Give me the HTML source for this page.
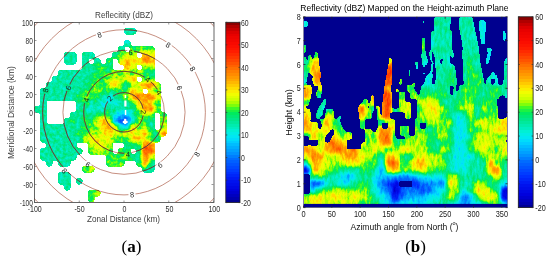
<!DOCTYPE html><html><head><meta charset="utf-8"><style>html,body{margin:0;padding:0;background:#fff;width:550px;height:258px;overflow:hidden}svg{display:block}</style></head><body>
<svg width="550" height="258" viewBox="0 0 550 258">
<defs><linearGradient id="jetL" x1="0" y1="0" x2="0" y2="1"><stop offset="0.0000" stop-color="rgb(139,0,0)"/><stop offset="0.0156" stop-color="rgb(139,0,0)"/><stop offset="0.0156" stop-color="rgb(176,0,0)"/><stop offset="0.0312" stop-color="rgb(176,0,0)"/><stop offset="0.0312" stop-color="rgb(199,0,0)"/><stop offset="0.0469" stop-color="rgb(199,0,0)"/><stop offset="0.0469" stop-color="rgb(220,0,0)"/><stop offset="0.0625" stop-color="rgb(220,0,0)"/><stop offset="0.0625" stop-color="rgb(232,1,0)"/><stop offset="0.0781" stop-color="rgb(232,1,0)"/><stop offset="0.0781" stop-color="rgb(238,4,0)"/><stop offset="0.0938" stop-color="rgb(238,4,0)"/><stop offset="0.0938" stop-color="rgb(242,6,0)"/><stop offset="0.1094" stop-color="rgb(242,6,0)"/><stop offset="0.1094" stop-color="rgb(248,9,0)"/><stop offset="0.1250" stop-color="rgb(248,9,0)"/><stop offset="0.1250" stop-color="rgb(251,14,0)"/><stop offset="0.1406" stop-color="rgb(251,14,0)"/><stop offset="0.1406" stop-color="rgb(253,21,0)"/><stop offset="0.1562" stop-color="rgb(253,21,0)"/><stop offset="0.1562" stop-color="rgb(255,29,0)"/><stop offset="0.1719" stop-color="rgb(255,29,0)"/><stop offset="0.1719" stop-color="rgb(255,42,0)"/><stop offset="0.1875" stop-color="rgb(255,42,0)"/><stop offset="0.1875" stop-color="rgb(255,55,0)"/><stop offset="0.2031" stop-color="rgb(255,55,0)"/><stop offset="0.2031" stop-color="rgb(255,69,0)"/><stop offset="0.2188" stop-color="rgb(255,69,0)"/><stop offset="0.2188" stop-color="rgb(255,83,0)"/><stop offset="0.2344" stop-color="rgb(255,83,0)"/><stop offset="0.2344" stop-color="rgb(255,98,0)"/><stop offset="0.2500" stop-color="rgb(255,98,0)"/><stop offset="0.2500" stop-color="rgb(255,112,0)"/><stop offset="0.2656" stop-color="rgb(255,112,0)"/><stop offset="0.2656" stop-color="rgb(255,126,0)"/><stop offset="0.2812" stop-color="rgb(255,126,0)"/><stop offset="0.2812" stop-color="rgb(255,139,0)"/><stop offset="0.2969" stop-color="rgb(255,139,0)"/><stop offset="0.2969" stop-color="rgb(255,153,0)"/><stop offset="0.3125" stop-color="rgb(255,153,0)"/><stop offset="0.3125" stop-color="rgb(255,166,0)"/><stop offset="0.3281" stop-color="rgb(255,166,0)"/><stop offset="0.3281" stop-color="rgb(255,183,0)"/><stop offset="0.3438" stop-color="rgb(255,183,0)"/><stop offset="0.3438" stop-color="rgb(255,202,0)"/><stop offset="0.3594" stop-color="rgb(255,202,0)"/><stop offset="0.3594" stop-color="rgb(255,221,0)"/><stop offset="0.3750" stop-color="rgb(255,221,0)"/><stop offset="0.3750" stop-color="rgb(250,238,0)"/><stop offset="0.3906" stop-color="rgb(250,238,0)"/><stop offset="0.3906" stop-color="rgb(241,253,0)"/><stop offset="0.4062" stop-color="rgb(241,253,0)"/><stop offset="0.4062" stop-color="rgb(223,255,0)"/><stop offset="0.4219" stop-color="rgb(223,255,0)"/><stop offset="0.4219" stop-color="rgb(205,255,0)"/><stop offset="0.4375" stop-color="rgb(205,255,0)"/><stop offset="0.4375" stop-color="rgb(173,255,0)"/><stop offset="0.4531" stop-color="rgb(173,255,0)"/><stop offset="0.4531" stop-color="rgb(126,254,11)"/><stop offset="0.4688" stop-color="rgb(126,254,11)"/><stop offset="0.4688" stop-color="rgb(64,250,38)"/><stop offset="0.4844" stop-color="rgb(64,250,38)"/><stop offset="0.4844" stop-color="rgb(28,242,67)"/><stop offset="0.5000" stop-color="rgb(28,242,67)"/><stop offset="0.5000" stop-color="rgb(0,235,94)"/><stop offset="0.5156" stop-color="rgb(0,235,94)"/><stop offset="0.5156" stop-color="rgb(0,232,116)"/><stop offset="0.5312" stop-color="rgb(0,232,116)"/><stop offset="0.5312" stop-color="rgb(0,231,137)"/><stop offset="0.5469" stop-color="rgb(0,231,137)"/><stop offset="0.5469" stop-color="rgb(0,233,156)"/><stop offset="0.5625" stop-color="rgb(0,233,156)"/><stop offset="0.5625" stop-color="rgb(0,236,175)"/><stop offset="0.5781" stop-color="rgb(0,236,175)"/><stop offset="0.5781" stop-color="rgb(0,238,193)"/><stop offset="0.5938" stop-color="rgb(0,238,193)"/><stop offset="0.5938" stop-color="rgb(0,240,212)"/><stop offset="0.6094" stop-color="rgb(0,240,212)"/><stop offset="0.6094" stop-color="rgb(0,237,229)"/><stop offset="0.6250" stop-color="rgb(0,237,229)"/><stop offset="0.6250" stop-color="rgb(0,231,243)"/><stop offset="0.6406" stop-color="rgb(0,231,243)"/><stop offset="0.6406" stop-color="rgb(0,220,251)"/><stop offset="0.6562" stop-color="rgb(0,220,251)"/><stop offset="0.6562" stop-color="rgb(0,206,255)"/><stop offset="0.6719" stop-color="rgb(0,206,255)"/><stop offset="0.6719" stop-color="rgb(0,189,255)"/><stop offset="0.6875" stop-color="rgb(0,189,255)"/><stop offset="0.6875" stop-color="rgb(0,174,255)"/><stop offset="0.7031" stop-color="rgb(0,174,255)"/><stop offset="0.7031" stop-color="rgb(0,160,255)"/><stop offset="0.7188" stop-color="rgb(0,160,255)"/><stop offset="0.7188" stop-color="rgb(0,145,255)"/><stop offset="0.7344" stop-color="rgb(0,145,255)"/><stop offset="0.7344" stop-color="rgb(0,126,255)"/><stop offset="0.7500" stop-color="rgb(0,126,255)"/><stop offset="0.7500" stop-color="rgb(0,108,255)"/><stop offset="0.7656" stop-color="rgb(0,108,255)"/><stop offset="0.7656" stop-color="rgb(0,96,255)"/><stop offset="0.7812" stop-color="rgb(0,96,255)"/><stop offset="0.7812" stop-color="rgb(0,84,255)"/><stop offset="0.7969" stop-color="rgb(0,84,255)"/><stop offset="0.7969" stop-color="rgb(0,72,255)"/><stop offset="0.8125" stop-color="rgb(0,72,255)"/><stop offset="0.8125" stop-color="rgb(0,60,255)"/><stop offset="0.8281" stop-color="rgb(0,60,255)"/><stop offset="0.8281" stop-color="rgb(0,48,254)"/><stop offset="0.8438" stop-color="rgb(0,48,254)"/><stop offset="0.8438" stop-color="rgb(0,38,249)"/><stop offset="0.8594" stop-color="rgb(0,38,249)"/><stop offset="0.8594" stop-color="rgb(0,27,244)"/><stop offset="0.8750" stop-color="rgb(0,27,244)"/><stop offset="0.8750" stop-color="rgb(0,18,238)"/><stop offset="0.8906" stop-color="rgb(0,18,238)"/><stop offset="0.8906" stop-color="rgb(0,13,233)"/><stop offset="0.9062" stop-color="rgb(0,13,233)"/><stop offset="0.9062" stop-color="rgb(0,7,227)"/><stop offset="0.9219" stop-color="rgb(0,7,227)"/><stop offset="0.9219" stop-color="rgb(0,1,221)"/><stop offset="0.9375" stop-color="rgb(0,1,221)"/><stop offset="0.9375" stop-color="rgb(0,0,208)"/><stop offset="0.9531" stop-color="rgb(0,0,208)"/><stop offset="0.9531" stop-color="rgb(0,0,192)"/><stop offset="0.9688" stop-color="rgb(0,0,192)"/><stop offset="0.9688" stop-color="rgb(0,0,176)"/><stop offset="0.9844" stop-color="rgb(0,0,176)"/><stop offset="0.9844" stop-color="rgb(0,0,146)"/><stop offset="1.0000" stop-color="rgb(0,0,146)"/></linearGradient>
<clipPath id="Rclip"><rect x="303.5" y="16.8" width="204.0" height="190.79999999999998"/></clipPath>
<filter id="Rf" x="293.5" y="6.800000000000001" width="224.0" height="210.79999999999998" filterUnits="userSpaceOnUse" color-interpolation-filters="sRGB">
 <feGaussianBlur in="SourceGraphic" stdDeviation="2.0" result="b"/>
 <feTurbulence type="fractalNoise" baseFrequency="0.4 0.15" numOctaves="2" seed="5" result="n0"/>
 <feColorMatrix in="n0" type="matrix" values="1 0 0 0 0 1 0 0 0 0 1 0 0 0 0 0 0 0 0 1" result="n"/>
 <feComposite in="b" in2="n" operator="arithmetic" k1="0" k2="1" k3="0.15" k4="-0.075" result="s"/>
 <feComponentTransfer in="s">
  <feFuncR type="discrete" tableValues="0.0000 0.0000 0.0000 0.0000 0.0000 0.0000 0.0000 0.0000 0.0000 0.0000 0.0000 0.0000 0.0000 0.0000 0.0000 0.0000 0.0000 0.0000 0.0000 0.0000 0.0000 0.0000 0.0000 0.0000 0.0000 0.0000 0.0000 0.0000 0.0000 0.0000 0.0000 0.0000 0.1096 0.2500 0.4951 0.6776 0.8032 0.8758 0.9449 0.9816 1.0000 1.0000 1.0000 1.0000 1.0000 1.0000 1.0000 1.0000 1.0000 1.0000 1.0000 1.0000 1.0000 0.9990 0.9915 0.9841 0.9706 0.9510 0.9314 0.9118 0.8611 0.7794 0.6912 0.5441"/>
  <feFuncG type="discrete" tableValues="0.0000 0.0000 0.0000 0.0000 0.0057 0.0275 0.0492 0.0710 0.1062 0.1482 0.1902 0.2369 0.2843 0.3312 0.3771 0.4231 0.4932 0.5686 0.6285 0.6830 0.7427 0.8063 0.8619 0.9064 0.9289 0.9401 0.9330 0.9239 0.9146 0.9052 0.9090 0.9197 0.9490 0.9812 0.9948 1.0000 1.0000 1.0000 0.9939 0.9326 0.8652 0.7917 0.7181 0.6510 0.5989 0.5467 0.4946 0.4398 0.3828 0.3258 0.2692 0.2162 0.1632 0.1135 0.0838 0.0541 0.0343 0.0245 0.0147 0.0049 0.0000 0.0000 0.0000 0.0000"/>
  <feFuncB type="discrete" tableValues="0.5711 0.6901 0.7531 0.8161 0.8684 0.8902 0.9120 0.9338 0.9550 0.9761 0.9971 1.0000 1.0000 1.0000 1.0000 1.0000 1.0000 1.0000 1.0000 1.0000 1.0000 1.0000 0.9860 0.9525 0.8971 0.8302 0.7582 0.6855 0.6109 0.5354 0.4535 0.3683 0.2616 0.1503 0.0414 0.0000 0.0000 0.0000 0.0000 0.0000 0.0000 0.0000 0.0000 0.0000 0.0000 0.0000 0.0000 0.0000 0.0000 0.0000 0.0000 0.0000 0.0000 0.0000 0.0000 0.0000 0.0000 0.0000 0.0000 0.0000 0.0000 0.0000 0.0000 0.0000"/>
  <feFuncA type="linear" slope="0" intercept="1"/>
 </feComponentTransfer>
</filter>
<filter id="Rmf" x="293.5" y="6.800000000000001" width="224.0" height="210.79999999999998" filterUnits="userSpaceOnUse" color-interpolation-filters="sRGB">
 <feGaussianBlur in="SourceGraphic" stdDeviation="1.2" result="b"/>
 <feComponentTransfer in="b">
  <feFuncR type="discrete" tableValues="0 1"/>
  <feFuncG type="discrete" tableValues="0 1"/>
  <feFuncB type="discrete" tableValues="0 1"/>
  <feFuncA type="linear" slope="0" intercept="1"/>
 </feComponentTransfer>
</filter>
<mask id="Rmask" maskUnits="userSpaceOnUse" x="303.5" y="16.8" width="204.0" height="190.79999999999998">
 <g filter="url(#Rmf)"><rect x="293.5" y="6.800000000000001" width="224.0" height="210.79999999999998" fill="#000"/><g fill="#fff"><rect x="303.50" y="153.09" width="7.40" height="7.41"/><rect x="310.30" y="153.09" width="7.40" height="7.41"/><rect x="317.10" y="153.09" width="7.40" height="7.41"/><rect x="323.90" y="153.09" width="7.40" height="7.41"/><rect x="330.70" y="153.09" width="7.40" height="7.41"/><rect x="337.50" y="153.09" width="7.40" height="7.41"/><rect x="344.30" y="153.09" width="7.40" height="7.41"/><rect x="351.10" y="153.09" width="7.40" height="7.41"/><rect x="357.90" y="153.09" width="7.40" height="7.41"/><rect x="364.70" y="153.09" width="7.40" height="7.41"/><rect x="371.50" y="153.09" width="7.40" height="7.41"/><rect x="378.30" y="153.09" width="7.40" height="7.41"/><rect x="385.10" y="153.09" width="7.40" height="7.41"/><rect x="391.90" y="153.09" width="7.40" height="7.41"/><rect x="398.70" y="153.09" width="7.40" height="7.41"/><rect x="405.50" y="153.09" width="7.40" height="7.41"/><rect x="412.30" y="153.09" width="7.40" height="7.41"/><rect x="419.10" y="153.09" width="7.40" height="7.41"/><rect x="425.90" y="153.09" width="7.40" height="7.41"/><rect x="432.70" y="153.09" width="7.40" height="7.41"/><rect x="439.50" y="153.09" width="7.40" height="7.41"/><rect x="446.30" y="153.09" width="7.40" height="7.41"/><rect x="453.10" y="153.09" width="7.40" height="7.41"/><rect x="459.90" y="153.09" width="7.40" height="7.41"/><rect x="466.70" y="153.09" width="7.40" height="7.41"/><rect x="473.50" y="153.09" width="7.40" height="7.41"/><rect x="480.30" y="153.09" width="7.40" height="7.41"/><rect x="487.10" y="153.09" width="7.40" height="7.41"/><rect x="493.90" y="153.09" width="7.40" height="7.41"/><rect x="500.70" y="153.09" width="7.40" height="7.41"/><rect x="303.50" y="159.90" width="7.40" height="7.41"/><rect x="310.30" y="159.90" width="7.40" height="7.41"/><rect x="317.10" y="159.90" width="7.40" height="7.41"/><rect x="323.90" y="159.90" width="7.40" height="7.41"/><rect x="330.70" y="159.90" width="7.40" height="7.41"/><rect x="337.50" y="159.90" width="7.40" height="7.41"/><rect x="344.30" y="159.90" width="7.40" height="7.41"/><rect x="351.10" y="159.90" width="7.40" height="7.41"/><rect x="357.90" y="159.90" width="7.40" height="7.41"/><rect x="364.70" y="159.90" width="7.40" height="7.41"/><rect x="371.50" y="159.90" width="7.40" height="7.41"/><rect x="378.30" y="159.90" width="7.40" height="7.41"/><rect x="385.10" y="159.90" width="7.40" height="7.41"/><rect x="391.90" y="159.90" width="7.40" height="7.41"/><rect x="398.70" y="159.90" width="7.40" height="7.41"/><rect x="405.50" y="159.90" width="7.40" height="7.41"/><rect x="412.30" y="159.90" width="7.40" height="7.41"/><rect x="419.10" y="159.90" width="7.40" height="7.41"/><rect x="425.90" y="159.90" width="7.40" height="7.41"/><rect x="432.70" y="159.90" width="7.40" height="7.41"/><rect x="439.50" y="159.90" width="7.40" height="7.41"/><rect x="446.30" y="159.90" width="7.40" height="7.41"/><rect x="453.10" y="159.90" width="7.40" height="7.41"/><rect x="459.90" y="159.90" width="7.40" height="7.41"/><rect x="466.70" y="159.90" width="7.40" height="7.41"/><rect x="473.50" y="159.90" width="7.40" height="7.41"/><rect x="480.30" y="159.90" width="7.40" height="7.41"/><rect x="487.10" y="159.90" width="7.40" height="7.41"/><rect x="493.90" y="159.90" width="7.40" height="7.41"/><rect x="500.70" y="159.90" width="7.40" height="7.41"/><rect x="303.50" y="166.71" width="7.40" height="7.41"/><rect x="310.30" y="166.71" width="7.40" height="7.41"/><rect x="317.10" y="166.71" width="7.40" height="7.41"/><rect x="323.90" y="166.71" width="7.40" height="7.41"/><rect x="330.70" y="166.71" width="7.40" height="7.41"/><rect x="337.50" y="166.71" width="7.40" height="7.41"/><rect x="344.30" y="166.71" width="7.40" height="7.41"/><rect x="351.10" y="166.71" width="7.40" height="7.41"/><rect x="357.90" y="166.71" width="7.40" height="7.41"/><rect x="364.70" y="166.71" width="7.40" height="7.41"/><rect x="371.50" y="166.71" width="7.40" height="7.41"/><rect x="378.30" y="166.71" width="7.40" height="7.41"/><rect x="385.10" y="166.71" width="7.40" height="7.41"/><rect x="391.90" y="166.71" width="7.40" height="7.41"/><rect x="398.70" y="166.71" width="7.40" height="7.41"/><rect x="405.50" y="166.71" width="7.40" height="7.41"/><rect x="412.30" y="166.71" width="7.40" height="7.41"/><rect x="419.10" y="166.71" width="7.40" height="7.41"/><rect x="425.90" y="166.71" width="7.40" height="7.41"/><rect x="432.70" y="166.71" width="7.40" height="7.41"/><rect x="439.50" y="166.71" width="7.40" height="7.41"/><rect x="446.30" y="166.71" width="7.40" height="7.41"/><rect x="453.10" y="166.71" width="7.40" height="7.41"/><rect x="459.90" y="166.71" width="7.40" height="7.41"/><rect x="466.70" y="166.71" width="7.40" height="7.41"/><rect x="473.50" y="166.71" width="7.40" height="7.41"/><rect x="480.30" y="166.71" width="7.40" height="7.41"/><rect x="487.10" y="166.71" width="7.40" height="7.41"/><rect x="493.90" y="166.71" width="7.40" height="7.41"/><rect x="500.70" y="166.71" width="7.40" height="7.41"/><rect x="310.30" y="173.53" width="7.40" height="7.41"/><rect x="317.10" y="173.53" width="7.40" height="7.41"/><rect x="323.90" y="173.53" width="7.40" height="7.41"/><rect x="330.70" y="173.53" width="7.40" height="7.41"/><rect x="337.50" y="173.53" width="7.40" height="7.41"/><rect x="344.30" y="173.53" width="7.40" height="7.41"/><rect x="351.10" y="173.53" width="7.40" height="7.41"/><rect x="357.90" y="173.53" width="7.40" height="7.41"/><rect x="364.70" y="173.53" width="7.40" height="7.41"/><rect x="371.50" y="173.53" width="7.40" height="7.41"/><rect x="378.30" y="173.53" width="7.40" height="7.41"/><rect x="385.10" y="173.53" width="7.40" height="7.41"/><rect x="391.90" y="173.53" width="7.40" height="7.41"/><rect x="398.70" y="173.53" width="7.40" height="7.41"/><rect x="405.50" y="173.53" width="7.40" height="7.41"/><rect x="412.30" y="173.53" width="7.40" height="7.41"/><rect x="419.10" y="173.53" width="7.40" height="7.41"/><rect x="425.90" y="173.53" width="7.40" height="7.41"/><rect x="432.70" y="173.53" width="7.40" height="7.41"/><rect x="439.50" y="173.53" width="7.40" height="7.41"/><rect x="446.30" y="173.53" width="7.40" height="7.41"/><rect x="453.10" y="173.53" width="7.40" height="7.41"/><rect x="459.90" y="173.53" width="7.40" height="7.41"/><rect x="466.70" y="173.53" width="7.40" height="7.41"/><rect x="473.50" y="173.53" width="7.40" height="7.41"/><rect x="480.30" y="173.53" width="7.40" height="7.41"/><rect x="487.10" y="173.53" width="7.40" height="7.41"/><rect x="493.90" y="173.53" width="7.40" height="7.41"/><rect x="500.70" y="173.53" width="7.40" height="7.41"/><rect x="310.30" y="180.34" width="7.40" height="7.41"/><rect x="317.10" y="180.34" width="7.40" height="7.41"/><rect x="323.90" y="180.34" width="7.40" height="7.41"/><rect x="330.70" y="180.34" width="7.40" height="7.41"/><rect x="337.50" y="180.34" width="7.40" height="7.41"/><rect x="344.30" y="180.34" width="7.40" height="7.41"/><rect x="351.10" y="180.34" width="7.40" height="7.41"/><rect x="357.90" y="180.34" width="7.40" height="7.41"/><rect x="364.70" y="180.34" width="7.40" height="7.41"/><rect x="371.50" y="180.34" width="7.40" height="7.41"/><rect x="378.30" y="180.34" width="7.40" height="7.41"/><rect x="385.10" y="180.34" width="7.40" height="7.41"/><rect x="391.90" y="180.34" width="7.40" height="7.41"/><rect x="412.30" y="180.34" width="7.40" height="7.41"/><rect x="419.10" y="180.34" width="7.40" height="7.41"/><rect x="425.90" y="180.34" width="7.40" height="7.41"/><rect x="432.70" y="180.34" width="7.40" height="7.41"/><rect x="439.50" y="180.34" width="7.40" height="7.41"/><rect x="446.30" y="180.34" width="7.40" height="7.41"/><rect x="453.10" y="180.34" width="7.40" height="7.41"/><rect x="459.90" y="180.34" width="7.40" height="7.41"/><rect x="466.70" y="180.34" width="7.40" height="7.41"/><rect x="473.50" y="180.34" width="7.40" height="7.41"/><rect x="480.30" y="180.34" width="7.40" height="7.41"/><rect x="487.10" y="180.34" width="7.40" height="7.41"/><rect x="493.90" y="180.34" width="7.40" height="7.41"/><rect x="500.70" y="180.34" width="7.40" height="7.41"/><rect x="310.30" y="187.16" width="7.40" height="7.41"/><rect x="317.10" y="187.16" width="7.40" height="7.41"/><rect x="323.90" y="187.16" width="7.40" height="7.41"/><rect x="330.70" y="187.16" width="7.40" height="7.41"/><rect x="337.50" y="187.16" width="7.40" height="7.41"/><rect x="344.30" y="187.16" width="7.40" height="7.41"/><rect x="351.10" y="187.16" width="7.40" height="7.41"/><rect x="357.90" y="187.16" width="7.40" height="7.41"/><rect x="364.70" y="187.16" width="7.40" height="7.41"/><rect x="371.50" y="187.16" width="7.40" height="7.41"/><rect x="378.30" y="187.16" width="7.40" height="7.41"/><rect x="385.10" y="187.16" width="7.40" height="7.41"/><rect x="391.90" y="187.16" width="7.40" height="7.41"/><rect x="398.70" y="187.16" width="7.40" height="7.41"/><rect x="405.50" y="187.16" width="7.40" height="7.41"/><rect x="412.30" y="187.16" width="7.40" height="7.41"/><rect x="419.10" y="187.16" width="7.40" height="7.41"/><rect x="425.90" y="187.16" width="7.40" height="7.41"/><rect x="432.70" y="187.16" width="7.40" height="7.41"/><rect x="439.50" y="187.16" width="7.40" height="7.41"/><rect x="446.30" y="187.16" width="7.40" height="7.41"/><rect x="453.10" y="187.16" width="7.40" height="7.41"/><rect x="459.90" y="187.16" width="7.40" height="7.41"/><rect x="466.70" y="187.16" width="7.40" height="7.41"/><rect x="473.50" y="187.16" width="7.40" height="7.41"/><rect x="480.30" y="187.16" width="7.40" height="7.41"/><rect x="487.10" y="187.16" width="7.40" height="7.41"/><rect x="493.90" y="187.16" width="7.40" height="7.41"/><rect x="500.70" y="187.16" width="7.40" height="7.41"/><rect x="303.50" y="193.97" width="7.40" height="7.41"/><rect x="310.30" y="193.97" width="7.40" height="7.41"/><rect x="317.10" y="193.97" width="7.40" height="7.41"/><rect x="323.90" y="193.97" width="7.40" height="7.41"/><rect x="330.70" y="193.97" width="7.40" height="7.41"/><rect x="337.50" y="193.97" width="7.40" height="7.41"/><rect x="344.30" y="193.97" width="7.40" height="7.41"/><rect x="351.10" y="193.97" width="7.40" height="7.41"/><rect x="357.90" y="193.97" width="7.40" height="7.41"/><rect x="364.70" y="193.97" width="7.40" height="7.41"/><rect x="371.50" y="193.97" width="7.40" height="7.41"/><rect x="378.30" y="193.97" width="7.40" height="7.41"/><rect x="385.10" y="193.97" width="7.40" height="7.41"/><rect x="391.90" y="193.97" width="7.40" height="7.41"/><rect x="398.70" y="193.97" width="7.40" height="7.41"/><rect x="405.50" y="193.97" width="7.40" height="7.41"/><rect x="412.30" y="193.97" width="7.40" height="7.41"/><rect x="419.10" y="193.97" width="7.40" height="7.41"/><rect x="425.90" y="193.97" width="7.40" height="7.41"/><rect x="432.70" y="193.97" width="7.40" height="7.41"/><rect x="439.50" y="193.97" width="7.40" height="7.41"/><rect x="446.30" y="193.97" width="7.40" height="7.41"/><rect x="453.10" y="193.97" width="7.40" height="7.41"/><rect x="459.90" y="193.97" width="7.40" height="7.41"/><rect x="466.70" y="193.97" width="7.40" height="7.41"/><rect x="473.50" y="193.97" width="7.40" height="7.41"/><rect x="480.30" y="193.97" width="7.40" height="7.41"/><rect x="487.10" y="193.97" width="7.40" height="7.41"/><rect x="493.90" y="193.97" width="7.40" height="7.41"/><rect x="500.70" y="193.97" width="7.40" height="7.41"/><rect x="303.50" y="200.79" width="7.40" height="7.41"/><rect x="310.30" y="200.79" width="7.40" height="7.41"/><rect x="317.10" y="200.79" width="7.40" height="7.41"/><rect x="323.90" y="200.79" width="7.40" height="7.41"/><rect x="330.70" y="200.79" width="7.40" height="7.41"/><rect x="337.50" y="200.79" width="7.40" height="7.41"/><rect x="344.30" y="200.79" width="7.40" height="7.41"/><rect x="351.10" y="200.79" width="7.40" height="7.41"/><rect x="357.90" y="200.79" width="7.40" height="7.41"/><rect x="364.70" y="200.79" width="7.40" height="7.41"/><rect x="371.50" y="200.79" width="7.40" height="7.41"/><rect x="378.30" y="200.79" width="7.40" height="7.41"/><rect x="385.10" y="200.79" width="7.40" height="7.41"/><rect x="391.90" y="200.79" width="7.40" height="7.41"/><rect x="398.70" y="200.79" width="7.40" height="7.41"/><rect x="405.50" y="200.79" width="7.40" height="7.41"/><rect x="412.30" y="200.79" width="7.40" height="7.41"/><rect x="419.10" y="200.79" width="7.40" height="7.41"/><rect x="425.90" y="200.79" width="7.40" height="7.41"/><rect x="432.70" y="200.79" width="7.40" height="7.41"/><rect x="439.50" y="200.79" width="7.40" height="7.41"/><rect x="446.30" y="200.79" width="7.40" height="7.41"/><rect x="453.10" y="200.79" width="7.40" height="7.41"/><rect x="459.90" y="200.79" width="7.40" height="7.41"/><rect x="466.70" y="200.79" width="7.40" height="7.41"/><rect x="473.50" y="200.79" width="7.40" height="7.41"/><rect x="480.30" y="200.79" width="7.40" height="7.41"/><rect x="487.10" y="200.79" width="7.40" height="7.41"/><rect x="493.90" y="200.79" width="7.40" height="7.41"/><rect x="500.70" y="200.79" width="7.40" height="7.41"/><rect x="304.05" y="20.39" width="3.56" height="3.79"/><rect x="304.05" y="23.79" width="3.56" height="3.79"/><rect x="303.66" y="44.14" width="2.64" height="3.79"/><rect x="303.66" y="47.54" width="2.64" height="3.79"/><rect x="304.05" y="50.93" width="1.58" height="3.79"/><rect x="314.86" y="50.93" width="2.64" height="3.79"/><rect x="304.05" y="54.32" width="1.58" height="3.79"/><rect x="308.27" y="54.32" width="2.64" height="3.79"/><rect x="314.20" y="54.32" width="3.95" height="3.79"/><rect x="304.05" y="57.71" width="2.24" height="3.79"/><rect x="308.27" y="57.71" width="3.95" height="3.79"/><rect x="313.54" y="57.71" width="5.27" height="3.79"/><rect x="304.05" y="61.11" width="8.17" height="3.79"/><rect x="313.28" y="61.11" width="6.19" height="3.79"/><rect x="304.05" y="64.50" width="15.42" height="3.79"/><rect x="304.05" y="67.89" width="16.07" height="3.79"/><rect x="304.05" y="71.29" width="4.22" height="3.79"/><rect x="310.25" y="71.29" width="10.54" height="3.79"/><rect x="304.05" y="74.68" width="3.56" height="3.79"/><rect x="312.88" y="74.68" width="7.91" height="3.79"/><rect x="304.05" y="78.07" width="2.90" height="3.79"/><rect x="312.22" y="78.07" width="7.91" height="3.79"/><rect x="304.05" y="81.46" width="2.24" height="3.79"/><rect x="313.54" y="81.46" width="7.25" height="3.79"/><rect x="304.05" y="84.86" width="7.51" height="3.79"/><rect x="314.20" y="84.86" width="1.32" height="3.79"/><rect x="318.15" y="84.86" width="3.95" height="3.79"/><rect x="304.05" y="88.25" width="7.51" height="3.79"/><rect x="317.49" y="88.25" width="4.61" height="3.79"/><rect x="304.05" y="91.64" width="7.51" height="3.79"/><rect x="315.52" y="91.64" width="1.98" height="3.79"/><rect x="318.15" y="91.64" width="3.29" height="3.79"/><rect x="304.05" y="95.04" width="6.85" height="3.79"/><rect x="316.18" y="95.04" width="1.32" height="3.79"/><rect x="318.81" y="95.04" width="2.64" height="3.79"/><rect x="304.05" y="98.43" width="6.19" height="3.79"/><rect x="316.18" y="98.43" width="1.32" height="3.79"/><rect x="323.42" y="98.43" width="2.64" height="3.79"/><rect x="363.61" y="98.43" width="3.95" height="3.79"/><rect x="304.05" y="101.82" width="4.87" height="3.79"/><rect x="321.45" y="101.82" width="4.61" height="3.79"/><rect x="360.97" y="101.82" width="7.25" height="3.79"/><rect x="369.53" y="101.82" width="2.50" height="3.79"/><rect x="304.05" y="105.21" width="1.58" height="3.79"/><rect x="318.81" y="105.21" width="5.93" height="3.79"/><rect x="358.34" y="105.21" width="9.22" height="3.79"/><rect x="369.53" y="105.21" width="2.50" height="3.79"/><rect x="304.05" y="108.61" width="6.19" height="3.79"/><rect x="317.49" y="108.61" width="5.93" height="3.79"/><rect x="326.06" y="108.61" width="7.25" height="3.79"/><rect x="358.34" y="108.61" width="9.22" height="3.79"/><rect x="368.88" y="108.61" width="3.16" height="3.79"/><rect x="304.05" y="112.00" width="6.85" height="3.79"/><rect x="316.18" y="112.00" width="6.59" height="3.79"/><rect x="325.40" y="112.00" width="8.56" height="3.79"/><rect x="358.99" y="112.00" width="8.56" height="3.79"/><rect x="368.88" y="112.00" width="3.16" height="3.79"/><rect x="304.05" y="115.39" width="7.51" height="3.79"/><rect x="316.18" y="115.39" width="3.95" height="3.79"/><rect x="324.74" y="115.39" width="9.22" height="3.79"/><rect x="338.57" y="115.39" width="2.64" height="3.79"/><rect x="358.99" y="115.39" width="9.22" height="3.79"/><rect x="368.88" y="115.39" width="3.16" height="3.79"/><rect x="303.66" y="118.79" width="6.32" height="3.79"/><rect x="320.39" y="118.79" width="19.63" height="3.79"/><rect x="360.05" y="118.79" width="5.01" height="3.79"/><rect x="303.66" y="122.18" width="14.36" height="3.79"/><rect x="321.58" y="122.18" width="19.63" height="3.79"/><rect x="360.05" y="122.18" width="5.01" height="3.79"/><rect x="303.66" y="125.57" width="14.36" height="3.79"/><rect x="321.58" y="125.57" width="20.95" height="3.79"/><rect x="360.05" y="125.57" width="5.01" height="3.79"/><rect x="303.66" y="128.96" width="26.35" height="3.79"/><rect x="334.36" y="128.96" width="10.80" height="3.79"/><rect x="365.06" y="128.96" width="6.98" height="3.79"/><rect x="303.66" y="132.36" width="23.32" height="3.79"/><rect x="334.36" y="132.36" width="17.65" height="3.79"/><rect x="365.06" y="132.36" width="6.98" height="3.79"/><rect x="308.80" y="135.75" width="16.21" height="3.79"/><rect x="331.99" y="135.75" width="20.03" height="3.79"/><rect x="365.06" y="135.75" width="6.98" height="3.79"/><rect x="308.80" y="139.14" width="1.19" height="3.79"/><rect x="318.02" y="139.14" width="6.98" height="3.79"/><rect x="330.01" y="139.14" width="17.00" height="3.79"/><rect x="365.06" y="139.14" width="6.98" height="3.79"/><rect x="308.80" y="142.54" width="1.19" height="3.79"/><rect x="318.02" y="142.54" width="28.99" height="3.79"/><rect x="361.37" y="142.54" width="10.67" height="3.79"/><rect x="303.66" y="145.93" width="43.35" height="3.79"/><rect x="361.37" y="145.93" width="10.67" height="3.79"/><rect x="303.66" y="149.32" width="68.38" height="3.79"/><rect x="423.04" y="17.00" width="1.32" height="3.79"/><rect x="434.24" y="17.00" width="5.80" height="3.79"/><rect x="422.38" y="20.39" width="1.98" height="3.79"/><rect x="434.24" y="20.39" width="5.80" height="3.79"/><rect x="434.24" y="23.79" width="5.80" height="3.79"/><rect x="434.24" y="27.18" width="5.80" height="3.79"/><rect x="430.95" y="30.57" width="1.98" height="3.79"/><rect x="434.24" y="30.57" width="5.80" height="3.79"/><rect x="430.95" y="33.96" width="1.98" height="3.79"/><rect x="434.24" y="33.96" width="5.80" height="3.79"/><rect x="421.72" y="37.36" width="3.29" height="3.79"/><rect x="430.95" y="37.36" width="1.98" height="3.79"/><rect x="434.24" y="37.36" width="5.80" height="3.79"/><rect x="421.72" y="40.75" width="3.29" height="3.79"/><rect x="430.95" y="40.75" width="1.98" height="3.79"/><rect x="434.24" y="40.75" width="5.80" height="3.79"/><rect x="421.72" y="44.14" width="3.29" height="3.79"/><rect x="430.95" y="44.14" width="1.98" height="3.79"/><rect x="434.24" y="44.14" width="5.80" height="3.79"/><rect x="421.72" y="47.54" width="3.29" height="3.79"/><rect x="430.95" y="47.54" width="1.98" height="3.79"/><rect x="434.24" y="47.54" width="5.80" height="3.79"/><rect x="421.72" y="50.93" width="4.61" height="3.79"/><rect x="428.97" y="50.93" width="2.64" height="3.79"/><rect x="433.58" y="50.93" width="6.46" height="3.79"/><rect x="421.07" y="54.32" width="5.27" height="3.79"/><rect x="429.63" y="54.32" width="2.64" height="3.79"/><rect x="434.24" y="54.32" width="5.80" height="3.79"/><rect x="388.79" y="57.71" width="3.03" height="3.79"/><rect x="421.72" y="57.71" width="1.32" height="3.79"/><rect x="424.36" y="57.71" width="3.29" height="3.79"/><rect x="430.29" y="57.71" width="1.98" height="3.79"/><rect x="435.56" y="57.71" width="4.48" height="3.79"/><rect x="388.79" y="61.11" width="3.03" height="3.79"/><rect x="415.14" y="61.11" width="2.64" height="3.79"/><rect x="421.72" y="61.11" width="1.98" height="3.79"/><rect x="425.02" y="61.11" width="2.64" height="3.79"/><rect x="431.61" y="61.11" width="1.98" height="3.79"/><rect x="435.56" y="61.11" width="4.48" height="3.79"/><rect x="388.13" y="64.50" width="3.95" height="3.79"/><rect x="415.80" y="64.50" width="2.64" height="3.79"/><rect x="423.04" y="64.50" width="1.98" height="3.79"/><rect x="430.95" y="64.50" width="1.98" height="3.79"/><rect x="434.90" y="64.50" width="5.14" height="3.79"/><rect x="387.47" y="67.89" width="4.61" height="3.79"/><rect x="408.55" y="67.89" width="1.71" height="3.79"/><rect x="416.45" y="67.89" width="1.32" height="3.79"/><rect x="430.95" y="67.89" width="1.98" height="3.79"/><rect x="436.22" y="67.89" width="3.82" height="3.79"/><rect x="386.81" y="71.29" width="5.27" height="3.79"/><rect x="408.55" y="71.29" width="1.71" height="3.79"/><rect x="423.04" y="71.29" width="1.98" height="3.79"/><rect x="429.63" y="71.29" width="2.64" height="3.79"/><rect x="435.56" y="71.29" width="4.48" height="3.79"/><rect x="386.15" y="74.68" width="5.93" height="3.79"/><rect x="408.55" y="74.68" width="1.71" height="3.79"/><rect x="426.34" y="74.68" width="6.59" height="3.79"/><rect x="435.56" y="74.68" width="4.48" height="3.79"/><rect x="385.49" y="78.07" width="6.59" height="3.79"/><rect x="399.99" y="78.07" width="1.98" height="3.79"/><rect x="425.02" y="78.07" width="6.59" height="3.79"/><rect x="435.56" y="78.07" width="4.48" height="3.79"/><rect x="385.49" y="81.46" width="6.59" height="3.79"/><rect x="399.33" y="81.46" width="2.64" height="3.79"/><rect x="413.16" y="81.46" width="1.98" height="3.79"/><rect x="424.36" y="81.46" width="7.91" height="3.79"/><rect x="434.90" y="81.46" width="5.14" height="3.79"/><rect x="384.18" y="84.86" width="6.59" height="3.79"/><rect x="406.57" y="84.86" width="7.91" height="3.79"/><rect x="421.07" y="84.86" width="18.97" height="3.79"/><rect x="384.18" y="88.25" width="6.59" height="3.79"/><rect x="395.37" y="88.25" width="3.29" height="3.79"/><rect x="407.23" y="88.25" width="7.25" height="3.79"/><rect x="420.41" y="88.25" width="19.63" height="3.79"/><rect x="383.52" y="91.64" width="8.43" height="3.79"/><rect x="399.06" y="91.64" width="5.93" height="3.79"/><rect x="410.00" y="91.64" width="6.98" height="3.79"/><rect x="420.01" y="91.64" width="20.03" height="3.79"/><rect x="371.00" y="95.04" width="3.29" height="3.79"/><rect x="382.86" y="95.04" width="9.09" height="3.79"/><rect x="399.06" y="95.04" width="5.93" height="3.79"/><rect x="410.00" y="95.04" width="30.04" height="3.79"/><rect x="371.00" y="98.43" width="3.29" height="3.79"/><rect x="382.86" y="98.43" width="9.09" height="3.79"/><rect x="399.06" y="98.43" width="5.93" height="3.79"/><rect x="416.98" y="98.43" width="23.06" height="3.79"/><rect x="371.00" y="101.82" width="3.29" height="3.79"/><rect x="382.20" y="101.82" width="9.75" height="3.79"/><rect x="399.06" y="101.82" width="11.99" height="3.79"/><rect x="416.98" y="101.82" width="23.06" height="3.79"/><rect x="371.00" y="105.21" width="3.29" height="3.79"/><rect x="376.27" y="105.21" width="3.29" height="3.79"/><rect x="382.20" y="105.21" width="9.75" height="3.79"/><rect x="399.06" y="105.21" width="11.99" height="3.79"/><rect x="416.98" y="105.21" width="23.06" height="3.79"/><rect x="371.00" y="108.61" width="2.64" height="3.79"/><rect x="376.93" y="108.61" width="3.29" height="3.79"/><rect x="382.20" y="108.61" width="28.85" height="3.79"/><rect x="416.98" y="108.61" width="23.06" height="3.79"/><rect x="376.93" y="112.00" width="3.29" height="3.79"/><rect x="382.20" y="112.00" width="7.77" height="3.79"/><rect x="404.99" y="112.00" width="6.06" height="3.79"/><rect x="416.98" y="112.00" width="23.06" height="3.79"/><rect x="376.93" y="115.39" width="3.95" height="3.79"/><rect x="382.20" y="115.39" width="7.77" height="3.79"/><rect x="404.99" y="115.39" width="6.06" height="3.79"/><rect x="416.98" y="115.39" width="23.06" height="3.79"/><rect x="377.85" y="118.79" width="17.13" height="3.79"/><rect x="415.01" y="118.79" width="25.03" height="3.79"/><rect x="377.85" y="122.18" width="4.08" height="3.79"/><rect x="388.00" y="122.18" width="6.98" height="3.79"/><rect x="415.01" y="122.18" width="4.74" height="3.79"/><rect x="426.34" y="122.18" width="13.70" height="3.79"/><rect x="377.85" y="125.57" width="4.08" height="3.79"/><rect x="388.00" y="125.57" width="6.98" height="3.79"/><rect x="399.99" y="125.57" width="8.96" height="3.79"/><rect x="415.01" y="125.57" width="4.74" height="3.79"/><rect x="426.34" y="125.57" width="13.70" height="3.79"/><rect x="376.27" y="128.96" width="18.71" height="3.79"/><rect x="399.99" y="128.96" width="8.96" height="3.79"/><rect x="415.01" y="128.96" width="25.03" height="3.79"/><rect x="371.00" y="132.36" width="23.98" height="3.79"/><rect x="399.99" y="132.36" width="8.96" height="3.79"/><rect x="415.01" y="132.36" width="25.03" height="3.79"/><rect x="371.00" y="135.75" width="25.03" height="3.79"/><rect x="405.26" y="135.75" width="34.78" height="3.79"/><rect x="371.00" y="139.14" width="69.04" height="3.79"/><rect x="371.00" y="142.54" width="69.04" height="3.79"/><rect x="371.00" y="145.93" width="69.04" height="3.79"/><rect x="371.00" y="149.32" width="69.04" height="3.79"/><rect x="439.00" y="17.00" width="12.52" height="3.79"/><rect x="458.76" y="17.00" width="14.23" height="3.79"/><rect x="439.00" y="20.39" width="11.86" height="3.79"/><rect x="459.03" y="20.39" width="14.49" height="3.79"/><rect x="478.53" y="20.39" width="7.25" height="3.79"/><rect x="439.00" y="23.79" width="11.20" height="3.79"/><rect x="459.42" y="23.79" width="14.62" height="3.79"/><rect x="478.53" y="23.79" width="7.25" height="3.79"/><rect x="439.00" y="27.18" width="11.20" height="3.79"/><rect x="459.42" y="27.18" width="15.42" height="3.79"/><rect x="479.18" y="27.18" width="6.59" height="3.79"/><rect x="439.00" y="30.57" width="13.18" height="3.79"/><rect x="460.08" y="30.57" width="15.55" height="3.79"/><rect x="479.84" y="30.57" width="5.53" height="3.79"/><rect x="502.90" y="30.57" width="2.64" height="3.79"/><rect x="439.00" y="33.96" width="13.18" height="3.79"/><rect x="460.74" y="33.96" width="15.68" height="3.79"/><rect x="480.11" y="33.96" width="5.27" height="3.79"/><rect x="502.90" y="33.96" width="2.64" height="3.79"/><rect x="439.00" y="37.36" width="13.18" height="3.79"/><rect x="461.40" y="37.36" width="15.81" height="3.79"/><rect x="480.50" y="37.36" width="4.61" height="3.79"/><rect x="502.90" y="37.36" width="2.64" height="3.79"/><rect x="439.00" y="40.75" width="13.18" height="3.79"/><rect x="462.06" y="40.75" width="15.81" height="3.79"/><rect x="480.90" y="40.75" width="4.22" height="3.79"/><rect x="439.00" y="44.14" width="12.52" height="3.79"/><rect x="462.45" y="44.14" width="16.07" height="3.79"/><rect x="439.00" y="47.54" width="13.18" height="3.79"/><rect x="462.72" y="47.54" width="16.21" height="3.79"/><rect x="486.43" y="47.54" width="5.27" height="3.79"/><rect x="439.00" y="50.93" width="14.49" height="3.79"/><rect x="461.40" y="50.93" width="17.79" height="3.79"/><rect x="487.75" y="50.93" width="3.29" height="3.79"/><rect x="439.00" y="54.32" width="10.54" height="3.79"/><rect x="451.52" y="54.32" width="2.64" height="3.79"/><rect x="462.06" y="54.32" width="17.79" height="3.79"/><rect x="487.09" y="54.32" width="3.29" height="3.79"/><rect x="439.00" y="57.71" width="1.32" height="3.79"/><rect x="442.95" y="57.71" width="7.25" height="3.79"/><rect x="462.72" y="57.71" width="17.13" height="3.79"/><rect x="485.77" y="57.71" width="3.95" height="3.79"/><rect x="504.88" y="57.71" width="2.52" height="3.79"/><rect x="442.29" y="61.11" width="7.91" height="3.79"/><rect x="463.37" y="61.11" width="17.13" height="3.79"/><rect x="485.77" y="61.11" width="2.64" height="3.79"/><rect x="504.22" y="61.11" width="3.18" height="3.79"/><rect x="439.00" y="64.50" width="15.81" height="3.79"/><rect x="463.37" y="64.50" width="17.79" height="3.79"/><rect x="503.56" y="64.50" width="3.84" height="3.79"/><rect x="439.00" y="67.89" width="16.47" height="3.79"/><rect x="463.37" y="67.89" width="18.45" height="3.79"/><rect x="503.56" y="67.89" width="3.84" height="3.79"/><rect x="439.00" y="71.29" width="17.13" height="3.79"/><rect x="463.37" y="71.29" width="19.10" height="3.79"/><rect x="491.70" y="71.29" width="2.64" height="3.79"/><rect x="503.56" y="71.29" width="3.84" height="3.79"/><rect x="439.00" y="74.68" width="17.13" height="3.79"/><rect x="463.37" y="74.68" width="19.76" height="3.79"/><rect x="489.07" y="74.68" width="7.91" height="3.79"/><rect x="503.56" y="74.68" width="3.84" height="3.79"/><rect x="439.00" y="78.07" width="17.79" height="3.79"/><rect x="463.37" y="78.07" width="20.42" height="3.79"/><rect x="486.43" y="78.07" width="3.95" height="3.79"/><rect x="495.65" y="78.07" width="2.64" height="3.79"/><rect x="503.56" y="78.07" width="3.84" height="3.79"/><rect x="439.00" y="81.46" width="18.45" height="3.79"/><rect x="464.03" y="81.46" width="20.42" height="3.79"/><rect x="486.43" y="81.46" width="4.61" height="3.79"/><rect x="494.34" y="81.46" width="3.95" height="3.79"/><rect x="502.90" y="81.46" width="4.50" height="3.79"/><rect x="439.00" y="84.86" width="11.20" height="3.79"/><rect x="453.49" y="84.86" width="1.98" height="3.79"/><rect x="459.42" y="84.86" width="47.98" height="3.79"/><rect x="439.00" y="88.25" width="4.61" height="3.79"/><rect x="444.93" y="88.25" width="5.27" height="3.79"/><rect x="453.49" y="88.25" width="2.64" height="3.79"/><rect x="458.76" y="88.25" width="48.64" height="3.79"/><rect x="439.00" y="91.64" width="11.20" height="3.79"/><rect x="453.49" y="91.64" width="53.91" height="3.79"/><rect x="439.00" y="95.04" width="60.61" height="3.79"/><rect x="504.88" y="95.04" width="2.52" height="3.79"/><rect x="439.00" y="98.43" width="57.31" height="3.79"/><rect x="439.00" y="101.82" width="57.97" height="3.79"/><rect x="439.00" y="105.21" width="58.63" height="3.79"/><rect x="439.00" y="108.61" width="59.29" height="3.79"/><rect x="439.00" y="112.00" width="59.29" height="3.79"/><rect x="439.00" y="115.39" width="58.63" height="3.79"/><rect x="505.53" y="115.39" width="1.87" height="3.79"/><rect x="439.00" y="118.79" width="68.40" height="3.79"/><rect x="439.00" y="122.18" width="68.40" height="3.79"/><rect x="439.00" y="125.57" width="68.40" height="3.79"/><rect x="439.00" y="128.96" width="68.40" height="3.79"/><rect x="439.00" y="132.36" width="68.40" height="3.79"/><rect x="439.00" y="135.75" width="68.40" height="3.79"/><rect x="439.00" y="139.14" width="67.19" height="3.79"/><rect x="439.00" y="142.54" width="68.40" height="3.79"/><rect x="439.00" y="145.93" width="68.40" height="3.79"/><rect x="439.00" y="149.32" width="68.40" height="3.79"/></g></g>
</mask>

<clipPath id="Lclip"><rect x="34" y="22" width="180" height="180"/></clipPath>
<filter id="Lf" x="24" y="12" width="200" height="200" filterUnits="userSpaceOnUse" color-interpolation-filters="sRGB">
 <feGaussianBlur in="SourceGraphic" stdDeviation="2.0" result="b"/>
 <feTurbulence type="fractalNoise" baseFrequency="0.3" numOctaves="2" seed="3" result="n0"/>
 <feColorMatrix in="n0" type="matrix" values="1 0 0 0 0 1 0 0 0 0 1 0 0 0 0 0 0 0 0 1" result="n"/>
 <feComposite in="b" in2="n" operator="arithmetic" k1="0" k2="1" k3="0.16" k4="-0.08" result="s"/>
 <feComponentTransfer in="s">
  <feFuncR type="discrete" tableValues="0.0000 0.0000 0.0000 0.0000 0.0000 0.0000 0.0000 0.0000 0.0000 0.0000 0.0000 0.0000 0.0000 0.0000 0.0000 0.0000 0.0000 0.0000 0.0000 0.0000 0.0000 0.0000 0.0000 0.0000 0.0000 0.0000 0.0000 0.0000 0.0000 0.0000 0.0000 0.0000 0.1096 0.2500 0.4951 0.6776 0.8032 0.8758 0.9449 0.9816 1.0000 1.0000 1.0000 1.0000 1.0000 1.0000 1.0000 1.0000 1.0000 1.0000 1.0000 1.0000 1.0000 0.9990 0.9915 0.9841 0.9706 0.9510 0.9314 0.9118 0.8611 0.7794 0.6912 0.5441"/>
  <feFuncG type="discrete" tableValues="0.0000 0.0000 0.0000 0.0000 0.0057 0.0275 0.0492 0.0710 0.1062 0.1482 0.1902 0.2369 0.2843 0.3312 0.3771 0.4231 0.4932 0.5686 0.6285 0.6830 0.7427 0.8063 0.8619 0.9064 0.9289 0.9401 0.9330 0.9239 0.9146 0.9052 0.9090 0.9197 0.9490 0.9812 0.9948 1.0000 1.0000 1.0000 0.9939 0.9326 0.8652 0.7917 0.7181 0.6510 0.5989 0.5467 0.4946 0.4398 0.3828 0.3258 0.2692 0.2162 0.1632 0.1135 0.0838 0.0541 0.0343 0.0245 0.0147 0.0049 0.0000 0.0000 0.0000 0.0000"/>
  <feFuncB type="discrete" tableValues="0.5711 0.6901 0.7531 0.8161 0.8684 0.8902 0.9120 0.9338 0.9550 0.9761 0.9971 1.0000 1.0000 1.0000 1.0000 1.0000 1.0000 1.0000 1.0000 1.0000 1.0000 1.0000 0.9860 0.9525 0.8971 0.8302 0.7582 0.6855 0.6109 0.5354 0.4535 0.3683 0.2616 0.1503 0.0414 0.0000 0.0000 0.0000 0.0000 0.0000 0.0000 0.0000 0.0000 0.0000 0.0000 0.0000 0.0000 0.0000 0.0000 0.0000 0.0000 0.0000 0.0000 0.0000 0.0000 0.0000 0.0000 0.0000 0.0000 0.0000 0.0000 0.0000 0.0000 0.0000"/>
  <feFuncA type="linear" slope="0" intercept="1"/>
 </feComponentTransfer>
</filter>
<filter id="Lmf" x="24" y="12" width="200" height="200" filterUnits="userSpaceOnUse" color-interpolation-filters="sRGB">
 <feGaussianBlur in="SourceGraphic" stdDeviation="1.6" result="b"/>
 <feComponentTransfer in="b">
  <feFuncR type="discrete" tableValues="0 1"/>
  <feFuncG type="discrete" tableValues="0 1"/>
  <feFuncB type="discrete" tableValues="0 1"/>
  <feFuncA type="linear" slope="0" intercept="1"/>
 </feComponentTransfer>
</filter>
<mask id="Lmask" maskUnits="userSpaceOnUse" x="34" y="22" width="180" height="180">
 <g filter="url(#Lmf)"><rect x="24" y="12" width="200" height="200" fill="#000"/><g fill="#fff"><rect x="124.00" y="28.00" width="6.60" height="6.60"/><rect x="130.00" y="28.00" width="6.60" height="6.60"/><rect x="124.00" y="40.00" width="6.60" height="6.60"/><rect x="118.00" y="46.00" width="6.60" height="6.60"/><rect x="130.00" y="46.00" width="6.60" height="6.60"/><rect x="136.00" y="46.00" width="6.60" height="6.60"/><rect x="142.00" y="46.00" width="6.60" height="6.60"/><rect x="148.00" y="46.00" width="6.60" height="6.60"/><rect x="64.00" y="52.00" width="6.60" height="6.60"/><rect x="70.00" y="52.00" width="6.60" height="6.60"/><rect x="82.00" y="52.00" width="6.60" height="6.60"/><rect x="88.00" y="52.00" width="6.60" height="6.60"/><rect x="112.00" y="52.00" width="6.60" height="6.60"/><rect x="118.00" y="52.00" width="6.60" height="6.60"/><rect x="124.00" y="52.00" width="6.60" height="6.60"/><rect x="130.00" y="52.00" width="6.60" height="6.60"/><rect x="142.00" y="52.00" width="6.60" height="6.60"/><rect x="148.00" y="52.00" width="6.60" height="6.60"/><rect x="64.00" y="58.00" width="6.60" height="6.60"/><rect x="70.00" y="58.00" width="6.60" height="6.60"/><rect x="82.00" y="58.00" width="6.60" height="6.60"/><rect x="94.00" y="58.00" width="6.60" height="6.60"/><rect x="106.00" y="58.00" width="6.60" height="6.60"/><rect x="118.00" y="58.00" width="6.60" height="6.60"/><rect x="124.00" y="58.00" width="6.60" height="6.60"/><rect x="130.00" y="58.00" width="6.60" height="6.60"/><rect x="136.00" y="58.00" width="6.60" height="6.60"/><rect x="142.00" y="58.00" width="6.60" height="6.60"/><rect x="148.00" y="58.00" width="6.60" height="6.60"/><rect x="82.00" y="64.00" width="6.60" height="6.60"/><rect x="88.00" y="64.00" width="6.60" height="6.60"/><rect x="94.00" y="64.00" width="6.60" height="6.60"/><rect x="100.00" y="64.00" width="6.60" height="6.60"/><rect x="106.00" y="64.00" width="6.60" height="6.60"/><rect x="124.00" y="64.00" width="6.60" height="6.60"/><rect x="130.00" y="64.00" width="6.60" height="6.60"/><rect x="142.00" y="64.00" width="6.60" height="6.60"/><rect x="148.00" y="64.00" width="6.60" height="6.60"/><rect x="58.00" y="70.00" width="6.60" height="6.60"/><rect x="64.00" y="70.00" width="6.60" height="6.60"/><rect x="70.00" y="70.00" width="6.60" height="6.60"/><rect x="76.00" y="70.00" width="6.60" height="6.60"/><rect x="82.00" y="70.00" width="6.60" height="6.60"/><rect x="88.00" y="70.00" width="6.60" height="6.60"/><rect x="94.00" y="70.00" width="6.60" height="6.60"/><rect x="100.00" y="70.00" width="6.60" height="6.60"/><rect x="106.00" y="70.00" width="6.60" height="6.60"/><rect x="112.00" y="70.00" width="6.60" height="6.60"/><rect x="118.00" y="70.00" width="6.60" height="6.60"/><rect x="124.00" y="70.00" width="6.60" height="6.60"/><rect x="130.00" y="70.00" width="6.60" height="6.60"/><rect x="136.00" y="70.00" width="6.60" height="6.60"/><rect x="142.00" y="70.00" width="6.60" height="6.60"/><rect x="148.00" y="70.00" width="6.60" height="6.60"/><rect x="52.00" y="76.00" width="6.60" height="6.60"/><rect x="58.00" y="76.00" width="6.60" height="6.60"/><rect x="64.00" y="76.00" width="6.60" height="6.60"/><rect x="70.00" y="76.00" width="6.60" height="6.60"/><rect x="76.00" y="76.00" width="6.60" height="6.60"/><rect x="82.00" y="76.00" width="6.60" height="6.60"/><rect x="88.00" y="76.00" width="6.60" height="6.60"/><rect x="94.00" y="76.00" width="6.60" height="6.60"/><rect x="100.00" y="76.00" width="6.60" height="6.60"/><rect x="106.00" y="76.00" width="6.60" height="6.60"/><rect x="112.00" y="76.00" width="6.60" height="6.60"/><rect x="118.00" y="76.00" width="6.60" height="6.60"/><rect x="124.00" y="76.00" width="6.60" height="6.60"/><rect x="130.00" y="76.00" width="6.60" height="6.60"/><rect x="142.00" y="76.00" width="6.60" height="6.60"/><rect x="148.00" y="76.00" width="6.60" height="6.60"/><rect x="46.00" y="82.00" width="6.60" height="6.60"/><rect x="52.00" y="82.00" width="6.60" height="6.60"/><rect x="58.00" y="82.00" width="6.60" height="6.60"/><rect x="64.00" y="82.00" width="6.60" height="6.60"/><rect x="70.00" y="82.00" width="6.60" height="6.60"/><rect x="76.00" y="82.00" width="6.60" height="6.60"/><rect x="82.00" y="82.00" width="6.60" height="6.60"/><rect x="88.00" y="82.00" width="6.60" height="6.60"/><rect x="94.00" y="82.00" width="6.60" height="6.60"/><rect x="100.00" y="82.00" width="6.60" height="6.60"/><rect x="106.00" y="82.00" width="6.60" height="6.60"/><rect x="112.00" y="82.00" width="6.60" height="6.60"/><rect x="118.00" y="82.00" width="6.60" height="6.60"/><rect x="124.00" y="82.00" width="6.60" height="6.60"/><rect x="130.00" y="82.00" width="6.60" height="6.60"/><rect x="136.00" y="82.00" width="6.60" height="6.60"/><rect x="142.00" y="82.00" width="6.60" height="6.60"/><rect x="148.00" y="82.00" width="6.60" height="6.60"/><rect x="154.00" y="82.00" width="6.60" height="6.60"/><rect x="40.00" y="88.00" width="6.60" height="6.60"/><rect x="46.00" y="88.00" width="6.60" height="6.60"/><rect x="52.00" y="88.00" width="6.60" height="6.60"/><rect x="58.00" y="88.00" width="6.60" height="6.60"/><rect x="64.00" y="88.00" width="6.60" height="6.60"/><rect x="70.00" y="88.00" width="6.60" height="6.60"/><rect x="76.00" y="88.00" width="6.60" height="6.60"/><rect x="82.00" y="88.00" width="6.60" height="6.60"/><rect x="88.00" y="88.00" width="6.60" height="6.60"/><rect x="94.00" y="88.00" width="6.60" height="6.60"/><rect x="100.00" y="88.00" width="6.60" height="6.60"/><rect x="106.00" y="88.00" width="6.60" height="6.60"/><rect x="112.00" y="88.00" width="6.60" height="6.60"/><rect x="118.00" y="88.00" width="6.60" height="6.60"/><rect x="124.00" y="88.00" width="6.60" height="6.60"/><rect x="130.00" y="88.00" width="6.60" height="6.60"/><rect x="136.00" y="88.00" width="6.60" height="6.60"/><rect x="148.00" y="88.00" width="6.60" height="6.60"/><rect x="154.00" y="88.00" width="6.60" height="6.60"/><rect x="40.00" y="94.00" width="6.60" height="6.60"/><rect x="46.00" y="94.00" width="6.60" height="6.60"/><rect x="52.00" y="94.00" width="6.60" height="6.60"/><rect x="58.00" y="94.00" width="6.60" height="6.60"/><rect x="64.00" y="94.00" width="6.60" height="6.60"/><rect x="70.00" y="94.00" width="6.60" height="6.60"/><rect x="76.00" y="94.00" width="6.60" height="6.60"/><rect x="82.00" y="94.00" width="6.60" height="6.60"/><rect x="88.00" y="94.00" width="6.60" height="6.60"/><rect x="94.00" y="94.00" width="6.60" height="6.60"/><rect x="100.00" y="94.00" width="6.60" height="6.60"/><rect x="106.00" y="94.00" width="6.60" height="6.60"/><rect x="112.00" y="94.00" width="6.60" height="6.60"/><rect x="118.00" y="94.00" width="6.60" height="6.60"/><rect x="124.00" y="94.00" width="6.60" height="6.60"/><rect x="130.00" y="94.00" width="6.60" height="6.60"/><rect x="136.00" y="94.00" width="6.60" height="6.60"/><rect x="142.00" y="94.00" width="6.60" height="6.60"/><rect x="148.00" y="94.00" width="6.60" height="6.60"/><rect x="154.00" y="94.00" width="6.60" height="6.60"/><rect x="40.00" y="100.00" width="6.60" height="6.60"/><rect x="76.00" y="100.00" width="6.60" height="6.60"/><rect x="82.00" y="100.00" width="6.60" height="6.60"/><rect x="88.00" y="100.00" width="6.60" height="6.60"/><rect x="94.00" y="100.00" width="6.60" height="6.60"/><rect x="100.00" y="100.00" width="6.60" height="6.60"/><rect x="106.00" y="100.00" width="6.60" height="6.60"/><rect x="112.00" y="100.00" width="6.60" height="6.60"/><rect x="118.00" y="100.00" width="6.60" height="6.60"/><rect x="124.00" y="100.00" width="6.60" height="6.60"/><rect x="130.00" y="100.00" width="6.60" height="6.60"/><rect x="136.00" y="100.00" width="6.60" height="6.60"/><rect x="142.00" y="100.00" width="6.60" height="6.60"/><rect x="148.00" y="100.00" width="6.60" height="6.60"/><rect x="154.00" y="100.00" width="6.60" height="6.60"/><rect x="34.00" y="106.00" width="6.60" height="6.60"/><rect x="40.00" y="106.00" width="6.60" height="6.60"/><rect x="76.00" y="106.00" width="6.60" height="6.60"/><rect x="82.00" y="106.00" width="6.60" height="6.60"/><rect x="88.00" y="106.00" width="6.60" height="6.60"/><rect x="94.00" y="106.00" width="6.60" height="6.60"/><rect x="100.00" y="106.00" width="6.60" height="6.60"/><rect x="106.00" y="106.00" width="6.60" height="6.60"/><rect x="112.00" y="106.00" width="6.60" height="6.60"/><rect x="118.00" y="106.00" width="6.60" height="6.60"/><rect x="124.00" y="106.00" width="6.60" height="6.60"/><rect x="130.00" y="106.00" width="6.60" height="6.60"/><rect x="136.00" y="106.00" width="6.60" height="6.60"/><rect x="142.00" y="106.00" width="6.60" height="6.60"/><rect x="148.00" y="106.00" width="6.60" height="6.60"/><rect x="154.00" y="106.00" width="6.60" height="6.60"/><rect x="40.00" y="112.00" width="6.60" height="6.60"/><rect x="70.00" y="112.00" width="6.60" height="6.60"/><rect x="76.00" y="112.00" width="6.60" height="6.60"/><rect x="82.00" y="112.00" width="6.60" height="6.60"/><rect x="88.00" y="112.00" width="6.60" height="6.60"/><rect x="94.00" y="112.00" width="6.60" height="6.60"/><rect x="100.00" y="112.00" width="6.60" height="6.60"/><rect x="106.00" y="112.00" width="6.60" height="6.60"/><rect x="112.00" y="112.00" width="6.60" height="6.60"/><rect x="118.00" y="112.00" width="6.60" height="6.60"/><rect x="124.00" y="112.00" width="6.60" height="6.60"/><rect x="130.00" y="112.00" width="6.60" height="6.60"/><rect x="136.00" y="112.00" width="6.60" height="6.60"/><rect x="142.00" y="112.00" width="6.60" height="6.60"/><rect x="148.00" y="112.00" width="6.60" height="6.60"/><rect x="160.00" y="112.00" width="6.60" height="6.60"/><rect x="40.00" y="118.00" width="6.60" height="6.60"/><rect x="64.00" y="118.00" width="6.60" height="6.60"/><rect x="70.00" y="118.00" width="6.60" height="6.60"/><rect x="76.00" y="118.00" width="6.60" height="6.60"/><rect x="82.00" y="118.00" width="6.60" height="6.60"/><rect x="88.00" y="118.00" width="6.60" height="6.60"/><rect x="94.00" y="118.00" width="6.60" height="6.60"/><rect x="100.00" y="118.00" width="6.60" height="6.60"/><rect x="106.00" y="118.00" width="6.60" height="6.60"/><rect x="112.00" y="118.00" width="6.60" height="6.60"/><rect x="118.00" y="118.00" width="6.60" height="6.60"/><rect x="124.00" y="118.00" width="6.60" height="6.60"/><rect x="130.00" y="118.00" width="6.60" height="6.60"/><rect x="136.00" y="118.00" width="6.60" height="6.60"/><rect x="142.00" y="118.00" width="6.60" height="6.60"/><rect x="148.00" y="118.00" width="6.60" height="6.60"/><rect x="160.00" y="118.00" width="6.60" height="6.60"/><rect x="40.00" y="124.00" width="6.60" height="6.60"/><rect x="46.00" y="124.00" width="6.60" height="6.60"/><rect x="52.00" y="124.00" width="6.60" height="6.60"/><rect x="58.00" y="124.00" width="6.60" height="6.60"/><rect x="64.00" y="124.00" width="6.60" height="6.60"/><rect x="70.00" y="124.00" width="6.60" height="6.60"/><rect x="76.00" y="124.00" width="6.60" height="6.60"/><rect x="82.00" y="124.00" width="6.60" height="6.60"/><rect x="88.00" y="124.00" width="6.60" height="6.60"/><rect x="94.00" y="124.00" width="6.60" height="6.60"/><rect x="100.00" y="124.00" width="6.60" height="6.60"/><rect x="106.00" y="124.00" width="6.60" height="6.60"/><rect x="112.00" y="124.00" width="6.60" height="6.60"/><rect x="118.00" y="124.00" width="6.60" height="6.60"/><rect x="124.00" y="124.00" width="6.60" height="6.60"/><rect x="130.00" y="124.00" width="6.60" height="6.60"/><rect x="136.00" y="124.00" width="6.60" height="6.60"/><rect x="142.00" y="124.00" width="6.60" height="6.60"/><rect x="148.00" y="124.00" width="6.60" height="6.60"/><rect x="160.00" y="124.00" width="6.60" height="6.60"/><rect x="40.00" y="130.00" width="6.60" height="6.60"/><rect x="46.00" y="130.00" width="6.60" height="6.60"/><rect x="52.00" y="130.00" width="6.60" height="6.60"/><rect x="58.00" y="130.00" width="6.60" height="6.60"/><rect x="64.00" y="130.00" width="6.60" height="6.60"/><rect x="70.00" y="130.00" width="6.60" height="6.60"/><rect x="76.00" y="130.00" width="6.60" height="6.60"/><rect x="82.00" y="130.00" width="6.60" height="6.60"/><rect x="88.00" y="130.00" width="6.60" height="6.60"/><rect x="94.00" y="130.00" width="6.60" height="6.60"/><rect x="100.00" y="130.00" width="6.60" height="6.60"/><rect x="106.00" y="130.00" width="6.60" height="6.60"/><rect x="112.00" y="130.00" width="6.60" height="6.60"/><rect x="118.00" y="130.00" width="6.60" height="6.60"/><rect x="124.00" y="130.00" width="6.60" height="6.60"/><rect x="130.00" y="130.00" width="6.60" height="6.60"/><rect x="136.00" y="130.00" width="6.60" height="6.60"/><rect x="142.00" y="130.00" width="6.60" height="6.60"/><rect x="148.00" y="130.00" width="6.60" height="6.60"/><rect x="154.00" y="130.00" width="6.60" height="6.60"/><rect x="160.00" y="130.00" width="6.60" height="6.60"/><rect x="40.00" y="136.00" width="6.60" height="6.60"/><rect x="46.00" y="136.00" width="6.60" height="6.60"/><rect x="52.00" y="136.00" width="6.60" height="6.60"/><rect x="58.00" y="136.00" width="6.60" height="6.60"/><rect x="64.00" y="136.00" width="6.60" height="6.60"/><rect x="70.00" y="136.00" width="6.60" height="6.60"/><rect x="76.00" y="136.00" width="6.60" height="6.60"/><rect x="82.00" y="136.00" width="6.60" height="6.60"/><rect x="88.00" y="136.00" width="6.60" height="6.60"/><rect x="94.00" y="136.00" width="6.60" height="6.60"/><rect x="100.00" y="136.00" width="6.60" height="6.60"/><rect x="106.00" y="136.00" width="6.60" height="6.60"/><rect x="112.00" y="136.00" width="6.60" height="6.60"/><rect x="118.00" y="136.00" width="6.60" height="6.60"/><rect x="124.00" y="136.00" width="6.60" height="6.60"/><rect x="130.00" y="136.00" width="6.60" height="6.60"/><rect x="136.00" y="136.00" width="6.60" height="6.60"/><rect x="142.00" y="136.00" width="6.60" height="6.60"/><rect x="148.00" y="136.00" width="6.60" height="6.60"/><rect x="154.00" y="136.00" width="6.60" height="6.60"/><rect x="46.00" y="142.00" width="6.60" height="6.60"/><rect x="52.00" y="142.00" width="6.60" height="6.60"/><rect x="58.00" y="142.00" width="6.60" height="6.60"/><rect x="64.00" y="142.00" width="6.60" height="6.60"/><rect x="70.00" y="142.00" width="6.60" height="6.60"/><rect x="88.00" y="142.00" width="6.60" height="6.60"/><rect x="94.00" y="142.00" width="6.60" height="6.60"/><rect x="100.00" y="142.00" width="6.60" height="6.60"/><rect x="106.00" y="142.00" width="6.60" height="6.60"/><rect x="124.00" y="142.00" width="6.60" height="6.60"/><rect x="130.00" y="142.00" width="6.60" height="6.60"/><rect x="136.00" y="142.00" width="6.60" height="6.60"/><rect x="142.00" y="142.00" width="6.60" height="6.60"/><rect x="148.00" y="142.00" width="6.60" height="6.60"/><rect x="40.00" y="148.00" width="6.60" height="6.60"/><rect x="46.00" y="148.00" width="6.60" height="6.60"/><rect x="52.00" y="148.00" width="6.60" height="6.60"/><rect x="58.00" y="148.00" width="6.60" height="6.60"/><rect x="64.00" y="148.00" width="6.60" height="6.60"/><rect x="70.00" y="148.00" width="6.60" height="6.60"/><rect x="76.00" y="148.00" width="6.60" height="6.60"/><rect x="88.00" y="148.00" width="6.60" height="6.60"/><rect x="94.00" y="148.00" width="6.60" height="6.60"/><rect x="100.00" y="148.00" width="6.60" height="6.60"/><rect x="106.00" y="148.00" width="6.60" height="6.60"/><rect x="118.00" y="148.00" width="6.60" height="6.60"/><rect x="124.00" y="148.00" width="6.60" height="6.60"/><rect x="136.00" y="148.00" width="6.60" height="6.60"/><rect x="142.00" y="148.00" width="6.60" height="6.60"/><rect x="148.00" y="148.00" width="6.60" height="6.60"/><rect x="40.00" y="154.00" width="6.60" height="6.60"/><rect x="46.00" y="154.00" width="6.60" height="6.60"/><rect x="52.00" y="154.00" width="6.60" height="6.60"/><rect x="58.00" y="154.00" width="6.60" height="6.60"/><rect x="64.00" y="154.00" width="6.60" height="6.60"/><rect x="70.00" y="154.00" width="6.60" height="6.60"/><rect x="106.00" y="154.00" width="6.60" height="6.60"/><rect x="112.00" y="154.00" width="6.60" height="6.60"/><rect x="118.00" y="154.00" width="6.60" height="6.60"/><rect x="124.00" y="154.00" width="6.60" height="6.60"/><rect x="130.00" y="154.00" width="6.60" height="6.60"/><rect x="136.00" y="154.00" width="6.60" height="6.60"/><rect x="142.00" y="154.00" width="6.60" height="6.60"/><rect x="148.00" y="154.00" width="6.60" height="6.60"/><rect x="46.00" y="160.00" width="6.60" height="6.60"/><rect x="58.00" y="160.00" width="6.60" height="6.60"/><rect x="64.00" y="160.00" width="6.60" height="6.60"/><rect x="106.00" y="160.00" width="6.60" height="6.60"/><rect x="112.00" y="160.00" width="6.60" height="6.60"/><rect x="118.00" y="160.00" width="6.60" height="6.60"/><rect x="136.00" y="160.00" width="6.60" height="6.60"/><rect x="142.00" y="160.00" width="6.60" height="6.60"/><rect x="148.00" y="160.00" width="6.60" height="6.60"/><rect x="82.00" y="166.00" width="6.60" height="6.60"/><rect x="88.00" y="166.00" width="6.60" height="6.60"/><rect x="142.00" y="166.00" width="6.60" height="6.60"/><rect x="148.00" y="166.00" width="6.60" height="6.60"/><rect x="58.00" y="172.00" width="6.60" height="6.60"/><rect x="64.00" y="172.00" width="6.60" height="6.60"/><rect x="58.00" y="178.00" width="6.60" height="6.60"/><rect x="64.00" y="178.00" width="6.60" height="6.60"/><rect x="76.00" y="178.00" width="6.60" height="6.60"/><rect x="64.00" y="184.00" width="6.60" height="6.60"/><rect x="88.00" y="190.00" width="6.60" height="6.60"/><rect x="94.00" y="190.00" width="6.60" height="6.60"/><rect x="88.00" y="196.00" width="6.60" height="6.60"/></g></g>
</mask>
<mask id="ringmask" maskUnits="userSpaceOnUse" x="0" y="0" width="550" height="258"><rect width="550" height="258" fill="#fff"/><circle cx="109.8" cy="98.3" r="3.6" fill="#000"/><circle cx="143.5" cy="112" r="3.6" fill="#000"/><circle cx="86.4" cy="100" r="3.6" fill="#000"/><circle cx="147.7" cy="79.5" r="3.6" fill="#000"/><circle cx="159.2" cy="92.6" r="3.6" fill="#000"/><circle cx="127.8" cy="154.3" r="3.6" fill="#000"/><circle cx="68.4" cy="87.7" r="3.6" fill="#000"/><circle cx="130.5" cy="52.3" r="3.6" fill="#000"/><circle cx="179.6" cy="87.7" r="3.6" fill="#000"/><circle cx="160" cy="165.2" r="3.6" fill="#000"/><circle cx="88" cy="164.4" r="3.6" fill="#000"/><circle cx="45.5" cy="90.2" r="3.6" fill="#000"/><circle cx="99.5" cy="34.8" r="3.6" fill="#000"/><circle cx="168.2" cy="44.9" r="3.6" fill="#000"/><circle cx="192.7" cy="68.9" r="3.6" fill="#000"/><circle cx="197" cy="154" r="3.6" fill="#000"/><circle cx="132" cy="194.7" r="3.6" fill="#000"/><circle cx="64.3" cy="170.9" r="3.6" fill="#000"/></mask><clipPath id="Lax"><rect x="34" y="22" width="180" height="180"/></clipPath></defs>
<rect x="303.5" y="16.8" width="204.0" height="190.79999999999998" fill="rgb(0,0,143)"/><g clip-path="url(#Rclip)"><g mask="url(#Rmask)"><g filter="url(#Rf)"><rect x="296.70" y="9.99" width="7.40" height="7.41" fill="rgb(96,96,96)"/><rect x="303.50" y="9.99" width="7.40" height="7.41" fill="rgb(96,96,96)"/><rect x="310.30" y="9.99" width="7.40" height="7.41" fill="rgb(96,96,96)"/><rect x="317.10" y="9.99" width="7.40" height="7.41" fill="rgb(96,96,96)"/><rect x="323.90" y="9.99" width="7.40" height="7.41" fill="rgb(96,96,96)"/><rect x="330.70" y="9.99" width="7.40" height="7.41" fill="rgb(96,96,96)"/><rect x="337.50" y="9.99" width="7.40" height="7.41" fill="rgb(110,110,110)"/><rect x="344.30" y="9.99" width="7.40" height="7.41" fill="rgb(128,128,128)"/><rect x="351.10" y="9.99" width="7.40" height="7.41" fill="rgb(136,136,136)"/><rect x="357.90" y="9.99" width="7.40" height="7.41" fill="rgb(143,143,143)"/><rect x="364.70" y="9.99" width="7.40" height="7.41" fill="rgb(143,143,143)"/><rect x="371.50" y="9.99" width="7.40" height="7.41" fill="rgb(143,143,143)"/><rect x="378.30" y="9.99" width="7.40" height="7.41" fill="rgb(138,138,138)"/><rect x="385.10" y="9.99" width="7.40" height="7.41" fill="rgb(129,129,129)"/><rect x="391.90" y="9.99" width="7.40" height="7.41" fill="rgb(128,128,128)"/><rect x="398.70" y="9.99" width="7.40" height="7.41" fill="rgb(128,128,128)"/><rect x="405.50" y="9.99" width="7.40" height="7.41" fill="rgb(124,124,124)"/><rect x="412.30" y="9.99" width="7.40" height="7.41" fill="rgb(118,118,118)"/><rect x="419.10" y="9.99" width="7.40" height="7.41" fill="rgb(112,112,112)"/><rect x="425.90" y="9.99" width="7.40" height="7.41" fill="rgb(112,112,112)"/><rect x="432.70" y="9.99" width="7.40" height="7.41" fill="rgb(112,112,112)"/><rect x="439.50" y="9.99" width="7.40" height="7.41" fill="rgb(112,112,112)"/><rect x="446.30" y="9.99" width="7.40" height="7.41" fill="rgb(112,112,112)"/><rect x="453.10" y="9.99" width="7.40" height="7.41" fill="rgb(112,112,112)"/><rect x="459.90" y="9.99" width="7.40" height="7.41" fill="rgb(112,112,112)"/><rect x="466.70" y="9.99" width="7.40" height="7.41" fill="rgb(112,112,112)"/><rect x="473.50" y="9.99" width="7.40" height="7.41" fill="rgb(106,106,106)"/><rect x="480.30" y="9.99" width="7.40" height="7.41" fill="rgb(96,96,96)"/><rect x="487.10" y="9.99" width="7.40" height="7.41" fill="rgb(96,96,96)"/><rect x="493.90" y="9.99" width="7.40" height="7.41" fill="rgb(96,96,96)"/><rect x="500.70" y="9.99" width="7.40" height="7.41" fill="rgb(96,96,96)"/><rect x="507.50" y="9.99" width="7.40" height="7.41" fill="rgb(96,96,96)"/><rect x="296.70" y="16.80" width="7.40" height="7.41" fill="rgb(96,96,96)"/><rect x="303.50" y="16.80" width="7.40" height="7.41" fill="rgb(96,96,96)"/><rect x="310.30" y="16.80" width="7.40" height="7.41" fill="rgb(96,96,96)"/><rect x="317.10" y="16.80" width="7.40" height="7.41" fill="rgb(96,96,96)"/><rect x="323.90" y="16.80" width="7.40" height="7.41" fill="rgb(96,96,96)"/><rect x="330.70" y="16.80" width="7.40" height="7.41" fill="rgb(96,96,96)"/><rect x="337.50" y="16.80" width="7.40" height="7.41" fill="rgb(110,110,110)"/><rect x="344.30" y="16.80" width="7.40" height="7.41" fill="rgb(128,128,128)"/><rect x="351.10" y="16.80" width="7.40" height="7.41" fill="rgb(136,136,136)"/><rect x="357.90" y="16.80" width="7.40" height="7.41" fill="rgb(143,143,143)"/><rect x="364.70" y="16.80" width="7.40" height="7.41" fill="rgb(143,143,143)"/><rect x="371.50" y="16.80" width="7.40" height="7.41" fill="rgb(143,143,143)"/><rect x="378.30" y="16.80" width="7.40" height="7.41" fill="rgb(138,138,138)"/><rect x="385.10" y="16.80" width="7.40" height="7.41" fill="rgb(129,129,129)"/><rect x="391.90" y="16.80" width="7.40" height="7.41" fill="rgb(128,128,128)"/><rect x="398.70" y="16.80" width="7.40" height="7.41" fill="rgb(128,128,128)"/><rect x="405.50" y="16.80" width="7.40" height="7.41" fill="rgb(124,124,124)"/><rect x="412.30" y="16.80" width="7.40" height="7.41" fill="rgb(118,118,118)"/><rect x="419.10" y="16.80" width="7.40" height="7.41" fill="rgb(112,112,112)"/><rect x="425.90" y="16.80" width="7.40" height="7.41" fill="rgb(112,112,112)"/><rect x="432.70" y="16.80" width="7.40" height="7.41" fill="rgb(112,112,112)"/><rect x="439.50" y="16.80" width="7.40" height="7.41" fill="rgb(112,112,112)"/><rect x="446.30" y="16.80" width="7.40" height="7.41" fill="rgb(112,112,112)"/><rect x="453.10" y="16.80" width="7.40" height="7.41" fill="rgb(112,112,112)"/><rect x="459.90" y="16.80" width="7.40" height="7.41" fill="rgb(112,112,112)"/><rect x="466.70" y="16.80" width="7.40" height="7.41" fill="rgb(112,112,112)"/><rect x="473.50" y="16.80" width="7.40" height="7.41" fill="rgb(106,106,106)"/><rect x="480.30" y="16.80" width="7.40" height="7.41" fill="rgb(96,96,96)"/><rect x="487.10" y="16.80" width="7.40" height="7.41" fill="rgb(96,96,96)"/><rect x="493.90" y="16.80" width="7.40" height="7.41" fill="rgb(96,96,96)"/><rect x="500.70" y="16.80" width="7.40" height="7.41" fill="rgb(96,96,96)"/><rect x="507.50" y="16.80" width="7.40" height="7.41" fill="rgb(96,96,96)"/><rect x="296.70" y="23.61" width="7.40" height="7.41" fill="rgb(96,96,96)"/><rect x="303.50" y="23.61" width="7.40" height="7.41" fill="rgb(96,96,96)"/><rect x="310.30" y="23.61" width="7.40" height="7.41" fill="rgb(96,96,96)"/><rect x="317.10" y="23.61" width="7.40" height="7.41" fill="rgb(96,96,96)"/><rect x="323.90" y="23.61" width="7.40" height="7.41" fill="rgb(96,96,96)"/><rect x="330.70" y="23.61" width="7.40" height="7.41" fill="rgb(107,107,107)"/><rect x="337.50" y="23.61" width="7.40" height="7.41" fill="rgb(128,128,128)"/><rect x="344.30" y="23.61" width="7.40" height="7.41" fill="rgb(128,128,128)"/><rect x="351.10" y="23.61" width="7.40" height="7.41" fill="rgb(143,143,143)"/><rect x="357.90" y="23.61" width="7.40" height="7.41" fill="rgb(143,143,143)"/><rect x="364.70" y="23.61" width="7.40" height="7.41" fill="rgb(143,143,143)"/><rect x="371.50" y="23.61" width="7.40" height="7.41" fill="rgb(143,143,143)"/><rect x="378.30" y="23.61" width="7.40" height="7.41" fill="rgb(143,143,143)"/><rect x="385.10" y="23.61" width="7.40" height="7.41" fill="rgb(135,135,135)"/><rect x="391.90" y="23.61" width="7.40" height="7.41" fill="rgb(129,129,129)"/><rect x="398.70" y="23.61" width="7.40" height="7.41" fill="rgb(129,129,129)"/><rect x="405.50" y="23.61" width="7.40" height="7.41" fill="rgb(128,128,128)"/><rect x="412.30" y="23.61" width="7.40" height="7.41" fill="rgb(120,120,120)"/><rect x="419.10" y="23.61" width="7.40" height="7.41" fill="rgb(115,115,115)"/><rect x="425.90" y="23.61" width="7.40" height="7.41" fill="rgb(112,112,112)"/><rect x="432.70" y="23.61" width="7.40" height="7.41" fill="rgb(112,112,112)"/><rect x="439.50" y="23.61" width="7.40" height="7.41" fill="rgb(112,112,112)"/><rect x="446.30" y="23.61" width="7.40" height="7.41" fill="rgb(112,112,112)"/><rect x="453.10" y="23.61" width="7.40" height="7.41" fill="rgb(112,112,112)"/><rect x="459.90" y="23.61" width="7.40" height="7.41" fill="rgb(112,112,112)"/><rect x="466.70" y="23.61" width="7.40" height="7.41" fill="rgb(112,112,112)"/><rect x="473.50" y="23.61" width="7.40" height="7.41" fill="rgb(105,105,105)"/><rect x="480.30" y="23.61" width="7.40" height="7.41" fill="rgb(96,96,96)"/><rect x="487.10" y="23.61" width="7.40" height="7.41" fill="rgb(96,96,96)"/><rect x="493.90" y="23.61" width="7.40" height="7.41" fill="rgb(96,96,96)"/><rect x="500.70" y="23.61" width="7.40" height="7.41" fill="rgb(96,96,96)"/><rect x="507.50" y="23.61" width="7.40" height="7.41" fill="rgb(96,96,96)"/><rect x="296.70" y="30.43" width="7.40" height="7.41" fill="rgb(96,96,96)"/><rect x="303.50" y="30.43" width="7.40" height="7.41" fill="rgb(96,96,96)"/><rect x="310.30" y="30.43" width="7.40" height="7.41" fill="rgb(96,96,96)"/><rect x="317.10" y="30.43" width="7.40" height="7.41" fill="rgb(96,96,96)"/><rect x="323.90" y="30.43" width="7.40" height="7.41" fill="rgb(109,109,109)"/><rect x="330.70" y="30.43" width="7.40" height="7.41" fill="rgb(128,128,128)"/><rect x="337.50" y="30.43" width="7.40" height="7.41" fill="rgb(129,129,129)"/><rect x="344.30" y="30.43" width="7.40" height="7.41" fill="rgb(139,139,139)"/><rect x="351.10" y="30.43" width="7.40" height="7.41" fill="rgb(150,150,150)"/><rect x="357.90" y="30.43" width="7.40" height="7.41" fill="rgb(143,143,143)"/><rect x="364.70" y="30.43" width="7.40" height="7.41" fill="rgb(143,143,143)"/><rect x="371.50" y="30.43" width="7.40" height="7.41" fill="rgb(143,143,143)"/><rect x="378.30" y="30.43" width="7.40" height="7.41" fill="rgb(143,143,143)"/><rect x="385.10" y="30.43" width="7.40" height="7.41" fill="rgb(142,142,142)"/><rect x="391.90" y="30.43" width="7.40" height="7.41" fill="rgb(134,134,134)"/><rect x="398.70" y="30.43" width="7.40" height="7.41" fill="rgb(130,130,130)"/><rect x="405.50" y="30.43" width="7.40" height="7.41" fill="rgb(131,131,131)"/><rect x="412.30" y="30.43" width="7.40" height="7.41" fill="rgb(128,128,128)"/><rect x="419.10" y="30.43" width="7.40" height="7.41" fill="rgb(112,112,112)"/><rect x="425.90" y="30.43" width="7.40" height="7.41" fill="rgb(112,112,112)"/><rect x="432.70" y="30.43" width="7.40" height="7.41" fill="rgb(112,112,112)"/><rect x="439.50" y="30.43" width="7.40" height="7.41" fill="rgb(112,112,112)"/><rect x="446.30" y="30.43" width="7.40" height="7.41" fill="rgb(112,112,112)"/><rect x="453.10" y="30.43" width="7.40" height="7.41" fill="rgb(112,112,112)"/><rect x="459.90" y="30.43" width="7.40" height="7.41" fill="rgb(112,112,112)"/><rect x="466.70" y="30.43" width="7.40" height="7.41" fill="rgb(112,112,112)"/><rect x="473.50" y="30.43" width="7.40" height="7.41" fill="rgb(104,104,104)"/><rect x="480.30" y="30.43" width="7.40" height="7.41" fill="rgb(96,96,96)"/><rect x="487.10" y="30.43" width="7.40" height="7.41" fill="rgb(96,96,96)"/><rect x="493.90" y="30.43" width="7.40" height="7.41" fill="rgb(96,96,96)"/><rect x="500.70" y="30.43" width="7.40" height="7.41" fill="rgb(96,96,96)"/><rect x="507.50" y="30.43" width="7.40" height="7.41" fill="rgb(96,96,96)"/><rect x="296.70" y="37.24" width="7.40" height="7.41" fill="rgb(112,112,112)"/><rect x="303.50" y="37.24" width="7.40" height="7.41" fill="rgb(112,112,112)"/><rect x="310.30" y="37.24" width="7.40" height="7.41" fill="rgb(115,115,115)"/><rect x="317.10" y="37.24" width="7.40" height="7.41" fill="rgb(117,117,117)"/><rect x="323.90" y="37.24" width="7.40" height="7.41" fill="rgb(128,128,128)"/><rect x="330.70" y="37.24" width="7.40" height="7.41" fill="rgb(131,131,131)"/><rect x="337.50" y="37.24" width="7.40" height="7.41" fill="rgb(140,140,140)"/><rect x="344.30" y="37.24" width="7.40" height="7.41" fill="rgb(159,159,159)"/><rect x="351.10" y="37.24" width="7.40" height="7.41" fill="rgb(152,152,152)"/><rect x="357.90" y="37.24" width="7.40" height="7.41" fill="rgb(147,147,147)"/><rect x="364.70" y="37.24" width="7.40" height="7.41" fill="rgb(143,143,143)"/><rect x="371.50" y="37.24" width="7.40" height="7.41" fill="rgb(143,143,143)"/><rect x="378.30" y="37.24" width="7.40" height="7.41" fill="rgb(143,143,143)"/><rect x="385.10" y="37.24" width="7.40" height="7.41" fill="rgb(143,143,143)"/><rect x="391.90" y="37.24" width="7.40" height="7.41" fill="rgb(138,138,138)"/><rect x="398.70" y="37.24" width="7.40" height="7.41" fill="rgb(131,131,131)"/><rect x="405.50" y="37.24" width="7.40" height="7.41" fill="rgb(130,130,130)"/><rect x="412.30" y="37.24" width="7.40" height="7.41" fill="rgb(135,135,135)"/><rect x="419.10" y="37.24" width="7.40" height="7.41" fill="rgb(128,128,128)"/><rect x="425.90" y="37.24" width="7.40" height="7.41" fill="rgb(96,96,96)"/><rect x="432.70" y="37.24" width="7.40" height="7.41" fill="rgb(112,112,112)"/><rect x="439.50" y="37.24" width="7.40" height="7.41" fill="rgb(112,112,112)"/><rect x="446.30" y="37.24" width="7.40" height="7.41" fill="rgb(112,112,112)"/><rect x="453.10" y="37.24" width="7.40" height="7.41" fill="rgb(112,112,112)"/><rect x="459.90" y="37.24" width="7.40" height="7.41" fill="rgb(112,112,112)"/><rect x="466.70" y="37.24" width="7.40" height="7.41" fill="rgb(112,112,112)"/><rect x="473.50" y="37.24" width="7.40" height="7.41" fill="rgb(106,106,106)"/><rect x="480.30" y="37.24" width="7.40" height="7.41" fill="rgb(96,96,96)"/><rect x="487.10" y="37.24" width="7.40" height="7.41" fill="rgb(96,96,96)"/><rect x="493.90" y="37.24" width="7.40" height="7.41" fill="rgb(96,96,96)"/><rect x="500.70" y="37.24" width="7.40" height="7.41" fill="rgb(96,96,96)"/><rect x="507.50" y="37.24" width="7.40" height="7.41" fill="rgb(96,96,96)"/><rect x="296.70" y="44.06" width="7.40" height="7.41" fill="rgb(128,128,128)"/><rect x="303.50" y="44.06" width="7.40" height="7.41" fill="rgb(128,128,128)"/><rect x="310.30" y="44.06" width="7.40" height="7.41" fill="rgb(128,128,128)"/><rect x="317.10" y="44.06" width="7.40" height="7.41" fill="rgb(128,128,128)"/><rect x="323.90" y="44.06" width="7.40" height="7.41" fill="rgb(135,135,135)"/><rect x="330.70" y="44.06" width="7.40" height="7.41" fill="rgb(142,142,142)"/><rect x="337.50" y="44.06" width="7.40" height="7.41" fill="rgb(159,159,159)"/><rect x="344.30" y="44.06" width="7.40" height="7.41" fill="rgb(161,161,161)"/><rect x="351.10" y="44.06" width="7.40" height="7.41" fill="rgb(157,157,157)"/><rect x="357.90" y="44.06" width="7.40" height="7.41" fill="rgb(151,151,151)"/><rect x="364.70" y="44.06" width="7.40" height="7.41" fill="rgb(151,151,151)"/><rect x="371.50" y="44.06" width="7.40" height="7.41" fill="rgb(143,143,143)"/><rect x="378.30" y="44.06" width="7.40" height="7.41" fill="rgb(143,143,143)"/><rect x="385.10" y="44.06" width="7.40" height="7.41" fill="rgb(143,143,143)"/><rect x="391.90" y="44.06" width="7.40" height="7.41" fill="rgb(143,143,143)"/><rect x="398.70" y="44.06" width="7.40" height="7.41" fill="rgb(128,128,128)"/><rect x="405.50" y="44.06" width="7.40" height="7.41" fill="rgb(124,124,124)"/><rect x="412.30" y="44.06" width="7.40" height="7.41" fill="rgb(128,128,128)"/><rect x="419.10" y="44.06" width="7.40" height="7.41" fill="rgb(143,143,143)"/><rect x="425.90" y="44.06" width="7.40" height="7.41" fill="rgb(96,96,96)"/><rect x="432.70" y="44.06" width="7.40" height="7.41" fill="rgb(112,112,112)"/><rect x="439.50" y="44.06" width="7.40" height="7.41" fill="rgb(112,112,112)"/><rect x="446.30" y="44.06" width="7.40" height="7.41" fill="rgb(112,112,112)"/><rect x="453.10" y="44.06" width="7.40" height="7.41" fill="rgb(112,112,112)"/><rect x="459.90" y="44.06" width="7.40" height="7.41" fill="rgb(112,112,112)"/><rect x="466.70" y="44.06" width="7.40" height="7.41" fill="rgb(112,112,112)"/><rect x="473.50" y="44.06" width="7.40" height="7.41" fill="rgb(112,112,112)"/><rect x="480.30" y="44.06" width="7.40" height="7.41" fill="rgb(104,104,104)"/><rect x="487.10" y="44.06" width="7.40" height="7.41" fill="rgb(96,96,96)"/><rect x="493.90" y="44.06" width="7.40" height="7.41" fill="rgb(96,96,96)"/><rect x="500.70" y="44.06" width="7.40" height="7.41" fill="rgb(96,96,96)"/><rect x="507.50" y="44.06" width="7.40" height="7.41" fill="rgb(96,96,96)"/><rect x="296.70" y="50.87" width="7.40" height="7.41" fill="rgb(133,133,133)"/><rect x="303.50" y="50.87" width="7.40" height="7.41" fill="rgb(133,133,133)"/><rect x="310.30" y="50.87" width="7.40" height="7.41" fill="rgb(128,128,128)"/><rect x="317.10" y="50.87" width="7.40" height="7.41" fill="rgb(143,143,143)"/><rect x="323.90" y="50.87" width="7.40" height="7.41" fill="rgb(146,146,146)"/><rect x="330.70" y="50.87" width="7.40" height="7.41" fill="rgb(159,159,159)"/><rect x="337.50" y="50.87" width="7.40" height="7.41" fill="rgb(163,163,163)"/><rect x="344.30" y="50.87" width="7.40" height="7.41" fill="rgb(163,163,163)"/><rect x="351.10" y="50.87" width="7.40" height="7.41" fill="rgb(162,162,162)"/><rect x="357.90" y="50.87" width="7.40" height="7.41" fill="rgb(160,160,160)"/><rect x="364.70" y="50.87" width="7.40" height="7.41" fill="rgb(157,157,157)"/><rect x="371.50" y="50.87" width="7.40" height="7.41" fill="rgb(159,159,159)"/><rect x="378.30" y="50.87" width="7.40" height="7.41" fill="rgb(143,143,143)"/><rect x="385.10" y="50.87" width="7.40" height="7.41" fill="rgb(143,143,143)"/><rect x="391.90" y="50.87" width="7.40" height="7.41" fill="rgb(143,143,143)"/><rect x="398.70" y="50.87" width="7.40" height="7.41" fill="rgb(133,133,133)"/><rect x="405.50" y="50.87" width="7.40" height="7.41" fill="rgb(112,112,112)"/><rect x="412.30" y="50.87" width="7.40" height="7.41" fill="rgb(120,120,120)"/><rect x="419.10" y="50.87" width="7.40" height="7.41" fill="rgb(112,112,112)"/><rect x="425.90" y="50.87" width="7.40" height="7.41" fill="rgb(112,112,112)"/><rect x="432.70" y="50.87" width="7.40" height="7.41" fill="rgb(112,112,112)"/><rect x="439.50" y="50.87" width="7.40" height="7.41" fill="rgb(112,112,112)"/><rect x="446.30" y="50.87" width="7.40" height="7.41" fill="rgb(112,112,112)"/><rect x="453.10" y="50.87" width="7.40" height="7.41" fill="rgb(109,109,109)"/><rect x="459.90" y="50.87" width="7.40" height="7.41" fill="rgb(112,112,112)"/><rect x="466.70" y="50.87" width="7.40" height="7.41" fill="rgb(112,112,112)"/><rect x="473.50" y="50.87" width="7.40" height="7.41" fill="rgb(112,112,112)"/><rect x="480.30" y="50.87" width="7.40" height="7.41" fill="rgb(105,105,105)"/><rect x="487.10" y="50.87" width="7.40" height="7.41" fill="rgb(96,96,96)"/><rect x="493.90" y="50.87" width="7.40" height="7.41" fill="rgb(96,96,96)"/><rect x="500.70" y="50.87" width="7.40" height="7.41" fill="rgb(96,96,96)"/><rect x="507.50" y="50.87" width="7.40" height="7.41" fill="rgb(96,96,96)"/><rect x="296.70" y="57.69" width="7.40" height="7.41" fill="rgb(112,112,112)"/><rect x="303.50" y="57.69" width="7.40" height="7.41" fill="rgb(112,112,112)"/><rect x="310.30" y="57.69" width="7.40" height="7.41" fill="rgb(159,159,159)"/><rect x="317.10" y="57.69" width="7.40" height="7.41" fill="rgb(155,155,155)"/><rect x="323.90" y="57.69" width="7.40" height="7.41" fill="rgb(159,159,159)"/><rect x="330.70" y="57.69" width="7.40" height="7.41" fill="rgb(167,167,167)"/><rect x="337.50" y="57.69" width="7.40" height="7.41" fill="rgb(166,166,166)"/><rect x="344.30" y="57.69" width="7.40" height="7.41" fill="rgb(167,167,167)"/><rect x="351.10" y="57.69" width="7.40" height="7.41" fill="rgb(172,172,172)"/><rect x="357.90" y="57.69" width="7.40" height="7.41" fill="rgb(171,171,171)"/><rect x="364.70" y="57.69" width="7.40" height="7.41" fill="rgb(172,172,172)"/><rect x="371.50" y="57.69" width="7.40" height="7.41" fill="rgb(168,168,168)"/><rect x="378.30" y="57.69" width="7.40" height="7.41" fill="rgb(175,175,175)"/><rect x="385.10" y="57.69" width="7.40" height="7.41" fill="rgb(143,143,143)"/><rect x="391.90" y="57.69" width="7.40" height="7.41" fill="rgb(175,175,175)"/><rect x="398.70" y="57.69" width="7.40" height="7.41" fill="rgb(137,137,137)"/><rect x="405.50" y="57.69" width="7.40" height="7.41" fill="rgb(104,104,104)"/><rect x="412.30" y="57.69" width="7.40" height="7.41" fill="rgb(112,112,112)"/><rect x="419.10" y="57.69" width="7.40" height="7.41" fill="rgb(112,112,112)"/><rect x="425.90" y="57.69" width="7.40" height="7.41" fill="rgb(96,96,96)"/><rect x="432.70" y="57.69" width="7.40" height="7.41" fill="rgb(112,112,112)"/><rect x="439.50" y="57.69" width="7.40" height="7.41" fill="rgb(112,112,112)"/><rect x="446.30" y="57.69" width="7.40" height="7.41" fill="rgb(96,96,96)"/><rect x="453.10" y="57.69" width="7.40" height="7.41" fill="rgb(109,109,109)"/><rect x="459.90" y="57.69" width="7.40" height="7.41" fill="rgb(112,112,112)"/><rect x="466.70" y="57.69" width="7.40" height="7.41" fill="rgb(128,128,128)"/><rect x="473.50" y="57.69" width="7.40" height="7.41" fill="rgb(112,112,112)"/><rect x="480.30" y="57.69" width="7.40" height="7.41" fill="rgb(105,105,105)"/><rect x="487.10" y="57.69" width="7.40" height="7.41" fill="rgb(96,96,96)"/><rect x="493.90" y="57.69" width="7.40" height="7.41" fill="rgb(100,100,100)"/><rect x="500.70" y="57.69" width="7.40" height="7.41" fill="rgb(96,96,96)"/><rect x="507.50" y="57.69" width="7.40" height="7.41" fill="rgb(96,96,96)"/><rect x="296.70" y="64.50" width="7.40" height="7.41" fill="rgb(128,128,128)"/><rect x="303.50" y="64.50" width="7.40" height="7.41" fill="rgb(128,128,128)"/><rect x="310.30" y="64.50" width="7.40" height="7.41" fill="rgb(175,175,175)"/><rect x="317.10" y="64.50" width="7.40" height="7.41" fill="rgb(159,159,159)"/><rect x="323.90" y="64.50" width="7.40" height="7.41" fill="rgb(175,175,175)"/><rect x="330.70" y="64.50" width="7.40" height="7.41" fill="rgb(172,172,172)"/><rect x="337.50" y="64.50" width="7.40" height="7.41" fill="rgb(172,172,172)"/><rect x="344.30" y="64.50" width="7.40" height="7.41" fill="rgb(170,170,170)"/><rect x="351.10" y="64.50" width="7.40" height="7.41" fill="rgb(191,191,191)"/><rect x="357.90" y="64.50" width="7.40" height="7.41" fill="rgb(184,184,184)"/><rect x="364.70" y="64.50" width="7.40" height="7.41" fill="rgb(183,183,183)"/><rect x="371.50" y="64.50" width="7.40" height="7.41" fill="rgb(188,188,188)"/><rect x="378.30" y="64.50" width="7.40" height="7.41" fill="rgb(186,186,186)"/><rect x="385.10" y="64.50" width="7.40" height="7.41" fill="rgb(207,207,207)"/><rect x="391.90" y="64.50" width="7.40" height="7.41" fill="rgb(186,186,186)"/><rect x="398.70" y="64.50" width="7.40" height="7.41" fill="rgb(148,148,148)"/><rect x="405.50" y="64.50" width="7.40" height="7.41" fill="rgb(104,104,104)"/><rect x="412.30" y="64.50" width="7.40" height="7.41" fill="rgb(96,96,96)"/><rect x="419.10" y="64.50" width="7.40" height="7.41" fill="rgb(100,100,100)"/><rect x="425.90" y="64.50" width="7.40" height="7.41" fill="rgb(96,96,96)"/><rect x="432.70" y="64.50" width="7.40" height="7.41" fill="rgb(112,112,112)"/><rect x="439.50" y="64.50" width="7.40" height="7.41" fill="rgb(112,112,112)"/><rect x="446.30" y="64.50" width="7.40" height="7.41" fill="rgb(112,112,112)"/><rect x="453.10" y="64.50" width="7.40" height="7.41" fill="rgb(112,112,112)"/><rect x="459.90" y="64.50" width="7.40" height="7.41" fill="rgb(112,112,112)"/><rect x="466.70" y="64.50" width="7.40" height="7.41" fill="rgb(128,128,128)"/><rect x="473.50" y="64.50" width="7.40" height="7.41" fill="rgb(112,112,112)"/><rect x="480.30" y="64.50" width="7.40" height="7.41" fill="rgb(112,112,112)"/><rect x="487.10" y="64.50" width="7.40" height="7.41" fill="rgb(101,101,101)"/><rect x="493.90" y="64.50" width="7.40" height="7.41" fill="rgb(102,102,102)"/><rect x="500.70" y="64.50" width="7.40" height="7.41" fill="rgb(112,112,112)"/><rect x="507.50" y="64.50" width="7.40" height="7.41" fill="rgb(112,112,112)"/><rect x="296.70" y="71.31" width="7.40" height="7.41" fill="rgb(112,112,112)"/><rect x="303.50" y="71.31" width="7.40" height="7.41" fill="rgb(112,112,112)"/><rect x="310.30" y="71.31" width="7.40" height="7.41" fill="rgb(175,175,175)"/><rect x="317.10" y="71.31" width="7.40" height="7.41" fill="rgb(191,191,191)"/><rect x="323.90" y="71.31" width="7.40" height="7.41" fill="rgb(181,181,181)"/><rect x="330.70" y="71.31" width="7.40" height="7.41" fill="rgb(177,177,177)"/><rect x="337.50" y="71.31" width="7.40" height="7.41" fill="rgb(172,172,172)"/><rect x="344.30" y="71.31" width="7.40" height="7.41" fill="rgb(148,148,148)"/><rect x="351.10" y="71.31" width="7.40" height="7.41" fill="rgb(149,149,149)"/><rect x="357.90" y="71.31" width="7.40" height="7.41" fill="rgb(191,191,191)"/><rect x="364.70" y="71.31" width="7.40" height="7.41" fill="rgb(191,191,191)"/><rect x="371.50" y="71.31" width="7.40" height="7.41" fill="rgb(193,193,193)"/><rect x="378.30" y="71.31" width="7.40" height="7.41" fill="rgb(202,202,202)"/><rect x="385.10" y="71.31" width="7.40" height="7.41" fill="rgb(207,207,207)"/><rect x="391.90" y="71.31" width="7.40" height="7.41" fill="rgb(202,202,202)"/><rect x="398.70" y="71.31" width="7.40" height="7.41" fill="rgb(152,152,152)"/><rect x="405.50" y="71.31" width="7.40" height="7.41" fill="rgb(120,120,120)"/><rect x="412.30" y="71.31" width="7.40" height="7.41" fill="rgb(108,108,108)"/><rect x="419.10" y="71.31" width="7.40" height="7.41" fill="rgb(96,96,96)"/><rect x="425.90" y="71.31" width="7.40" height="7.41" fill="rgb(96,96,96)"/><rect x="432.70" y="71.31" width="7.40" height="7.41" fill="rgb(112,112,112)"/><rect x="439.50" y="71.31" width="7.40" height="7.41" fill="rgb(112,112,112)"/><rect x="446.30" y="71.31" width="7.40" height="7.41" fill="rgb(128,128,128)"/><rect x="453.10" y="71.31" width="7.40" height="7.41" fill="rgb(117,117,117)"/><rect x="459.90" y="71.31" width="7.40" height="7.41" fill="rgb(112,112,112)"/><rect x="466.70" y="71.31" width="7.40" height="7.41" fill="rgb(128,128,128)"/><rect x="473.50" y="71.31" width="7.40" height="7.41" fill="rgb(128,128,128)"/><rect x="480.30" y="71.31" width="7.40" height="7.41" fill="rgb(112,112,112)"/><rect x="487.10" y="71.31" width="7.40" height="7.41" fill="rgb(105,105,105)"/><rect x="493.90" y="71.31" width="7.40" height="7.41" fill="rgb(96,96,96)"/><rect x="500.70" y="71.31" width="7.40" height="7.41" fill="rgb(112,112,112)"/><rect x="507.50" y="71.31" width="7.40" height="7.41" fill="rgb(112,112,112)"/><rect x="296.70" y="78.13" width="7.40" height="7.41" fill="rgb(96,96,96)"/><rect x="303.50" y="78.13" width="7.40" height="7.41" fill="rgb(96,96,96)"/><rect x="310.30" y="78.13" width="7.40" height="7.41" fill="rgb(159,159,159)"/><rect x="317.10" y="78.13" width="7.40" height="7.41" fill="rgb(191,191,191)"/><rect x="323.90" y="78.13" width="7.40" height="7.41" fill="rgb(175,175,175)"/><rect x="330.70" y="78.13" width="7.40" height="7.41" fill="rgb(168,168,168)"/><rect x="337.50" y="78.13" width="7.40" height="7.41" fill="rgb(145,145,145)"/><rect x="344.30" y="78.13" width="7.40" height="7.41" fill="rgb(122,122,122)"/><rect x="351.10" y="78.13" width="7.40" height="7.41" fill="rgb(129,129,129)"/><rect x="357.90" y="78.13" width="7.40" height="7.41" fill="rgb(152,152,152)"/><rect x="364.70" y="78.13" width="7.40" height="7.41" fill="rgb(191,191,191)"/><rect x="371.50" y="78.13" width="7.40" height="7.41" fill="rgb(194,194,194)"/><rect x="378.30" y="78.13" width="7.40" height="7.41" fill="rgb(191,191,191)"/><rect x="385.10" y="78.13" width="7.40" height="7.41" fill="rgb(191,191,191)"/><rect x="391.90" y="78.13" width="7.40" height="7.41" fill="rgb(191,191,191)"/><rect x="398.70" y="78.13" width="7.40" height="7.41" fill="rgb(128,128,128)"/><rect x="405.50" y="78.13" width="7.40" height="7.41" fill="rgb(135,135,135)"/><rect x="412.30" y="78.13" width="7.40" height="7.41" fill="rgb(143,143,143)"/><rect x="419.10" y="78.13" width="7.40" height="7.41" fill="rgb(96,96,96)"/><rect x="425.90" y="78.13" width="7.40" height="7.41" fill="rgb(96,96,96)"/><rect x="432.70" y="78.13" width="7.40" height="7.41" fill="rgb(112,112,112)"/><rect x="439.50" y="78.13" width="7.40" height="7.41" fill="rgb(112,112,112)"/><rect x="446.30" y="78.13" width="7.40" height="7.41" fill="rgb(128,128,128)"/><rect x="453.10" y="78.13" width="7.40" height="7.41" fill="rgb(120,120,120)"/><rect x="459.90" y="78.13" width="7.40" height="7.41" fill="rgb(112,112,112)"/><rect x="466.70" y="78.13" width="7.40" height="7.41" fill="rgb(128,128,128)"/><rect x="473.50" y="78.13" width="7.40" height="7.41" fill="rgb(128,128,128)"/><rect x="480.30" y="78.13" width="7.40" height="7.41" fill="rgb(128,128,128)"/><rect x="487.10" y="78.13" width="7.40" height="7.41" fill="rgb(96,96,96)"/><rect x="493.90" y="78.13" width="7.40" height="7.41" fill="rgb(96,96,96)"/><rect x="500.70" y="78.13" width="7.40" height="7.41" fill="rgb(112,112,112)"/><rect x="507.50" y="78.13" width="7.40" height="7.41" fill="rgb(112,112,112)"/><rect x="296.70" y="84.94" width="7.40" height="7.41" fill="rgb(175,175,175)"/><rect x="303.50" y="84.94" width="7.40" height="7.41" fill="rgb(175,175,175)"/><rect x="310.30" y="84.94" width="7.40" height="7.41" fill="rgb(150,150,150)"/><rect x="317.10" y="84.94" width="7.40" height="7.41" fill="rgb(143,143,143)"/><rect x="323.90" y="84.94" width="7.40" height="7.41" fill="rgb(149,149,149)"/><rect x="330.70" y="84.94" width="7.40" height="7.41" fill="rgb(139,139,139)"/><rect x="337.50" y="84.94" width="7.40" height="7.41" fill="rgb(112,112,112)"/><rect x="344.30" y="84.94" width="7.40" height="7.41" fill="rgb(128,128,128)"/><rect x="351.10" y="84.94" width="7.40" height="7.41" fill="rgb(128,128,128)"/><rect x="357.90" y="84.94" width="7.40" height="7.41" fill="rgb(133,133,133)"/><rect x="364.70" y="84.94" width="7.40" height="7.41" fill="rgb(158,158,158)"/><rect x="371.50" y="84.94" width="7.40" height="7.41" fill="rgb(191,191,191)"/><rect x="378.30" y="84.94" width="7.40" height="7.41" fill="rgb(191,191,191)"/><rect x="385.10" y="84.94" width="7.40" height="7.41" fill="rgb(175,175,175)"/><rect x="391.90" y="84.94" width="7.40" height="7.41" fill="rgb(163,163,163)"/><rect x="398.70" y="84.94" width="7.40" height="7.41" fill="rgb(128,128,128)"/><rect x="405.50" y="84.94" width="7.40" height="7.41" fill="rgb(128,128,128)"/><rect x="412.30" y="84.94" width="7.40" height="7.41" fill="rgb(125,125,125)"/><rect x="419.10" y="84.94" width="7.40" height="7.41" fill="rgb(112,112,112)"/><rect x="425.90" y="84.94" width="7.40" height="7.41" fill="rgb(112,112,112)"/><rect x="432.70" y="84.94" width="7.40" height="7.41" fill="rgb(112,112,112)"/><rect x="439.50" y="84.94" width="7.40" height="7.41" fill="rgb(128,128,128)"/><rect x="446.30" y="84.94" width="7.40" height="7.41" fill="rgb(112,112,112)"/><rect x="453.10" y="84.94" width="7.40" height="7.41" fill="rgb(118,118,118)"/><rect x="459.90" y="84.94" width="7.40" height="7.41" fill="rgb(128,128,128)"/><rect x="466.70" y="84.94" width="7.40" height="7.41" fill="rgb(128,128,128)"/><rect x="473.50" y="84.94" width="7.40" height="7.41" fill="rgb(128,128,128)"/><rect x="480.30" y="84.94" width="7.40" height="7.41" fill="rgb(112,112,112)"/><rect x="487.10" y="84.94" width="7.40" height="7.41" fill="rgb(128,128,128)"/><rect x="493.90" y="84.94" width="7.40" height="7.41" fill="rgb(128,128,128)"/><rect x="500.70" y="84.94" width="7.40" height="7.41" fill="rgb(112,112,112)"/><rect x="507.50" y="84.94" width="7.40" height="7.41" fill="rgb(112,112,112)"/><rect x="296.70" y="91.76" width="7.40" height="7.41" fill="rgb(175,175,175)"/><rect x="303.50" y="91.76" width="7.40" height="7.41" fill="rgb(175,175,175)"/><rect x="310.30" y="91.76" width="7.40" height="7.41" fill="rgb(141,141,141)"/><rect x="317.10" y="91.76" width="7.40" height="7.41" fill="rgb(112,112,112)"/><rect x="323.90" y="91.76" width="7.40" height="7.41" fill="rgb(120,120,120)"/><rect x="330.70" y="91.76" width="7.40" height="7.41" fill="rgb(112,112,112)"/><rect x="337.50" y="91.76" width="7.40" height="7.41" fill="rgb(108,108,108)"/><rect x="344.30" y="91.76" width="7.40" height="7.41" fill="rgb(143,143,143)"/><rect x="351.10" y="91.76" width="7.40" height="7.41" fill="rgb(128,128,128)"/><rect x="357.90" y="91.76" width="7.40" height="7.41" fill="rgb(128,128,128)"/><rect x="364.70" y="91.76" width="7.40" height="7.41" fill="rgb(143,143,143)"/><rect x="371.50" y="91.76" width="7.40" height="7.41" fill="rgb(171,171,171)"/><rect x="378.30" y="91.76" width="7.40" height="7.41" fill="rgb(191,191,191)"/><rect x="385.10" y="91.76" width="7.40" height="7.41" fill="rgb(207,207,207)"/><rect x="391.90" y="91.76" width="7.40" height="7.41" fill="rgb(112,112,112)"/><rect x="398.70" y="91.76" width="7.40" height="7.41" fill="rgb(128,128,128)"/><rect x="405.50" y="91.76" width="7.40" height="7.41" fill="rgb(143,143,143)"/><rect x="412.30" y="91.76" width="7.40" height="7.41" fill="rgb(133,133,133)"/><rect x="419.10" y="91.76" width="7.40" height="7.41" fill="rgb(128,128,128)"/><rect x="425.90" y="91.76" width="7.40" height="7.41" fill="rgb(128,128,128)"/><rect x="432.70" y="91.76" width="7.40" height="7.41" fill="rgb(128,128,128)"/><rect x="439.50" y="91.76" width="7.40" height="7.41" fill="rgb(128,128,128)"/><rect x="446.30" y="91.76" width="7.40" height="7.41" fill="rgb(112,112,112)"/><rect x="453.10" y="91.76" width="7.40" height="7.41" fill="rgb(112,112,112)"/><rect x="459.90" y="91.76" width="7.40" height="7.41" fill="rgb(128,128,128)"/><rect x="466.70" y="91.76" width="7.40" height="7.41" fill="rgb(128,128,128)"/><rect x="473.50" y="91.76" width="7.40" height="7.41" fill="rgb(128,128,128)"/><rect x="480.30" y="91.76" width="7.40" height="7.41" fill="rgb(112,112,112)"/><rect x="487.10" y="91.76" width="7.40" height="7.41" fill="rgb(128,128,128)"/><rect x="493.90" y="91.76" width="7.40" height="7.41" fill="rgb(128,128,128)"/><rect x="500.70" y="91.76" width="7.40" height="7.41" fill="rgb(112,112,112)"/><rect x="507.50" y="91.76" width="7.40" height="7.41" fill="rgb(112,112,112)"/><rect x="296.70" y="98.57" width="7.40" height="7.41" fill="rgb(128,128,128)"/><rect x="303.50" y="98.57" width="7.40" height="7.41" fill="rgb(128,128,128)"/><rect x="310.30" y="98.57" width="7.40" height="7.41" fill="rgb(133,133,133)"/><rect x="317.10" y="98.57" width="7.40" height="7.41" fill="rgb(112,112,112)"/><rect x="323.90" y="98.57" width="7.40" height="7.41" fill="rgb(112,112,112)"/><rect x="330.70" y="98.57" width="7.40" height="7.41" fill="rgb(104,104,104)"/><rect x="337.50" y="98.57" width="7.40" height="7.41" fill="rgb(110,110,110)"/><rect x="344.30" y="98.57" width="7.40" height="7.41" fill="rgb(133,133,133)"/><rect x="351.10" y="98.57" width="7.40" height="7.41" fill="rgb(159,159,159)"/><rect x="357.90" y="98.57" width="7.40" height="7.41" fill="rgb(128,128,128)"/><rect x="364.70" y="98.57" width="7.40" height="7.41" fill="rgb(128,128,128)"/><rect x="371.50" y="98.57" width="7.40" height="7.41" fill="rgb(175,175,175)"/><rect x="378.30" y="98.57" width="7.40" height="7.41" fill="rgb(191,191,191)"/><rect x="385.10" y="98.57" width="7.40" height="7.41" fill="rgb(207,207,207)"/><rect x="391.90" y="98.57" width="7.40" height="7.41" fill="rgb(155,155,155)"/><rect x="398.70" y="98.57" width="7.40" height="7.41" fill="rgb(143,143,143)"/><rect x="405.50" y="98.57" width="7.40" height="7.41" fill="rgb(143,143,143)"/><rect x="412.30" y="98.57" width="7.40" height="7.41" fill="rgb(139,139,139)"/><rect x="419.10" y="98.57" width="7.40" height="7.41" fill="rgb(143,143,143)"/><rect x="425.90" y="98.57" width="7.40" height="7.41" fill="rgb(159,159,159)"/><rect x="432.70" y="98.57" width="7.40" height="7.41" fill="rgb(143,143,143)"/><rect x="439.50" y="98.57" width="7.40" height="7.41" fill="rgb(112,112,112)"/><rect x="446.30" y="98.57" width="7.40" height="7.41" fill="rgb(112,112,112)"/><rect x="453.10" y="98.57" width="7.40" height="7.41" fill="rgb(128,128,128)"/><rect x="459.90" y="98.57" width="7.40" height="7.41" fill="rgb(128,128,128)"/><rect x="466.70" y="98.57" width="7.40" height="7.41" fill="rgb(143,143,143)"/><rect x="473.50" y="98.57" width="7.40" height="7.41" fill="rgb(112,112,112)"/><rect x="480.30" y="98.57" width="7.40" height="7.41" fill="rgb(128,128,128)"/><rect x="487.10" y="98.57" width="7.40" height="7.41" fill="rgb(128,128,128)"/><rect x="493.90" y="98.57" width="7.40" height="7.41" fill="rgb(124,124,124)"/><rect x="500.70" y="98.57" width="7.40" height="7.41" fill="rgb(120,120,120)"/><rect x="507.50" y="98.57" width="7.40" height="7.41" fill="rgb(120,120,120)"/><rect x="296.70" y="105.39" width="7.40" height="7.41" fill="rgb(159,159,159)"/><rect x="303.50" y="105.39" width="7.40" height="7.41" fill="rgb(159,159,159)"/><rect x="310.30" y="105.39" width="7.40" height="7.41" fill="rgb(128,128,128)"/><rect x="317.10" y="105.39" width="7.40" height="7.41" fill="rgb(112,112,112)"/><rect x="323.90" y="105.39" width="7.40" height="7.41" fill="rgb(96,96,96)"/><rect x="330.70" y="105.39" width="7.40" height="7.41" fill="rgb(121,121,121)"/><rect x="337.50" y="105.39" width="7.40" height="7.41" fill="rgb(120,120,120)"/><rect x="344.30" y="105.39" width="7.40" height="7.41" fill="rgb(96,96,96)"/><rect x="351.10" y="105.39" width="7.40" height="7.41" fill="rgb(165,165,165)"/><rect x="357.90" y="105.39" width="7.40" height="7.41" fill="rgb(191,191,191)"/><rect x="364.70" y="105.39" width="7.40" height="7.41" fill="rgb(143,143,143)"/><rect x="371.50" y="105.39" width="7.40" height="7.41" fill="rgb(112,112,112)"/><rect x="378.30" y="105.39" width="7.40" height="7.41" fill="rgb(175,175,175)"/><rect x="385.10" y="105.39" width="7.40" height="7.41" fill="rgb(207,207,207)"/><rect x="391.90" y="105.39" width="7.40" height="7.41" fill="rgb(96,96,96)"/><rect x="398.70" y="105.39" width="7.40" height="7.41" fill="rgb(143,143,143)"/><rect x="405.50" y="105.39" width="7.40" height="7.41" fill="rgb(159,159,159)"/><rect x="412.30" y="105.39" width="7.40" height="7.41" fill="rgb(112,112,112)"/><rect x="419.10" y="105.39" width="7.40" height="7.41" fill="rgb(143,143,143)"/><rect x="425.90" y="105.39" width="7.40" height="7.41" fill="rgb(159,159,159)"/><rect x="432.70" y="105.39" width="7.40" height="7.41" fill="rgb(159,159,159)"/><rect x="439.50" y="105.39" width="7.40" height="7.41" fill="rgb(143,143,143)"/><rect x="446.30" y="105.39" width="7.40" height="7.41" fill="rgb(112,112,112)"/><rect x="453.10" y="105.39" width="7.40" height="7.41" fill="rgb(128,128,128)"/><rect x="459.90" y="105.39" width="7.40" height="7.41" fill="rgb(143,143,143)"/><rect x="466.70" y="105.39" width="7.40" height="7.41" fill="rgb(159,159,159)"/><rect x="473.50" y="105.39" width="7.40" height="7.41" fill="rgb(112,112,112)"/><rect x="480.30" y="105.39" width="7.40" height="7.41" fill="rgb(143,143,143)"/><rect x="487.10" y="105.39" width="7.40" height="7.41" fill="rgb(128,128,128)"/><rect x="493.90" y="105.39" width="7.40" height="7.41" fill="rgb(128,128,128)"/><rect x="500.70" y="105.39" width="7.40" height="7.41" fill="rgb(133,133,133)"/><rect x="507.50" y="105.39" width="7.40" height="7.41" fill="rgb(133,133,133)"/><rect x="296.70" y="112.20" width="7.40" height="7.41" fill="rgb(159,159,159)"/><rect x="303.50" y="112.20" width="7.40" height="7.41" fill="rgb(159,159,159)"/><rect x="310.30" y="112.20" width="7.40" height="7.41" fill="rgb(138,138,138)"/><rect x="317.10" y="112.20" width="7.40" height="7.41" fill="rgb(96,96,96)"/><rect x="323.90" y="112.20" width="7.40" height="7.41" fill="rgb(159,159,159)"/><rect x="330.70" y="112.20" width="7.40" height="7.41" fill="rgb(143,143,143)"/><rect x="337.50" y="112.20" width="7.40" height="7.41" fill="rgb(96,96,96)"/><rect x="344.30" y="112.20" width="7.40" height="7.41" fill="rgb(104,104,104)"/><rect x="351.10" y="112.20" width="7.40" height="7.41" fill="rgb(165,165,165)"/><rect x="357.90" y="112.20" width="7.40" height="7.41" fill="rgb(175,175,175)"/><rect x="364.70" y="112.20" width="7.40" height="7.41" fill="rgb(143,143,143)"/><rect x="371.50" y="112.20" width="7.40" height="7.41" fill="rgb(96,96,96)"/><rect x="378.30" y="112.20" width="7.40" height="7.41" fill="rgb(175,175,175)"/><rect x="385.10" y="112.20" width="7.40" height="7.41" fill="rgb(207,207,207)"/><rect x="391.90" y="112.20" width="7.40" height="7.41" fill="rgb(112,112,112)"/><rect x="398.70" y="112.20" width="7.40" height="7.41" fill="rgb(143,143,143)"/><rect x="405.50" y="112.20" width="7.40" height="7.41" fill="rgb(143,143,143)"/><rect x="412.30" y="112.20" width="7.40" height="7.41" fill="rgb(128,128,128)"/><rect x="419.10" y="112.20" width="7.40" height="7.41" fill="rgb(143,143,143)"/><rect x="425.90" y="112.20" width="7.40" height="7.41" fill="rgb(143,143,143)"/><rect x="432.70" y="112.20" width="7.40" height="7.41" fill="rgb(159,159,159)"/><rect x="439.50" y="112.20" width="7.40" height="7.41" fill="rgb(128,128,128)"/><rect x="446.30" y="112.20" width="7.40" height="7.41" fill="rgb(128,128,128)"/><rect x="453.10" y="112.20" width="7.40" height="7.41" fill="rgb(96,96,96)"/><rect x="459.90" y="112.20" width="7.40" height="7.41" fill="rgb(96,96,96)"/><rect x="466.70" y="112.20" width="7.40" height="7.41" fill="rgb(143,143,143)"/><rect x="473.50" y="112.20" width="7.40" height="7.41" fill="rgb(112,112,112)"/><rect x="480.30" y="112.20" width="7.40" height="7.41" fill="rgb(128,128,128)"/><rect x="487.10" y="112.20" width="7.40" height="7.41" fill="rgb(128,128,128)"/><rect x="493.90" y="112.20" width="7.40" height="7.41" fill="rgb(140,140,140)"/><rect x="500.70" y="112.20" width="7.40" height="7.41" fill="rgb(151,151,151)"/><rect x="507.50" y="112.20" width="7.40" height="7.41" fill="rgb(151,151,151)"/><rect x="296.70" y="119.01" width="7.40" height="7.41" fill="rgb(175,175,175)"/><rect x="303.50" y="119.01" width="7.40" height="7.41" fill="rgb(175,175,175)"/><rect x="310.30" y="119.01" width="7.40" height="7.41" fill="rgb(150,150,150)"/><rect x="317.10" y="119.01" width="7.40" height="7.41" fill="rgb(128,128,128)"/><rect x="323.90" y="119.01" width="7.40" height="7.41" fill="rgb(175,175,175)"/><rect x="330.70" y="119.01" width="7.40" height="7.41" fill="rgb(128,128,128)"/><rect x="337.50" y="119.01" width="7.40" height="7.41" fill="rgb(112,112,112)"/><rect x="344.30" y="119.01" width="7.40" height="7.41" fill="rgb(112,112,112)"/><rect x="351.10" y="119.01" width="7.40" height="7.41" fill="rgb(143,143,143)"/><rect x="357.90" y="119.01" width="7.40" height="7.41" fill="rgb(128,128,128)"/><rect x="364.70" y="119.01" width="7.40" height="7.41" fill="rgb(112,112,112)"/><rect x="371.50" y="119.01" width="7.40" height="7.41" fill="rgb(137,137,137)"/><rect x="378.30" y="119.01" width="7.40" height="7.41" fill="rgb(112,112,112)"/><rect x="385.10" y="119.01" width="7.40" height="7.41" fill="rgb(143,143,143)"/><rect x="391.90" y="119.01" width="7.40" height="7.41" fill="rgb(151,151,151)"/><rect x="398.70" y="119.01" width="7.40" height="7.41" fill="rgb(131,131,131)"/><rect x="405.50" y="119.01" width="7.40" height="7.41" fill="rgb(133,133,133)"/><rect x="412.30" y="119.01" width="7.40" height="7.41" fill="rgb(128,128,128)"/><rect x="419.10" y="119.01" width="7.40" height="7.41" fill="rgb(128,128,128)"/><rect x="425.90" y="119.01" width="7.40" height="7.41" fill="rgb(143,143,143)"/><rect x="432.70" y="119.01" width="7.40" height="7.41" fill="rgb(143,143,143)"/><rect x="439.50" y="119.01" width="7.40" height="7.41" fill="rgb(128,128,128)"/><rect x="446.30" y="119.01" width="7.40" height="7.41" fill="rgb(143,143,143)"/><rect x="453.10" y="119.01" width="7.40" height="7.41" fill="rgb(96,96,96)"/><rect x="459.90" y="119.01" width="7.40" height="7.41" fill="rgb(96,96,96)"/><rect x="466.70" y="119.01" width="7.40" height="7.41" fill="rgb(128,128,128)"/><rect x="473.50" y="119.01" width="7.40" height="7.41" fill="rgb(143,143,143)"/><rect x="480.30" y="119.01" width="7.40" height="7.41" fill="rgb(159,159,159)"/><rect x="487.10" y="119.01" width="7.40" height="7.41" fill="rgb(143,143,143)"/><rect x="493.90" y="119.01" width="7.40" height="7.41" fill="rgb(143,143,143)"/><rect x="500.70" y="119.01" width="7.40" height="7.41" fill="rgb(159,159,159)"/><rect x="507.50" y="119.01" width="7.40" height="7.41" fill="rgb(159,159,159)"/><rect x="296.70" y="125.83" width="7.40" height="7.41" fill="rgb(175,175,175)"/><rect x="303.50" y="125.83" width="7.40" height="7.41" fill="rgb(175,175,175)"/><rect x="310.30" y="125.83" width="7.40" height="7.41" fill="rgb(159,159,159)"/><rect x="317.10" y="125.83" width="7.40" height="7.41" fill="rgb(159,159,159)"/><rect x="323.90" y="125.83" width="7.40" height="7.41" fill="rgb(159,159,159)"/><rect x="330.70" y="125.83" width="7.40" height="7.41" fill="rgb(143,143,143)"/><rect x="337.50" y="125.83" width="7.40" height="7.41" fill="rgb(128,128,128)"/><rect x="344.30" y="125.83" width="7.40" height="7.41" fill="rgb(122,122,122)"/><rect x="351.10" y="125.83" width="7.40" height="7.41" fill="rgb(117,117,117)"/><rect x="357.90" y="125.83" width="7.40" height="7.41" fill="rgb(128,128,128)"/><rect x="364.70" y="125.83" width="7.40" height="7.41" fill="rgb(143,143,143)"/><rect x="371.50" y="125.83" width="7.40" height="7.41" fill="rgb(143,143,143)"/><rect x="378.30" y="125.83" width="7.40" height="7.41" fill="rgb(175,175,175)"/><rect x="385.10" y="125.83" width="7.40" height="7.41" fill="rgb(175,175,175)"/><rect x="391.90" y="125.83" width="7.40" height="7.41" fill="rgb(150,150,150)"/><rect x="398.70" y="125.83" width="7.40" height="7.41" fill="rgb(128,128,128)"/><rect x="405.50" y="125.83" width="7.40" height="7.41" fill="rgb(128,128,128)"/><rect x="412.30" y="125.83" width="7.40" height="7.41" fill="rgb(131,131,131)"/><rect x="419.10" y="125.83" width="7.40" height="7.41" fill="rgb(128,128,128)"/><rect x="425.90" y="125.83" width="7.40" height="7.41" fill="rgb(112,112,112)"/><rect x="432.70" y="125.83" width="7.40" height="7.41" fill="rgb(128,128,128)"/><rect x="439.50" y="125.83" width="7.40" height="7.41" fill="rgb(143,143,143)"/><rect x="446.30" y="125.83" width="7.40" height="7.41" fill="rgb(128,128,128)"/><rect x="453.10" y="125.83" width="7.40" height="7.41" fill="rgb(96,96,96)"/><rect x="459.90" y="125.83" width="7.40" height="7.41" fill="rgb(96,96,96)"/><rect x="466.70" y="125.83" width="7.40" height="7.41" fill="rgb(128,128,128)"/><rect x="473.50" y="125.83" width="7.40" height="7.41" fill="rgb(128,128,128)"/><rect x="480.30" y="125.83" width="7.40" height="7.41" fill="rgb(143,143,143)"/><rect x="487.10" y="125.83" width="7.40" height="7.41" fill="rgb(143,143,143)"/><rect x="493.90" y="125.83" width="7.40" height="7.41" fill="rgb(159,159,159)"/><rect x="500.70" y="125.83" width="7.40" height="7.41" fill="rgb(159,159,159)"/><rect x="507.50" y="125.83" width="7.40" height="7.41" fill="rgb(159,159,159)"/><rect x="296.70" y="132.64" width="7.40" height="7.41" fill="rgb(112,112,112)"/><rect x="303.50" y="132.64" width="7.40" height="7.41" fill="rgb(112,112,112)"/><rect x="310.30" y="132.64" width="7.40" height="7.41" fill="rgb(175,175,175)"/><rect x="317.10" y="132.64" width="7.40" height="7.41" fill="rgb(128,128,128)"/><rect x="323.90" y="132.64" width="7.40" height="7.41" fill="rgb(157,157,157)"/><rect x="330.70" y="132.64" width="7.40" height="7.41" fill="rgb(159,159,159)"/><rect x="337.50" y="132.64" width="7.40" height="7.41" fill="rgb(128,128,128)"/><rect x="344.30" y="132.64" width="7.40" height="7.41" fill="rgb(153,153,153)"/><rect x="351.10" y="132.64" width="7.40" height="7.41" fill="rgb(143,143,143)"/><rect x="357.90" y="132.64" width="7.40" height="7.41" fill="rgb(96,96,96)"/><rect x="364.70" y="132.64" width="7.40" height="7.41" fill="rgb(143,143,143)"/><rect x="371.50" y="132.64" width="7.40" height="7.41" fill="rgb(128,128,128)"/><rect x="378.30" y="132.64" width="7.40" height="7.41" fill="rgb(191,191,191)"/><rect x="385.10" y="132.64" width="7.40" height="7.41" fill="rgb(191,191,191)"/><rect x="391.90" y="132.64" width="7.40" height="7.41" fill="rgb(112,112,112)"/><rect x="398.70" y="132.64" width="7.40" height="7.41" fill="rgb(125,125,125)"/><rect x="405.50" y="132.64" width="7.40" height="7.41" fill="rgb(134,134,134)"/><rect x="412.30" y="132.64" width="7.40" height="7.41" fill="rgb(138,138,138)"/><rect x="419.10" y="132.64" width="7.40" height="7.41" fill="rgb(143,143,143)"/><rect x="425.90" y="132.64" width="7.40" height="7.41" fill="rgb(128,128,128)"/><rect x="432.70" y="132.64" width="7.40" height="7.41" fill="rgb(128,128,128)"/><rect x="439.50" y="132.64" width="7.40" height="7.41" fill="rgb(143,143,143)"/><rect x="446.30" y="132.64" width="7.40" height="7.41" fill="rgb(128,128,128)"/><rect x="453.10" y="132.64" width="7.40" height="7.41" fill="rgb(96,96,96)"/><rect x="459.90" y="132.64" width="7.40" height="7.41" fill="rgb(96,96,96)"/><rect x="466.70" y="132.64" width="7.40" height="7.41" fill="rgb(112,112,112)"/><rect x="473.50" y="132.64" width="7.40" height="7.41" fill="rgb(143,143,143)"/><rect x="480.30" y="132.64" width="7.40" height="7.41" fill="rgb(143,143,143)"/><rect x="487.10" y="132.64" width="7.40" height="7.41" fill="rgb(143,143,143)"/><rect x="493.90" y="132.64" width="7.40" height="7.41" fill="rgb(143,143,143)"/><rect x="500.70" y="132.64" width="7.40" height="7.41" fill="rgb(143,143,143)"/><rect x="507.50" y="132.64" width="7.40" height="7.41" fill="rgb(143,143,143)"/><rect x="296.70" y="139.46" width="7.40" height="7.41" fill="rgb(159,159,159)"/><rect x="303.50" y="139.46" width="7.40" height="7.41" fill="rgb(159,159,159)"/><rect x="310.30" y="139.46" width="7.40" height="7.41" fill="rgb(150,150,150)"/><rect x="317.10" y="139.46" width="7.40" height="7.41" fill="rgb(143,143,143)"/><rect x="323.90" y="139.46" width="7.40" height="7.41" fill="rgb(175,175,175)"/><rect x="330.70" y="139.46" width="7.40" height="7.41" fill="rgb(191,191,191)"/><rect x="337.50" y="139.46" width="7.40" height="7.41" fill="rgb(175,175,175)"/><rect x="344.30" y="139.46" width="7.40" height="7.41" fill="rgb(143,143,143)"/><rect x="351.10" y="139.46" width="7.40" height="7.41" fill="rgb(191,191,191)"/><rect x="357.90" y="139.46" width="7.40" height="7.41" fill="rgb(159,159,159)"/><rect x="364.70" y="139.46" width="7.40" height="7.41" fill="rgb(128,128,128)"/><rect x="371.50" y="139.46" width="7.40" height="7.41" fill="rgb(143,143,143)"/><rect x="378.30" y="139.46" width="7.40" height="7.41" fill="rgb(175,175,175)"/><rect x="385.10" y="139.46" width="7.40" height="7.41" fill="rgb(191,191,191)"/><rect x="391.90" y="139.46" width="7.40" height="7.41" fill="rgb(112,112,112)"/><rect x="398.70" y="139.46" width="7.40" height="7.41" fill="rgb(128,128,128)"/><rect x="405.50" y="139.46" width="7.40" height="7.41" fill="rgb(143,143,143)"/><rect x="412.30" y="139.46" width="7.40" height="7.41" fill="rgb(143,143,143)"/><rect x="419.10" y="139.46" width="7.40" height="7.41" fill="rgb(143,143,143)"/><rect x="425.90" y="139.46" width="7.40" height="7.41" fill="rgb(128,128,128)"/><rect x="432.70" y="139.46" width="7.40" height="7.41" fill="rgb(112,112,112)"/><rect x="439.50" y="139.46" width="7.40" height="7.41" fill="rgb(128,128,128)"/><rect x="446.30" y="139.46" width="7.40" height="7.41" fill="rgb(128,128,128)"/><rect x="453.10" y="139.46" width="7.40" height="7.41" fill="rgb(96,96,96)"/><rect x="459.90" y="139.46" width="7.40" height="7.41" fill="rgb(96,96,96)"/><rect x="466.70" y="139.46" width="7.40" height="7.41" fill="rgb(128,128,128)"/><rect x="473.50" y="139.46" width="7.40" height="7.41" fill="rgb(143,143,143)"/><rect x="480.30" y="139.46" width="7.40" height="7.41" fill="rgb(159,159,159)"/><rect x="487.10" y="139.46" width="7.40" height="7.41" fill="rgb(143,143,143)"/><rect x="493.90" y="139.46" width="7.40" height="7.41" fill="rgb(143,143,143)"/><rect x="500.70" y="139.46" width="7.40" height="7.41" fill="rgb(143,143,143)"/><rect x="507.50" y="139.46" width="7.40" height="7.41" fill="rgb(143,143,143)"/><rect x="296.70" y="146.27" width="7.40" height="7.41" fill="rgb(175,175,175)"/><rect x="303.50" y="146.27" width="7.40" height="7.41" fill="rgb(175,175,175)"/><rect x="310.30" y="146.27" width="7.40" height="7.41" fill="rgb(175,175,175)"/><rect x="317.10" y="146.27" width="7.40" height="7.41" fill="rgb(143,143,143)"/><rect x="323.90" y="146.27" width="7.40" height="7.41" fill="rgb(175,175,175)"/><rect x="330.70" y="146.27" width="7.40" height="7.41" fill="rgb(191,191,191)"/><rect x="337.50" y="146.27" width="7.40" height="7.41" fill="rgb(191,191,191)"/><rect x="344.30" y="146.27" width="7.40" height="7.41" fill="rgb(175,175,175)"/><rect x="351.10" y="146.27" width="7.40" height="7.41" fill="rgb(191,191,191)"/><rect x="357.90" y="146.27" width="7.40" height="7.41" fill="rgb(143,143,143)"/><rect x="364.70" y="146.27" width="7.40" height="7.41" fill="rgb(143,143,143)"/><rect x="371.50" y="146.27" width="7.40" height="7.41" fill="rgb(159,159,159)"/><rect x="378.30" y="146.27" width="7.40" height="7.41" fill="rgb(143,143,143)"/><rect x="385.10" y="146.27" width="7.40" height="7.41" fill="rgb(128,128,128)"/><rect x="391.90" y="146.27" width="7.40" height="7.41" fill="rgb(143,143,143)"/><rect x="398.70" y="146.27" width="7.40" height="7.41" fill="rgb(159,159,159)"/><rect x="405.50" y="146.27" width="7.40" height="7.41" fill="rgb(159,159,159)"/><rect x="412.30" y="146.27" width="7.40" height="7.41" fill="rgb(143,143,143)"/><rect x="419.10" y="146.27" width="7.40" height="7.41" fill="rgb(143,143,143)"/><rect x="425.90" y="146.27" width="7.40" height="7.41" fill="rgb(128,128,128)"/><rect x="432.70" y="146.27" width="7.40" height="7.41" fill="rgb(112,112,112)"/><rect x="439.50" y="146.27" width="7.40" height="7.41" fill="rgb(143,143,143)"/><rect x="446.30" y="146.27" width="7.40" height="7.41" fill="rgb(128,128,128)"/><rect x="453.10" y="146.27" width="7.40" height="7.41" fill="rgb(96,96,96)"/><rect x="459.90" y="146.27" width="7.40" height="7.41" fill="rgb(96,96,96)"/><rect x="466.70" y="146.27" width="7.40" height="7.41" fill="rgb(128,128,128)"/><rect x="473.50" y="146.27" width="7.40" height="7.41" fill="rgb(143,143,143)"/><rect x="480.30" y="146.27" width="7.40" height="7.41" fill="rgb(159,159,159)"/><rect x="487.10" y="146.27" width="7.40" height="7.41" fill="rgb(143,143,143)"/><rect x="493.90" y="146.27" width="7.40" height="7.41" fill="rgb(128,128,128)"/><rect x="500.70" y="146.27" width="7.40" height="7.41" fill="rgb(159,159,159)"/><rect x="507.50" y="146.27" width="7.40" height="7.41" fill="rgb(159,159,159)"/><rect x="296.70" y="153.09" width="7.40" height="7.41" fill="rgb(159,159,159)"/><rect x="303.50" y="153.09" width="7.40" height="7.41" fill="rgb(159,159,159)"/><rect x="310.30" y="153.09" width="7.40" height="7.41" fill="rgb(191,191,191)"/><rect x="317.10" y="153.09" width="7.40" height="7.41" fill="rgb(175,175,175)"/><rect x="323.90" y="153.09" width="7.40" height="7.41" fill="rgb(143,143,143)"/><rect x="330.70" y="153.09" width="7.40" height="7.41" fill="rgb(143,143,143)"/><rect x="337.50" y="153.09" width="7.40" height="7.41" fill="rgb(159,159,159)"/><rect x="344.30" y="153.09" width="7.40" height="7.41" fill="rgb(175,175,175)"/><rect x="351.10" y="153.09" width="7.40" height="7.41" fill="rgb(175,175,175)"/><rect x="357.90" y="153.09" width="7.40" height="7.41" fill="rgb(159,159,159)"/><rect x="364.70" y="153.09" width="7.40" height="7.41" fill="rgb(143,143,143)"/><rect x="371.50" y="153.09" width="7.40" height="7.41" fill="rgb(128,128,128)"/><rect x="378.30" y="153.09" width="7.40" height="7.41" fill="rgb(112,112,112)"/><rect x="385.10" y="153.09" width="7.40" height="7.41" fill="rgb(175,175,175)"/><rect x="391.90" y="153.09" width="7.40" height="7.41" fill="rgb(159,159,159)"/><rect x="398.70" y="153.09" width="7.40" height="7.41" fill="rgb(128,128,128)"/><rect x="405.50" y="153.09" width="7.40" height="7.41" fill="rgb(112,112,112)"/><rect x="412.30" y="153.09" width="7.40" height="7.41" fill="rgb(143,143,143)"/><rect x="419.10" y="153.09" width="7.40" height="7.41" fill="rgb(159,159,159)"/><rect x="425.90" y="153.09" width="7.40" height="7.41" fill="rgb(143,143,143)"/><rect x="432.70" y="153.09" width="7.40" height="7.41" fill="rgb(143,143,143)"/><rect x="439.50" y="153.09" width="7.40" height="7.41" fill="rgb(128,128,128)"/><rect x="446.30" y="153.09" width="7.40" height="7.41" fill="rgb(112,112,112)"/><rect x="453.10" y="153.09" width="7.40" height="7.41" fill="rgb(96,96,96)"/><rect x="459.90" y="153.09" width="7.40" height="7.41" fill="rgb(96,96,96)"/><rect x="466.70" y="153.09" width="7.40" height="7.41" fill="rgb(96,96,96)"/><rect x="473.50" y="153.09" width="7.40" height="7.41" fill="rgb(112,112,112)"/><rect x="480.30" y="153.09" width="7.40" height="7.41" fill="rgb(128,128,128)"/><rect x="487.10" y="153.09" width="7.40" height="7.41" fill="rgb(143,143,143)"/><rect x="493.90" y="153.09" width="7.40" height="7.41" fill="rgb(143,143,143)"/><rect x="500.70" y="153.09" width="7.40" height="7.41" fill="rgb(143,143,143)"/><rect x="507.50" y="153.09" width="7.40" height="7.41" fill="rgb(143,143,143)"/><rect x="296.70" y="159.90" width="7.40" height="7.41" fill="rgb(112,112,112)"/><rect x="303.50" y="159.90" width="7.40" height="7.41" fill="rgb(112,112,112)"/><rect x="310.30" y="159.90" width="7.40" height="7.41" fill="rgb(175,175,175)"/><rect x="317.10" y="159.90" width="7.40" height="7.41" fill="rgb(159,159,159)"/><rect x="323.90" y="159.90" width="7.40" height="7.41" fill="rgb(143,143,143)"/><rect x="330.70" y="159.90" width="7.40" height="7.41" fill="rgb(143,143,143)"/><rect x="337.50" y="159.90" width="7.40" height="7.41" fill="rgb(143,143,143)"/><rect x="344.30" y="159.90" width="7.40" height="7.41" fill="rgb(159,159,159)"/><rect x="351.10" y="159.90" width="7.40" height="7.41" fill="rgb(159,159,159)"/><rect x="357.90" y="159.90" width="7.40" height="7.41" fill="rgb(143,143,143)"/><rect x="364.70" y="159.90" width="7.40" height="7.41" fill="rgb(128,128,128)"/><rect x="371.50" y="159.90" width="7.40" height="7.41" fill="rgb(143,143,143)"/><rect x="378.30" y="159.90" width="7.40" height="7.41" fill="rgb(80,80,80)"/><rect x="385.10" y="159.90" width="7.40" height="7.41" fill="rgb(191,191,191)"/><rect x="391.90" y="159.90" width="7.40" height="7.41" fill="rgb(191,191,191)"/><rect x="398.70" y="159.90" width="7.40" height="7.41" fill="rgb(128,128,128)"/><rect x="405.50" y="159.90" width="7.40" height="7.41" fill="rgb(128,128,128)"/><rect x="412.30" y="159.90" width="7.40" height="7.41" fill="rgb(175,175,175)"/><rect x="419.10" y="159.90" width="7.40" height="7.41" fill="rgb(175,175,175)"/><rect x="425.90" y="159.90" width="7.40" height="7.41" fill="rgb(143,143,143)"/><rect x="432.70" y="159.90" width="7.40" height="7.41" fill="rgb(143,143,143)"/><rect x="439.50" y="159.90" width="7.40" height="7.41" fill="rgb(143,143,143)"/><rect x="446.30" y="159.90" width="7.40" height="7.41" fill="rgb(112,112,112)"/><rect x="453.10" y="159.90" width="7.40" height="7.41" fill="rgb(96,96,96)"/><rect x="459.90" y="159.90" width="7.40" height="7.41" fill="rgb(96,96,96)"/><rect x="466.70" y="159.90" width="7.40" height="7.41" fill="rgb(112,112,112)"/><rect x="473.50" y="159.90" width="7.40" height="7.41" fill="rgb(112,112,112)"/><rect x="480.30" y="159.90" width="7.40" height="7.41" fill="rgb(112,112,112)"/><rect x="487.10" y="159.90" width="7.40" height="7.41" fill="rgb(175,175,175)"/><rect x="493.90" y="159.90" width="7.40" height="7.41" fill="rgb(128,128,128)"/><rect x="500.70" y="159.90" width="7.40" height="7.41" fill="rgb(112,112,112)"/><rect x="507.50" y="159.90" width="7.40" height="7.41" fill="rgb(112,112,112)"/><rect x="296.70" y="166.71" width="7.40" height="7.41" fill="rgb(16,16,16)"/><rect x="303.50" y="166.71" width="7.40" height="7.41" fill="rgb(16,16,16)"/><rect x="310.30" y="166.71" width="7.40" height="7.41" fill="rgb(175,175,175)"/><rect x="317.10" y="166.71" width="7.40" height="7.41" fill="rgb(159,159,159)"/><rect x="323.90" y="166.71" width="7.40" height="7.41" fill="rgb(143,143,143)"/><rect x="330.70" y="166.71" width="7.40" height="7.41" fill="rgb(128,128,128)"/><rect x="337.50" y="166.71" width="7.40" height="7.41" fill="rgb(112,112,112)"/><rect x="344.30" y="166.71" width="7.40" height="7.41" fill="rgb(112,112,112)"/><rect x="351.10" y="166.71" width="7.40" height="7.41" fill="rgb(112,112,112)"/><rect x="357.90" y="166.71" width="7.40" height="7.41" fill="rgb(128,128,128)"/><rect x="364.70" y="166.71" width="7.40" height="7.41" fill="rgb(128,128,128)"/><rect x="371.50" y="166.71" width="7.40" height="7.41" fill="rgb(112,112,112)"/><rect x="378.30" y="166.71" width="7.40" height="7.41" fill="rgb(80,80,80)"/><rect x="385.10" y="166.71" width="7.40" height="7.41" fill="rgb(159,159,159)"/><rect x="391.90" y="166.71" width="7.40" height="7.41" fill="rgb(175,175,175)"/><rect x="398.70" y="166.71" width="7.40" height="7.41" fill="rgb(128,128,128)"/><rect x="405.50" y="166.71" width="7.40" height="7.41" fill="rgb(143,143,143)"/><rect x="412.30" y="166.71" width="7.40" height="7.41" fill="rgb(143,143,143)"/><rect x="419.10" y="166.71" width="7.40" height="7.41" fill="rgb(159,159,159)"/><rect x="425.90" y="166.71" width="7.40" height="7.41" fill="rgb(143,143,143)"/><rect x="432.70" y="166.71" width="7.40" height="7.41" fill="rgb(128,128,128)"/><rect x="439.50" y="166.71" width="7.40" height="7.41" fill="rgb(128,128,128)"/><rect x="446.30" y="166.71" width="7.40" height="7.41" fill="rgb(112,112,112)"/><rect x="453.10" y="166.71" width="7.40" height="7.41" fill="rgb(96,96,96)"/><rect x="459.90" y="166.71" width="7.40" height="7.41" fill="rgb(96,96,96)"/><rect x="466.70" y="166.71" width="7.40" height="7.41" fill="rgb(112,112,112)"/><rect x="473.50" y="166.71" width="7.40" height="7.41" fill="rgb(112,112,112)"/><rect x="480.30" y="166.71" width="7.40" height="7.41" fill="rgb(112,112,112)"/><rect x="487.10" y="166.71" width="7.40" height="7.41" fill="rgb(175,175,175)"/><rect x="493.90" y="166.71" width="7.40" height="7.41" fill="rgb(191,191,191)"/><rect x="500.70" y="166.71" width="7.40" height="7.41" fill="rgb(112,112,112)"/><rect x="507.50" y="166.71" width="7.40" height="7.41" fill="rgb(112,112,112)"/><rect x="296.70" y="173.53" width="7.40" height="7.41" fill="rgb(92,92,92)"/><rect x="303.50" y="173.53" width="7.40" height="7.41" fill="rgb(92,92,92)"/><rect x="310.30" y="173.53" width="7.40" height="7.41" fill="rgb(128,128,128)"/><rect x="317.10" y="173.53" width="7.40" height="7.41" fill="rgb(128,128,128)"/><rect x="323.90" y="173.53" width="7.40" height="7.41" fill="rgb(112,112,112)"/><rect x="330.70" y="173.53" width="7.40" height="7.41" fill="rgb(112,112,112)"/><rect x="337.50" y="173.53" width="7.40" height="7.41" fill="rgb(96,96,96)"/><rect x="344.30" y="173.53" width="7.40" height="7.41" fill="rgb(80,80,80)"/><rect x="351.10" y="173.53" width="7.40" height="7.41" fill="rgb(96,96,96)"/><rect x="357.90" y="173.53" width="7.40" height="7.41" fill="rgb(112,112,112)"/><rect x="364.70" y="173.53" width="7.40" height="7.41" fill="rgb(112,112,112)"/><rect x="371.50" y="173.53" width="7.40" height="7.41" fill="rgb(96,96,96)"/><rect x="378.30" y="173.53" width="7.40" height="7.41" fill="rgb(80,80,80)"/><rect x="385.10" y="173.53" width="7.40" height="7.41" fill="rgb(80,80,80)"/><rect x="391.90" y="173.53" width="7.40" height="7.41" fill="rgb(80,80,80)"/><rect x="398.70" y="173.53" width="7.40" height="7.41" fill="rgb(64,64,64)"/><rect x="405.50" y="173.53" width="7.40" height="7.41" fill="rgb(64,64,64)"/><rect x="412.30" y="173.53" width="7.40" height="7.41" fill="rgb(80,80,80)"/><rect x="419.10" y="173.53" width="7.40" height="7.41" fill="rgb(96,96,96)"/><rect x="425.90" y="173.53" width="7.40" height="7.41" fill="rgb(96,96,96)"/><rect x="432.70" y="173.53" width="7.40" height="7.41" fill="rgb(96,96,96)"/><rect x="439.50" y="173.53" width="7.40" height="7.41" fill="rgb(96,96,96)"/><rect x="446.30" y="173.53" width="7.40" height="7.41" fill="rgb(143,143,143)"/><rect x="453.10" y="173.53" width="7.40" height="7.41" fill="rgb(143,143,143)"/><rect x="459.90" y="173.53" width="7.40" height="7.41" fill="rgb(112,112,112)"/><rect x="466.70" y="173.53" width="7.40" height="7.41" fill="rgb(112,112,112)"/><rect x="473.50" y="173.53" width="7.40" height="7.41" fill="rgb(112,112,112)"/><rect x="480.30" y="173.53" width="7.40" height="7.41" fill="rgb(112,112,112)"/><rect x="487.10" y="173.53" width="7.40" height="7.41" fill="rgb(128,128,128)"/><rect x="493.90" y="173.53" width="7.40" height="7.41" fill="rgb(159,159,159)"/><rect x="500.70" y="173.53" width="7.40" height="7.41" fill="rgb(112,112,112)"/><rect x="507.50" y="173.53" width="7.40" height="7.41" fill="rgb(112,112,112)"/><rect x="296.70" y="180.34" width="7.40" height="7.41" fill="rgb(90,90,90)"/><rect x="303.50" y="180.34" width="7.40" height="7.41" fill="rgb(90,90,90)"/><rect x="310.30" y="180.34" width="7.40" height="7.41" fill="rgb(48,48,48)"/><rect x="317.10" y="180.34" width="7.40" height="7.41" fill="rgb(64,64,64)"/><rect x="323.90" y="180.34" width="7.40" height="7.41" fill="rgb(96,96,96)"/><rect x="330.70" y="180.34" width="7.40" height="7.41" fill="rgb(112,112,112)"/><rect x="337.50" y="180.34" width="7.40" height="7.41" fill="rgb(96,96,96)"/><rect x="344.30" y="180.34" width="7.40" height="7.41" fill="rgb(96,96,96)"/><rect x="351.10" y="180.34" width="7.40" height="7.41" fill="rgb(112,112,112)"/><rect x="357.90" y="180.34" width="7.40" height="7.41" fill="rgb(128,128,128)"/><rect x="364.70" y="180.34" width="7.40" height="7.41" fill="rgb(128,128,128)"/><rect x="371.50" y="180.34" width="7.40" height="7.41" fill="rgb(96,96,96)"/><rect x="378.30" y="180.34" width="7.40" height="7.41" fill="rgb(64,64,64)"/><rect x="385.10" y="180.34" width="7.40" height="7.41" fill="rgb(48,48,48)"/><rect x="391.90" y="180.34" width="7.40" height="7.41" fill="rgb(16,16,16)"/><rect x="398.70" y="180.34" width="7.40" height="7.41" fill="rgb(50,50,50)"/><rect x="405.50" y="180.34" width="7.40" height="7.41" fill="rgb(59,59,59)"/><rect x="412.30" y="180.34" width="7.40" height="7.41" fill="rgb(32,32,32)"/><rect x="419.10" y="180.34" width="7.40" height="7.41" fill="rgb(64,64,64)"/><rect x="425.90" y="180.34" width="7.40" height="7.41" fill="rgb(64,64,64)"/><rect x="432.70" y="180.34" width="7.40" height="7.41" fill="rgb(80,80,80)"/><rect x="439.50" y="180.34" width="7.40" height="7.41" fill="rgb(64,64,64)"/><rect x="446.30" y="180.34" width="7.40" height="7.41" fill="rgb(159,159,159)"/><rect x="453.10" y="180.34" width="7.40" height="7.41" fill="rgb(143,143,143)"/><rect x="459.90" y="180.34" width="7.40" height="7.41" fill="rgb(112,112,112)"/><rect x="466.70" y="180.34" width="7.40" height="7.41" fill="rgb(112,112,112)"/><rect x="473.50" y="180.34" width="7.40" height="7.41" fill="rgb(143,143,143)"/><rect x="480.30" y="180.34" width="7.40" height="7.41" fill="rgb(143,143,143)"/><rect x="487.10" y="180.34" width="7.40" height="7.41" fill="rgb(112,112,112)"/><rect x="493.90" y="180.34" width="7.40" height="7.41" fill="rgb(112,112,112)"/><rect x="500.70" y="180.34" width="7.40" height="7.41" fill="rgb(96,96,96)"/><rect x="507.50" y="180.34" width="7.40" height="7.41" fill="rgb(96,96,96)"/><rect x="296.70" y="187.16" width="7.40" height="7.41" fill="rgb(112,112,112)"/><rect x="303.50" y="187.16" width="7.40" height="7.41" fill="rgb(112,112,112)"/><rect x="310.30" y="187.16" width="7.40" height="7.41" fill="rgb(96,96,96)"/><rect x="317.10" y="187.16" width="7.40" height="7.41" fill="rgb(128,128,128)"/><rect x="323.90" y="187.16" width="7.40" height="7.41" fill="rgb(143,143,143)"/><rect x="330.70" y="187.16" width="7.40" height="7.41" fill="rgb(143,143,143)"/><rect x="337.50" y="187.16" width="7.40" height="7.41" fill="rgb(143,143,143)"/><rect x="344.30" y="187.16" width="7.40" height="7.41" fill="rgb(143,143,143)"/><rect x="351.10" y="187.16" width="7.40" height="7.41" fill="rgb(143,143,143)"/><rect x="357.90" y="187.16" width="7.40" height="7.41" fill="rgb(143,143,143)"/><rect x="364.70" y="187.16" width="7.40" height="7.41" fill="rgb(128,128,128)"/><rect x="371.50" y="187.16" width="7.40" height="7.41" fill="rgb(96,96,96)"/><rect x="378.30" y="187.16" width="7.40" height="7.41" fill="rgb(80,80,80)"/><rect x="385.10" y="187.16" width="7.40" height="7.41" fill="rgb(64,64,64)"/><rect x="391.90" y="187.16" width="7.40" height="7.41" fill="rgb(16,16,16)"/><rect x="398.70" y="187.16" width="7.40" height="7.41" fill="rgb(48,48,48)"/><rect x="405.50" y="187.16" width="7.40" height="7.41" fill="rgb(64,64,64)"/><rect x="412.30" y="187.16" width="7.40" height="7.41" fill="rgb(64,64,64)"/><rect x="419.10" y="187.16" width="7.40" height="7.41" fill="rgb(48,48,48)"/><rect x="425.90" y="187.16" width="7.40" height="7.41" fill="rgb(64,64,64)"/><rect x="432.70" y="187.16" width="7.40" height="7.41" fill="rgb(80,80,80)"/><rect x="439.50" y="187.16" width="7.40" height="7.41" fill="rgb(96,96,96)"/><rect x="446.30" y="187.16" width="7.40" height="7.41" fill="rgb(143,143,143)"/><rect x="453.10" y="187.16" width="7.40" height="7.41" fill="rgb(143,143,143)"/><rect x="459.90" y="187.16" width="7.40" height="7.41" fill="rgb(96,96,96)"/><rect x="466.70" y="187.16" width="7.40" height="7.41" fill="rgb(112,112,112)"/><rect x="473.50" y="187.16" width="7.40" height="7.41" fill="rgb(159,159,159)"/><rect x="480.30" y="187.16" width="7.40" height="7.41" fill="rgb(159,159,159)"/><rect x="487.10" y="187.16" width="7.40" height="7.41" fill="rgb(143,143,143)"/><rect x="493.90" y="187.16" width="7.40" height="7.41" fill="rgb(128,128,128)"/><rect x="500.70" y="187.16" width="7.40" height="7.41" fill="rgb(16,16,16)"/><rect x="507.50" y="187.16" width="7.40" height="7.41" fill="rgb(16,16,16)"/><rect x="296.70" y="193.97" width="7.40" height="7.41" fill="rgb(143,143,143)"/><rect x="303.50" y="193.97" width="7.40" height="7.41" fill="rgb(143,143,143)"/><rect x="310.30" y="193.97" width="7.40" height="7.41" fill="rgb(159,159,159)"/><rect x="317.10" y="193.97" width="7.40" height="7.41" fill="rgb(159,159,159)"/><rect x="323.90" y="193.97" width="7.40" height="7.41" fill="rgb(143,143,143)"/><rect x="330.70" y="193.97" width="7.40" height="7.41" fill="rgb(159,159,159)"/><rect x="337.50" y="193.97" width="7.40" height="7.41" fill="rgb(159,159,159)"/><rect x="344.30" y="193.97" width="7.40" height="7.41" fill="rgb(143,143,143)"/><rect x="351.10" y="193.97" width="7.40" height="7.41" fill="rgb(159,159,159)"/><rect x="357.90" y="193.97" width="7.40" height="7.41" fill="rgb(143,143,143)"/><rect x="364.70" y="193.97" width="7.40" height="7.41" fill="rgb(143,143,143)"/><rect x="371.50" y="193.97" width="7.40" height="7.41" fill="rgb(112,112,112)"/><rect x="378.30" y="193.97" width="7.40" height="7.41" fill="rgb(96,96,96)"/><rect x="385.10" y="193.97" width="7.40" height="7.41" fill="rgb(80,80,80)"/><rect x="391.90" y="193.97" width="7.40" height="7.41" fill="rgb(16,16,16)"/><rect x="398.70" y="193.97" width="7.40" height="7.41" fill="rgb(64,64,64)"/><rect x="405.50" y="193.97" width="7.40" height="7.41" fill="rgb(80,80,80)"/><rect x="412.30" y="193.97" width="7.40" height="7.41" fill="rgb(80,80,80)"/><rect x="419.10" y="193.97" width="7.40" height="7.41" fill="rgb(80,80,80)"/><rect x="425.90" y="193.97" width="7.40" height="7.41" fill="rgb(96,96,96)"/><rect x="432.70" y="193.97" width="7.40" height="7.41" fill="rgb(96,96,96)"/><rect x="439.50" y="193.97" width="7.40" height="7.41" fill="rgb(112,112,112)"/><rect x="446.30" y="193.97" width="7.40" height="7.41" fill="rgb(143,143,143)"/><rect x="453.10" y="193.97" width="7.40" height="7.41" fill="rgb(128,128,128)"/><rect x="459.90" y="193.97" width="7.40" height="7.41" fill="rgb(64,64,64)"/><rect x="466.70" y="193.97" width="7.40" height="7.41" fill="rgb(80,80,80)"/><rect x="473.50" y="193.97" width="7.40" height="7.41" fill="rgb(128,128,128)"/><rect x="480.30" y="193.97" width="7.40" height="7.41" fill="rgb(159,159,159)"/><rect x="487.10" y="193.97" width="7.40" height="7.41" fill="rgb(159,159,159)"/><rect x="493.90" y="193.97" width="7.40" height="7.41" fill="rgb(143,143,143)"/><rect x="500.70" y="193.97" width="7.40" height="7.41" fill="rgb(16,16,16)"/><rect x="507.50" y="193.97" width="7.40" height="7.41" fill="rgb(16,16,16)"/><rect x="296.70" y="200.79" width="7.40" height="7.41" fill="rgb(143,143,143)"/><rect x="303.50" y="200.79" width="7.40" height="7.41" fill="rgb(143,143,143)"/><rect x="310.30" y="200.79" width="7.40" height="7.41" fill="rgb(159,159,159)"/><rect x="317.10" y="200.79" width="7.40" height="7.41" fill="rgb(159,159,159)"/><rect x="323.90" y="200.79" width="7.40" height="7.41" fill="rgb(143,143,143)"/><rect x="330.70" y="200.79" width="7.40" height="7.41" fill="rgb(143,143,143)"/><rect x="337.50" y="200.79" width="7.40" height="7.41" fill="rgb(143,143,143)"/><rect x="344.30" y="200.79" width="7.40" height="7.41" fill="rgb(143,143,143)"/><rect x="351.10" y="200.79" width="7.40" height="7.41" fill="rgb(143,143,143)"/><rect x="357.90" y="200.79" width="7.40" height="7.41" fill="rgb(128,128,128)"/><rect x="364.70" y="200.79" width="7.40" height="7.41" fill="rgb(128,128,128)"/><rect x="371.50" y="200.79" width="7.40" height="7.41" fill="rgb(128,128,128)"/><rect x="378.30" y="200.79" width="7.40" height="7.41" fill="rgb(112,112,112)"/><rect x="385.10" y="200.79" width="7.40" height="7.41" fill="rgb(96,96,96)"/><rect x="391.90" y="200.79" width="7.40" height="7.41" fill="rgb(80,80,80)"/><rect x="398.70" y="200.79" width="7.40" height="7.41" fill="rgb(96,96,96)"/><rect x="405.50" y="200.79" width="7.40" height="7.41" fill="rgb(96,96,96)"/><rect x="412.30" y="200.79" width="7.40" height="7.41" fill="rgb(96,96,96)"/><rect x="419.10" y="200.79" width="7.40" height="7.41" fill="rgb(96,96,96)"/><rect x="425.90" y="200.79" width="7.40" height="7.41" fill="rgb(96,96,96)"/><rect x="432.70" y="200.79" width="7.40" height="7.41" fill="rgb(112,112,112)"/><rect x="439.50" y="200.79" width="7.40" height="7.41" fill="rgb(112,112,112)"/><rect x="446.30" y="200.79" width="7.40" height="7.41" fill="rgb(112,112,112)"/><rect x="453.10" y="200.79" width="7.40" height="7.41" fill="rgb(96,96,96)"/><rect x="459.90" y="200.79" width="7.40" height="7.41" fill="rgb(64,64,64)"/><rect x="466.70" y="200.79" width="7.40" height="7.41" fill="rgb(80,80,80)"/><rect x="473.50" y="200.79" width="7.40" height="7.41" fill="rgb(96,96,96)"/><rect x="480.30" y="200.79" width="7.40" height="7.41" fill="rgb(112,112,112)"/><rect x="487.10" y="200.79" width="7.40" height="7.41" fill="rgb(128,128,128)"/><rect x="493.90" y="200.79" width="7.40" height="7.41" fill="rgb(128,128,128)"/><rect x="500.70" y="200.79" width="7.40" height="7.41" fill="rgb(96,96,96)"/><rect x="507.50" y="200.79" width="7.40" height="7.41" fill="rgb(96,96,96)"/><rect x="296.70" y="207.60" width="7.40" height="7.41" fill="rgb(143,143,143)"/><rect x="303.50" y="207.60" width="7.40" height="7.41" fill="rgb(143,143,143)"/><rect x="310.30" y="207.60" width="7.40" height="7.41" fill="rgb(159,159,159)"/><rect x="317.10" y="207.60" width="7.40" height="7.41" fill="rgb(159,159,159)"/><rect x="323.90" y="207.60" width="7.40" height="7.41" fill="rgb(143,143,143)"/><rect x="330.70" y="207.60" width="7.40" height="7.41" fill="rgb(143,143,143)"/><rect x="337.50" y="207.60" width="7.40" height="7.41" fill="rgb(143,143,143)"/><rect x="344.30" y="207.60" width="7.40" height="7.41" fill="rgb(143,143,143)"/><rect x="351.10" y="207.60" width="7.40" height="7.41" fill="rgb(143,143,143)"/><rect x="357.90" y="207.60" width="7.40" height="7.41" fill="rgb(128,128,128)"/><rect x="364.70" y="207.60" width="7.40" height="7.41" fill="rgb(128,128,128)"/><rect x="371.50" y="207.60" width="7.40" height="7.41" fill="rgb(128,128,128)"/><rect x="378.30" y="207.60" width="7.40" height="7.41" fill="rgb(112,112,112)"/><rect x="385.10" y="207.60" width="7.40" height="7.41" fill="rgb(96,96,96)"/><rect x="391.90" y="207.60" width="7.40" height="7.41" fill="rgb(80,80,80)"/><rect x="398.70" y="207.60" width="7.40" height="7.41" fill="rgb(96,96,96)"/><rect x="405.50" y="207.60" width="7.40" height="7.41" fill="rgb(96,96,96)"/><rect x="412.30" y="207.60" width="7.40" height="7.41" fill="rgb(96,96,96)"/><rect x="419.10" y="207.60" width="7.40" height="7.41" fill="rgb(96,96,96)"/><rect x="425.90" y="207.60" width="7.40" height="7.41" fill="rgb(96,96,96)"/><rect x="432.70" y="207.60" width="7.40" height="7.41" fill="rgb(112,112,112)"/><rect x="439.50" y="207.60" width="7.40" height="7.41" fill="rgb(112,112,112)"/><rect x="446.30" y="207.60" width="7.40" height="7.41" fill="rgb(112,112,112)"/><rect x="453.10" y="207.60" width="7.40" height="7.41" fill="rgb(96,96,96)"/><rect x="459.90" y="207.60" width="7.40" height="7.41" fill="rgb(64,64,64)"/><rect x="466.70" y="207.60" width="7.40" height="7.41" fill="rgb(80,80,80)"/><rect x="473.50" y="207.60" width="7.40" height="7.41" fill="rgb(96,96,96)"/><rect x="480.30" y="207.60" width="7.40" height="7.41" fill="rgb(112,112,112)"/><rect x="487.10" y="207.60" width="7.40" height="7.41" fill="rgb(128,128,128)"/><rect x="493.90" y="207.60" width="7.40" height="7.41" fill="rgb(128,128,128)"/><rect x="500.70" y="207.60" width="7.40" height="7.41" fill="rgb(96,96,96)"/><rect x="507.50" y="207.60" width="7.40" height="7.41" fill="rgb(96,96,96)"/></g></g></g><rect x="303.5" y="203.9" width="204" height="3.7" fill="rgb(0,0,143)"/>
<g clip-path="url(#Lclip)"><g mask="url(#Lmask)"><g filter="url(#Lf)"><rect x="28.00" y="16.00" width="6.60" height="6.60" fill="rgb(112,112,112)"/><rect x="34.00" y="16.00" width="6.60" height="6.60" fill="rgb(112,112,112)"/><rect x="40.00" y="16.00" width="6.60" height="6.60" fill="rgb(112,112,112)"/><rect x="46.00" y="16.00" width="6.60" height="6.60" fill="rgb(112,112,112)"/><rect x="52.00" y="16.00" width="6.60" height="6.60" fill="rgb(112,112,112)"/><rect x="58.00" y="16.00" width="6.60" height="6.60" fill="rgb(112,112,112)"/><rect x="64.00" y="16.00" width="6.60" height="6.60" fill="rgb(112,112,112)"/><rect x="70.00" y="16.00" width="6.60" height="6.60" fill="rgb(112,112,112)"/><rect x="76.00" y="16.00" width="6.60" height="6.60" fill="rgb(112,112,112)"/><rect x="82.00" y="16.00" width="6.60" height="6.60" fill="rgb(112,112,112)"/><rect x="88.00" y="16.00" width="6.60" height="6.60" fill="rgb(112,112,112)"/><rect x="94.00" y="16.00" width="6.60" height="6.60" fill="rgb(112,112,112)"/><rect x="100.00" y="16.00" width="6.60" height="6.60" fill="rgb(111,111,111)"/><rect x="106.00" y="16.00" width="6.60" height="6.60" fill="rgb(110,110,110)"/><rect x="112.00" y="16.00" width="6.60" height="6.60" fill="rgb(112,112,112)"/><rect x="118.00" y="16.00" width="6.60" height="6.60" fill="rgb(112,112,112)"/><rect x="124.00" y="16.00" width="6.60" height="6.60" fill="rgb(112,112,112)"/><rect x="130.00" y="16.00" width="6.60" height="6.60" fill="rgb(112,112,112)"/><rect x="136.00" y="16.00" width="6.60" height="6.60" fill="rgb(112,112,112)"/><rect x="142.00" y="16.00" width="6.60" height="6.60" fill="rgb(112,112,112)"/><rect x="148.00" y="16.00" width="6.60" height="6.60" fill="rgb(112,112,112)"/><rect x="154.00" y="16.00" width="6.60" height="6.60" fill="rgb(122,122,122)"/><rect x="160.00" y="16.00" width="6.60" height="6.60" fill="rgb(128,128,128)"/><rect x="166.00" y="16.00" width="6.60" height="6.60" fill="rgb(128,128,128)"/><rect x="172.00" y="16.00" width="6.60" height="6.60" fill="rgb(128,128,128)"/><rect x="178.00" y="16.00" width="6.60" height="6.60" fill="rgb(128,128,128)"/><rect x="184.00" y="16.00" width="6.60" height="6.60" fill="rgb(129,129,129)"/><rect x="190.00" y="16.00" width="6.60" height="6.60" fill="rgb(130,130,130)"/><rect x="196.00" y="16.00" width="6.60" height="6.60" fill="rgb(130,130,130)"/><rect x="202.00" y="16.00" width="6.60" height="6.60" fill="rgb(131,131,131)"/><rect x="208.00" y="16.00" width="6.60" height="6.60" fill="rgb(136,136,136)"/><rect x="214.00" y="16.00" width="6.60" height="6.60" fill="rgb(136,136,136)"/><rect x="28.00" y="22.00" width="6.60" height="6.60" fill="rgb(112,112,112)"/><rect x="34.00" y="22.00" width="6.60" height="6.60" fill="rgb(112,112,112)"/><rect x="40.00" y="22.00" width="6.60" height="6.60" fill="rgb(112,112,112)"/><rect x="46.00" y="22.00" width="6.60" height="6.60" fill="rgb(112,112,112)"/><rect x="52.00" y="22.00" width="6.60" height="6.60" fill="rgb(112,112,112)"/><rect x="58.00" y="22.00" width="6.60" height="6.60" fill="rgb(112,112,112)"/><rect x="64.00" y="22.00" width="6.60" height="6.60" fill="rgb(112,112,112)"/><rect x="70.00" y="22.00" width="6.60" height="6.60" fill="rgb(112,112,112)"/><rect x="76.00" y="22.00" width="6.60" height="6.60" fill="rgb(112,112,112)"/><rect x="82.00" y="22.00" width="6.60" height="6.60" fill="rgb(112,112,112)"/><rect x="88.00" y="22.00" width="6.60" height="6.60" fill="rgb(112,112,112)"/><rect x="94.00" y="22.00" width="6.60" height="6.60" fill="rgb(112,112,112)"/><rect x="100.00" y="22.00" width="6.60" height="6.60" fill="rgb(111,111,111)"/><rect x="106.00" y="22.00" width="6.60" height="6.60" fill="rgb(110,110,110)"/><rect x="112.00" y="22.00" width="6.60" height="6.60" fill="rgb(112,112,112)"/><rect x="118.00" y="22.00" width="6.60" height="6.60" fill="rgb(112,112,112)"/><rect x="124.00" y="22.00" width="6.60" height="6.60" fill="rgb(112,112,112)"/><rect x="130.00" y="22.00" width="6.60" height="6.60" fill="rgb(112,112,112)"/><rect x="136.00" y="22.00" width="6.60" height="6.60" fill="rgb(112,112,112)"/><rect x="142.00" y="22.00" width="6.60" height="6.60" fill="rgb(112,112,112)"/><rect x="148.00" y="22.00" width="6.60" height="6.60" fill="rgb(112,112,112)"/><rect x="154.00" y="22.00" width="6.60" height="6.60" fill="rgb(122,122,122)"/><rect x="160.00" y="22.00" width="6.60" height="6.60" fill="rgb(128,128,128)"/><rect x="166.00" y="22.00" width="6.60" height="6.60" fill="rgb(128,128,128)"/><rect x="172.00" y="22.00" width="6.60" height="6.60" fill="rgb(128,128,128)"/><rect x="178.00" y="22.00" width="6.60" height="6.60" fill="rgb(128,128,128)"/><rect x="184.00" y="22.00" width="6.60" height="6.60" fill="rgb(129,129,129)"/><rect x="190.00" y="22.00" width="6.60" height="6.60" fill="rgb(130,130,130)"/><rect x="196.00" y="22.00" width="6.60" height="6.60" fill="rgb(130,130,130)"/><rect x="202.00" y="22.00" width="6.60" height="6.60" fill="rgb(131,131,131)"/><rect x="208.00" y="22.00" width="6.60" height="6.60" fill="rgb(136,136,136)"/><rect x="214.00" y="22.00" width="6.60" height="6.60" fill="rgb(136,136,136)"/><rect x="28.00" y="28.00" width="6.60" height="6.60" fill="rgb(112,112,112)"/><rect x="34.00" y="28.00" width="6.60" height="6.60" fill="rgb(112,112,112)"/><rect x="40.00" y="28.00" width="6.60" height="6.60" fill="rgb(112,112,112)"/><rect x="46.00" y="28.00" width="6.60" height="6.60" fill="rgb(112,112,112)"/><rect x="52.00" y="28.00" width="6.60" height="6.60" fill="rgb(112,112,112)"/><rect x="58.00" y="28.00" width="6.60" height="6.60" fill="rgb(112,112,112)"/><rect x="64.00" y="28.00" width="6.60" height="6.60" fill="rgb(112,112,112)"/><rect x="70.00" y="28.00" width="6.60" height="6.60" fill="rgb(112,112,112)"/><rect x="76.00" y="28.00" width="6.60" height="6.60" fill="rgb(112,112,112)"/><rect x="82.00" y="28.00" width="6.60" height="6.60" fill="rgb(112,112,112)"/><rect x="88.00" y="28.00" width="6.60" height="6.60" fill="rgb(112,112,112)"/><rect x="94.00" y="28.00" width="6.60" height="6.60" fill="rgb(112,112,112)"/><rect x="100.00" y="28.00" width="6.60" height="6.60" fill="rgb(112,112,112)"/><rect x="106.00" y="28.00" width="6.60" height="6.60" fill="rgb(110,110,110)"/><rect x="112.00" y="28.00" width="6.60" height="6.60" fill="rgb(109,109,109)"/><rect x="118.00" y="28.00" width="6.60" height="6.60" fill="rgb(112,112,112)"/><rect x="124.00" y="28.00" width="6.60" height="6.60" fill="rgb(112,112,112)"/><rect x="130.00" y="28.00" width="6.60" height="6.60" fill="rgb(112,112,112)"/><rect x="136.00" y="28.00" width="6.60" height="6.60" fill="rgb(112,112,112)"/><rect x="142.00" y="28.00" width="6.60" height="6.60" fill="rgb(112,112,112)"/><rect x="148.00" y="28.00" width="6.60" height="6.60" fill="rgb(120,120,120)"/><rect x="154.00" y="28.00" width="6.60" height="6.60" fill="rgb(128,128,128)"/><rect x="160.00" y="28.00" width="6.60" height="6.60" fill="rgb(128,128,128)"/><rect x="166.00" y="28.00" width="6.60" height="6.60" fill="rgb(128,128,128)"/><rect x="172.00" y="28.00" width="6.60" height="6.60" fill="rgb(129,129,129)"/><rect x="178.00" y="28.00" width="6.60" height="6.60" fill="rgb(129,129,129)"/><rect x="184.00" y="28.00" width="6.60" height="6.60" fill="rgb(130,130,130)"/><rect x="190.00" y="28.00" width="6.60" height="6.60" fill="rgb(131,131,131)"/><rect x="196.00" y="28.00" width="6.60" height="6.60" fill="rgb(131,131,131)"/><rect x="202.00" y="28.00" width="6.60" height="6.60" fill="rgb(135,135,135)"/><rect x="208.00" y="28.00" width="6.60" height="6.60" fill="rgb(143,143,143)"/><rect x="214.00" y="28.00" width="6.60" height="6.60" fill="rgb(143,143,143)"/><rect x="28.00" y="34.00" width="6.60" height="6.60" fill="rgb(112,112,112)"/><rect x="34.00" y="34.00" width="6.60" height="6.60" fill="rgb(112,112,112)"/><rect x="40.00" y="34.00" width="6.60" height="6.60" fill="rgb(112,112,112)"/><rect x="46.00" y="34.00" width="6.60" height="6.60" fill="rgb(112,112,112)"/><rect x="52.00" y="34.00" width="6.60" height="6.60" fill="rgb(112,112,112)"/><rect x="58.00" y="34.00" width="6.60" height="6.60" fill="rgb(112,112,112)"/><rect x="64.00" y="34.00" width="6.60" height="6.60" fill="rgb(112,112,112)"/><rect x="70.00" y="34.00" width="6.60" height="6.60" fill="rgb(112,112,112)"/><rect x="76.00" y="34.00" width="6.60" height="6.60" fill="rgb(112,112,112)"/><rect x="82.00" y="34.00" width="6.60" height="6.60" fill="rgb(112,112,112)"/><rect x="88.00" y="34.00" width="6.60" height="6.60" fill="rgb(112,112,112)"/><rect x="94.00" y="34.00" width="6.60" height="6.60" fill="rgb(112,112,112)"/><rect x="100.00" y="34.00" width="6.60" height="6.60" fill="rgb(112,112,112)"/><rect x="106.00" y="34.00" width="6.60" height="6.60" fill="rgb(112,112,112)"/><rect x="112.00" y="34.00" width="6.60" height="6.60" fill="rgb(108,108,108)"/><rect x="118.00" y="34.00" width="6.60" height="6.60" fill="rgb(104,104,104)"/><rect x="124.00" y="34.00" width="6.60" height="6.60" fill="rgb(106,106,106)"/><rect x="130.00" y="34.00" width="6.60" height="6.60" fill="rgb(106,106,106)"/><rect x="136.00" y="34.00" width="6.60" height="6.60" fill="rgb(112,112,112)"/><rect x="142.00" y="34.00" width="6.60" height="6.60" fill="rgb(121,121,121)"/><rect x="148.00" y="34.00" width="6.60" height="6.60" fill="rgb(128,128,128)"/><rect x="154.00" y="34.00" width="6.60" height="6.60" fill="rgb(128,128,128)"/><rect x="160.00" y="34.00" width="6.60" height="6.60" fill="rgb(128,128,128)"/><rect x="166.00" y="34.00" width="6.60" height="6.60" fill="rgb(131,131,131)"/><rect x="172.00" y="34.00" width="6.60" height="6.60" fill="rgb(131,131,131)"/><rect x="178.00" y="34.00" width="6.60" height="6.60" fill="rgb(132,132,132)"/><rect x="184.00" y="34.00" width="6.60" height="6.60" fill="rgb(133,133,133)"/><rect x="190.00" y="34.00" width="6.60" height="6.60" fill="rgb(133,133,133)"/><rect x="196.00" y="34.00" width="6.60" height="6.60" fill="rgb(137,137,137)"/><rect x="202.00" y="34.00" width="6.60" height="6.60" fill="rgb(143,143,143)"/><rect x="208.00" y="34.00" width="6.60" height="6.60" fill="rgb(143,143,143)"/><rect x="214.00" y="34.00" width="6.60" height="6.60" fill="rgb(143,143,143)"/><rect x="28.00" y="40.00" width="6.60" height="6.60" fill="rgb(112,112,112)"/><rect x="34.00" y="40.00" width="6.60" height="6.60" fill="rgb(112,112,112)"/><rect x="40.00" y="40.00" width="6.60" height="6.60" fill="rgb(112,112,112)"/><rect x="46.00" y="40.00" width="6.60" height="6.60" fill="rgb(112,112,112)"/><rect x="52.00" y="40.00" width="6.60" height="6.60" fill="rgb(112,112,112)"/><rect x="58.00" y="40.00" width="6.60" height="6.60" fill="rgb(112,112,112)"/><rect x="64.00" y="40.00" width="6.60" height="6.60" fill="rgb(112,112,112)"/><rect x="70.00" y="40.00" width="6.60" height="6.60" fill="rgb(112,112,112)"/><rect x="76.00" y="40.00" width="6.60" height="6.60" fill="rgb(112,112,112)"/><rect x="82.00" y="40.00" width="6.60" height="6.60" fill="rgb(112,112,112)"/><rect x="88.00" y="40.00" width="6.60" height="6.60" fill="rgb(112,112,112)"/><rect x="94.00" y="40.00" width="6.60" height="6.60" fill="rgb(112,112,112)"/><rect x="100.00" y="40.00" width="6.60" height="6.60" fill="rgb(112,112,112)"/><rect x="106.00" y="40.00" width="6.60" height="6.60" fill="rgb(115,115,115)"/><rect x="112.00" y="40.00" width="6.60" height="6.60" fill="rgb(112,112,112)"/><rect x="118.00" y="40.00" width="6.60" height="6.60" fill="rgb(104,104,104)"/><rect x="124.00" y="40.00" width="6.60" height="6.60" fill="rgb(96,96,96)"/><rect x="130.00" y="40.00" width="6.60" height="6.60" fill="rgb(117,117,117)"/><rect x="136.00" y="40.00" width="6.60" height="6.60" fill="rgb(128,128,128)"/><rect x="142.00" y="40.00" width="6.60" height="6.60" fill="rgb(128,128,128)"/><rect x="148.00" y="40.00" width="6.60" height="6.60" fill="rgb(128,128,128)"/><rect x="154.00" y="40.00" width="6.60" height="6.60" fill="rgb(128,128,128)"/><rect x="160.00" y="40.00" width="6.60" height="6.60" fill="rgb(135,135,135)"/><rect x="166.00" y="40.00" width="6.60" height="6.60" fill="rgb(135,135,135)"/><rect x="172.00" y="40.00" width="6.60" height="6.60" fill="rgb(137,137,137)"/><rect x="178.00" y="40.00" width="6.60" height="6.60" fill="rgb(137,137,137)"/><rect x="184.00" y="40.00" width="6.60" height="6.60" fill="rgb(137,137,137)"/><rect x="190.00" y="40.00" width="6.60" height="6.60" fill="rgb(139,139,139)"/><rect x="196.00" y="40.00" width="6.60" height="6.60" fill="rgb(143,143,143)"/><rect x="202.00" y="40.00" width="6.60" height="6.60" fill="rgb(143,143,143)"/><rect x="208.00" y="40.00" width="6.60" height="6.60" fill="rgb(143,143,143)"/><rect x="214.00" y="40.00" width="6.60" height="6.60" fill="rgb(143,143,143)"/><rect x="28.00" y="46.00" width="6.60" height="6.60" fill="rgb(112,112,112)"/><rect x="34.00" y="46.00" width="6.60" height="6.60" fill="rgb(112,112,112)"/><rect x="40.00" y="46.00" width="6.60" height="6.60" fill="rgb(112,112,112)"/><rect x="46.00" y="46.00" width="6.60" height="6.60" fill="rgb(112,112,112)"/><rect x="52.00" y="46.00" width="6.60" height="6.60" fill="rgb(112,112,112)"/><rect x="58.00" y="46.00" width="6.60" height="6.60" fill="rgb(112,112,112)"/><rect x="64.00" y="46.00" width="6.60" height="6.60" fill="rgb(112,112,112)"/><rect x="70.00" y="46.00" width="6.60" height="6.60" fill="rgb(112,112,112)"/><rect x="76.00" y="46.00" width="6.60" height="6.60" fill="rgb(112,112,112)"/><rect x="82.00" y="46.00" width="6.60" height="6.60" fill="rgb(112,112,112)"/><rect x="88.00" y="46.00" width="6.60" height="6.60" fill="rgb(112,112,112)"/><rect x="94.00" y="46.00" width="6.60" height="6.60" fill="rgb(112,112,112)"/><rect x="100.00" y="46.00" width="6.60" height="6.60" fill="rgb(115,115,115)"/><rect x="106.00" y="46.00" width="6.60" height="6.60" fill="rgb(112,112,112)"/><rect x="112.00" y="46.00" width="6.60" height="6.60" fill="rgb(122,122,122)"/><rect x="118.00" y="46.00" width="6.60" height="6.60" fill="rgb(112,112,112)"/><rect x="124.00" y="46.00" width="6.60" height="6.60" fill="rgb(128,128,128)"/><rect x="130.00" y="46.00" width="6.60" height="6.60" fill="rgb(128,128,128)"/><rect x="136.00" y="46.00" width="6.60" height="6.60" fill="rgb(128,128,128)"/><rect x="142.00" y="46.00" width="6.60" height="6.60" fill="rgb(128,128,128)"/><rect x="148.00" y="46.00" width="6.60" height="6.60" fill="rgb(128,128,128)"/><rect x="154.00" y="46.00" width="6.60" height="6.60" fill="rgb(143,143,143)"/><rect x="160.00" y="46.00" width="6.60" height="6.60" fill="rgb(142,142,142)"/><rect x="166.00" y="46.00" width="6.60" height="6.60" fill="rgb(143,143,143)"/><rect x="172.00" y="46.00" width="6.60" height="6.60" fill="rgb(142,142,142)"/><rect x="178.00" y="46.00" width="6.60" height="6.60" fill="rgb(142,142,142)"/><rect x="184.00" y="46.00" width="6.60" height="6.60" fill="rgb(142,142,142)"/><rect x="190.00" y="46.00" width="6.60" height="6.60" fill="rgb(143,143,143)"/><rect x="196.00" y="46.00" width="6.60" height="6.60" fill="rgb(143,143,143)"/><rect x="202.00" y="46.00" width="6.60" height="6.60" fill="rgb(143,143,143)"/><rect x="208.00" y="46.00" width="6.60" height="6.60" fill="rgb(143,143,143)"/><rect x="214.00" y="46.00" width="6.60" height="6.60" fill="rgb(143,143,143)"/><rect x="28.00" y="52.00" width="6.60" height="6.60" fill="rgb(112,112,112)"/><rect x="34.00" y="52.00" width="6.60" height="6.60" fill="rgb(112,112,112)"/><rect x="40.00" y="52.00" width="6.60" height="6.60" fill="rgb(112,112,112)"/><rect x="46.00" y="52.00" width="6.60" height="6.60" fill="rgb(112,112,112)"/><rect x="52.00" y="52.00" width="6.60" height="6.60" fill="rgb(112,112,112)"/><rect x="58.00" y="52.00" width="6.60" height="6.60" fill="rgb(112,112,112)"/><rect x="64.00" y="52.00" width="6.60" height="6.60" fill="rgb(112,112,112)"/><rect x="70.00" y="52.00" width="6.60" height="6.60" fill="rgb(112,112,112)"/><rect x="76.00" y="52.00" width="6.60" height="6.60" fill="rgb(112,112,112)"/><rect x="82.00" y="52.00" width="6.60" height="6.60" fill="rgb(112,112,112)"/><rect x="88.00" y="52.00" width="6.60" height="6.60" fill="rgb(112,112,112)"/><rect x="94.00" y="52.00" width="6.60" height="6.60" fill="rgb(112,112,112)"/><rect x="100.00" y="52.00" width="6.60" height="6.60" fill="rgb(120,120,120)"/><rect x="106.00" y="52.00" width="6.60" height="6.60" fill="rgb(120,120,120)"/><rect x="112.00" y="52.00" width="6.60" height="6.60" fill="rgb(112,112,112)"/><rect x="118.00" y="52.00" width="6.60" height="6.60" fill="rgb(143,143,143)"/><rect x="124.00" y="52.00" width="6.60" height="6.60" fill="rgb(143,143,143)"/><rect x="130.00" y="52.00" width="6.60" height="6.60" fill="rgb(143,143,143)"/><rect x="136.00" y="52.00" width="6.60" height="6.60" fill="rgb(151,151,151)"/><rect x="142.00" y="52.00" width="6.60" height="6.60" fill="rgb(175,175,175)"/><rect x="148.00" y="52.00" width="6.60" height="6.60" fill="rgb(159,159,159)"/><rect x="154.00" y="52.00" width="6.60" height="6.60" fill="rgb(154,154,154)"/><rect x="160.00" y="52.00" width="6.60" height="6.60" fill="rgb(152,152,152)"/><rect x="166.00" y="52.00" width="6.60" height="6.60" fill="rgb(149,149,149)"/><rect x="172.00" y="52.00" width="6.60" height="6.60" fill="rgb(147,147,147)"/><rect x="178.00" y="52.00" width="6.60" height="6.60" fill="rgb(145,145,145)"/><rect x="184.00" y="52.00" width="6.60" height="6.60" fill="rgb(143,143,143)"/><rect x="190.00" y="52.00" width="6.60" height="6.60" fill="rgb(143,143,143)"/><rect x="196.00" y="52.00" width="6.60" height="6.60" fill="rgb(143,143,143)"/><rect x="202.00" y="52.00" width="6.60" height="6.60" fill="rgb(143,143,143)"/><rect x="208.00" y="52.00" width="6.60" height="6.60" fill="rgb(143,143,143)"/><rect x="214.00" y="52.00" width="6.60" height="6.60" fill="rgb(143,143,143)"/><rect x="28.00" y="58.00" width="6.60" height="6.60" fill="rgb(112,112,112)"/><rect x="34.00" y="58.00" width="6.60" height="6.60" fill="rgb(112,112,112)"/><rect x="40.00" y="58.00" width="6.60" height="6.60" fill="rgb(112,112,112)"/><rect x="46.00" y="58.00" width="6.60" height="6.60" fill="rgb(112,112,112)"/><rect x="52.00" y="58.00" width="6.60" height="6.60" fill="rgb(112,112,112)"/><rect x="58.00" y="58.00" width="6.60" height="6.60" fill="rgb(112,112,112)"/><rect x="64.00" y="58.00" width="6.60" height="6.60" fill="rgb(112,112,112)"/><rect x="70.00" y="58.00" width="6.60" height="6.60" fill="rgb(112,112,112)"/><rect x="76.00" y="58.00" width="6.60" height="6.60" fill="rgb(112,112,112)"/><rect x="82.00" y="58.00" width="6.60" height="6.60" fill="rgb(112,112,112)"/><rect x="88.00" y="58.00" width="6.60" height="6.60" fill="rgb(114,114,114)"/><rect x="94.00" y="58.00" width="6.60" height="6.60" fill="rgb(112,112,112)"/><rect x="100.00" y="58.00" width="6.60" height="6.60" fill="rgb(121,121,121)"/><rect x="106.00" y="58.00" width="6.60" height="6.60" fill="rgb(128,128,128)"/><rect x="112.00" y="58.00" width="6.60" height="6.60" fill="rgb(128,128,128)"/><rect x="118.00" y="58.00" width="6.60" height="6.60" fill="rgb(143,143,143)"/><rect x="124.00" y="58.00" width="6.60" height="6.60" fill="rgb(175,175,175)"/><rect x="130.00" y="58.00" width="6.60" height="6.60" fill="rgb(159,159,159)"/><rect x="136.00" y="58.00" width="6.60" height="6.60" fill="rgb(159,159,159)"/><rect x="142.00" y="58.00" width="6.60" height="6.60" fill="rgb(191,191,191)"/><rect x="148.00" y="58.00" width="6.60" height="6.60" fill="rgb(175,175,175)"/><rect x="154.00" y="58.00" width="6.60" height="6.60" fill="rgb(159,159,159)"/><rect x="160.00" y="58.00" width="6.60" height="6.60" fill="rgb(152,152,152)"/><rect x="166.00" y="58.00" width="6.60" height="6.60" fill="rgb(149,149,149)"/><rect x="172.00" y="58.00" width="6.60" height="6.60" fill="rgb(147,147,147)"/><rect x="178.00" y="58.00" width="6.60" height="6.60" fill="rgb(143,143,143)"/><rect x="184.00" y="58.00" width="6.60" height="6.60" fill="rgb(143,143,143)"/><rect x="190.00" y="58.00" width="6.60" height="6.60" fill="rgb(143,143,143)"/><rect x="196.00" y="58.00" width="6.60" height="6.60" fill="rgb(143,143,143)"/><rect x="202.00" y="58.00" width="6.60" height="6.60" fill="rgb(143,143,143)"/><rect x="208.00" y="58.00" width="6.60" height="6.60" fill="rgb(138,138,138)"/><rect x="214.00" y="58.00" width="6.60" height="6.60" fill="rgb(138,138,138)"/><rect x="28.00" y="64.00" width="6.60" height="6.60" fill="rgb(112,112,112)"/><rect x="34.00" y="64.00" width="6.60" height="6.60" fill="rgb(112,112,112)"/><rect x="40.00" y="64.00" width="6.60" height="6.60" fill="rgb(112,112,112)"/><rect x="46.00" y="64.00" width="6.60" height="6.60" fill="rgb(112,112,112)"/><rect x="52.00" y="64.00" width="6.60" height="6.60" fill="rgb(112,112,112)"/><rect x="58.00" y="64.00" width="6.60" height="6.60" fill="rgb(112,112,112)"/><rect x="64.00" y="64.00" width="6.60" height="6.60" fill="rgb(112,112,112)"/><rect x="70.00" y="64.00" width="6.60" height="6.60" fill="rgb(112,112,112)"/><rect x="76.00" y="64.00" width="6.60" height="6.60" fill="rgb(112,112,112)"/><rect x="82.00" y="64.00" width="6.60" height="6.60" fill="rgb(112,112,112)"/><rect x="88.00" y="64.00" width="6.60" height="6.60" fill="rgb(112,112,112)"/><rect x="94.00" y="64.00" width="6.60" height="6.60" fill="rgb(128,128,128)"/><rect x="100.00" y="64.00" width="6.60" height="6.60" fill="rgb(128,128,128)"/><rect x="106.00" y="64.00" width="6.60" height="6.60" fill="rgb(112,112,112)"/><rect x="112.00" y="64.00" width="6.60" height="6.60" fill="rgb(130,130,130)"/><rect x="118.00" y="64.00" width="6.60" height="6.60" fill="rgb(151,151,151)"/><rect x="124.00" y="64.00" width="6.60" height="6.60" fill="rgb(175,175,175)"/><rect x="130.00" y="64.00" width="6.60" height="6.60" fill="rgb(143,143,143)"/><rect x="136.00" y="64.00" width="6.60" height="6.60" fill="rgb(147,147,147)"/><rect x="142.00" y="64.00" width="6.60" height="6.60" fill="rgb(128,128,128)"/><rect x="148.00" y="64.00" width="6.60" height="6.60" fill="rgb(143,143,143)"/><rect x="154.00" y="64.00" width="6.60" height="6.60" fill="rgb(143,143,143)"/><rect x="160.00" y="64.00" width="6.60" height="6.60" fill="rgb(143,143,143)"/><rect x="166.00" y="64.00" width="6.60" height="6.60" fill="rgb(145,145,145)"/><rect x="172.00" y="64.00" width="6.60" height="6.60" fill="rgb(143,143,143)"/><rect x="178.00" y="64.00" width="6.60" height="6.60" fill="rgb(142,142,142)"/><rect x="184.00" y="64.00" width="6.60" height="6.60" fill="rgb(143,143,143)"/><rect x="190.00" y="64.00" width="6.60" height="6.60" fill="rgb(142,142,142)"/><rect x="196.00" y="64.00" width="6.60" height="6.60" fill="rgb(142,142,142)"/><rect x="202.00" y="64.00" width="6.60" height="6.60" fill="rgb(137,137,137)"/><rect x="208.00" y="64.00" width="6.60" height="6.60" fill="rgb(128,128,128)"/><rect x="214.00" y="64.00" width="6.60" height="6.60" fill="rgb(128,128,128)"/><rect x="28.00" y="70.00" width="6.60" height="6.60" fill="rgb(112,112,112)"/><rect x="34.00" y="70.00" width="6.60" height="6.60" fill="rgb(112,112,112)"/><rect x="40.00" y="70.00" width="6.60" height="6.60" fill="rgb(112,112,112)"/><rect x="46.00" y="70.00" width="6.60" height="6.60" fill="rgb(112,112,112)"/><rect x="52.00" y="70.00" width="6.60" height="6.60" fill="rgb(112,112,112)"/><rect x="58.00" y="70.00" width="6.60" height="6.60" fill="rgb(112,112,112)"/><rect x="64.00" y="70.00" width="6.60" height="6.60" fill="rgb(112,112,112)"/><rect x="70.00" y="70.00" width="6.60" height="6.60" fill="rgb(112,112,112)"/><rect x="76.00" y="70.00" width="6.60" height="6.60" fill="rgb(112,112,112)"/><rect x="82.00" y="70.00" width="6.60" height="6.60" fill="rgb(112,112,112)"/><rect x="88.00" y="70.00" width="6.60" height="6.60" fill="rgb(112,112,112)"/><rect x="94.00" y="70.00" width="6.60" height="6.60" fill="rgb(128,128,128)"/><rect x="100.00" y="70.00" width="6.60" height="6.60" fill="rgb(128,128,128)"/><rect x="106.00" y="70.00" width="6.60" height="6.60" fill="rgb(128,128,128)"/><rect x="112.00" y="70.00" width="6.60" height="6.60" fill="rgb(143,143,143)"/><rect x="118.00" y="70.00" width="6.60" height="6.60" fill="rgb(128,128,128)"/><rect x="124.00" y="70.00" width="6.60" height="6.60" fill="rgb(143,143,143)"/><rect x="130.00" y="70.00" width="6.60" height="6.60" fill="rgb(128,128,128)"/><rect x="136.00" y="70.00" width="6.60" height="6.60" fill="rgb(143,143,143)"/><rect x="142.00" y="70.00" width="6.60" height="6.60" fill="rgb(128,128,128)"/><rect x="148.00" y="70.00" width="6.60" height="6.60" fill="rgb(112,112,112)"/><rect x="154.00" y="70.00" width="6.60" height="6.60" fill="rgb(128,128,128)"/><rect x="160.00" y="70.00" width="6.60" height="6.60" fill="rgb(139,139,139)"/><rect x="166.00" y="70.00" width="6.60" height="6.60" fill="rgb(143,143,143)"/><rect x="172.00" y="70.00" width="6.60" height="6.60" fill="rgb(141,141,141)"/><rect x="178.00" y="70.00" width="6.60" height="6.60" fill="rgb(142,142,142)"/><rect x="184.00" y="70.00" width="6.60" height="6.60" fill="rgb(142,142,142)"/><rect x="190.00" y="70.00" width="6.60" height="6.60" fill="rgb(142,142,142)"/><rect x="196.00" y="70.00" width="6.60" height="6.60" fill="rgb(137,137,137)"/><rect x="202.00" y="70.00" width="6.60" height="6.60" fill="rgb(128,128,128)"/><rect x="208.00" y="70.00" width="6.60" height="6.60" fill="rgb(128,128,128)"/><rect x="214.00" y="70.00" width="6.60" height="6.60" fill="rgb(128,128,128)"/><rect x="28.00" y="76.00" width="6.60" height="6.60" fill="rgb(112,112,112)"/><rect x="34.00" y="76.00" width="6.60" height="6.60" fill="rgb(112,112,112)"/><rect x="40.00" y="76.00" width="6.60" height="6.60" fill="rgb(112,112,112)"/><rect x="46.00" y="76.00" width="6.60" height="6.60" fill="rgb(112,112,112)"/><rect x="52.00" y="76.00" width="6.60" height="6.60" fill="rgb(112,112,112)"/><rect x="58.00" y="76.00" width="6.60" height="6.60" fill="rgb(112,112,112)"/><rect x="64.00" y="76.00" width="6.60" height="6.60" fill="rgb(112,112,112)"/><rect x="70.00" y="76.00" width="6.60" height="6.60" fill="rgb(112,112,112)"/><rect x="76.00" y="76.00" width="6.60" height="6.60" fill="rgb(112,112,112)"/><rect x="82.00" y="76.00" width="6.60" height="6.60" fill="rgb(112,112,112)"/><rect x="88.00" y="76.00" width="6.60" height="6.60" fill="rgb(128,128,128)"/><rect x="94.00" y="76.00" width="6.60" height="6.60" fill="rgb(128,128,128)"/><rect x="100.00" y="76.00" width="6.60" height="6.60" fill="rgb(128,128,128)"/><rect x="106.00" y="76.00" width="6.60" height="6.60" fill="rgb(143,143,143)"/><rect x="112.00" y="76.00" width="6.60" height="6.60" fill="rgb(143,143,143)"/><rect x="118.00" y="76.00" width="6.60" height="6.60" fill="rgb(143,143,143)"/><rect x="124.00" y="76.00" width="6.60" height="6.60" fill="rgb(159,159,159)"/><rect x="130.00" y="76.00" width="6.60" height="6.60" fill="rgb(175,175,175)"/><rect x="136.00" y="76.00" width="6.60" height="6.60" fill="rgb(145,145,145)"/><rect x="142.00" y="76.00" width="6.60" height="6.60" fill="rgb(128,128,128)"/><rect x="148.00" y="76.00" width="6.60" height="6.60" fill="rgb(128,128,128)"/><rect x="154.00" y="76.00" width="6.60" height="6.60" fill="rgb(143,143,143)"/><rect x="160.00" y="76.00" width="6.60" height="6.60" fill="rgb(143,143,143)"/><rect x="166.00" y="76.00" width="6.60" height="6.60" fill="rgb(139,139,139)"/><rect x="172.00" y="76.00" width="6.60" height="6.60" fill="rgb(141,141,141)"/><rect x="178.00" y="76.00" width="6.60" height="6.60" fill="rgb(141,141,141)"/><rect x="184.00" y="76.00" width="6.60" height="6.60" fill="rgb(141,141,141)"/><rect x="190.00" y="76.00" width="6.60" height="6.60" fill="rgb(137,137,137)"/><rect x="196.00" y="76.00" width="6.60" height="6.60" fill="rgb(128,128,128)"/><rect x="202.00" y="76.00" width="6.60" height="6.60" fill="rgb(128,128,128)"/><rect x="208.00" y="76.00" width="6.60" height="6.60" fill="rgb(128,128,128)"/><rect x="214.00" y="76.00" width="6.60" height="6.60" fill="rgb(128,128,128)"/><rect x="28.00" y="82.00" width="6.60" height="6.60" fill="rgb(112,112,112)"/><rect x="34.00" y="82.00" width="6.60" height="6.60" fill="rgb(112,112,112)"/><rect x="40.00" y="82.00" width="6.60" height="6.60" fill="rgb(112,112,112)"/><rect x="46.00" y="82.00" width="6.60" height="6.60" fill="rgb(112,112,112)"/><rect x="52.00" y="82.00" width="6.60" height="6.60" fill="rgb(112,112,112)"/><rect x="58.00" y="82.00" width="6.60" height="6.60" fill="rgb(112,112,112)"/><rect x="64.00" y="82.00" width="6.60" height="6.60" fill="rgb(112,112,112)"/><rect x="70.00" y="82.00" width="6.60" height="6.60" fill="rgb(112,112,112)"/><rect x="76.00" y="82.00" width="6.60" height="6.60" fill="rgb(112,112,112)"/><rect x="82.00" y="82.00" width="6.60" height="6.60" fill="rgb(112,112,112)"/><rect x="88.00" y="82.00" width="6.60" height="6.60" fill="rgb(128,128,128)"/><rect x="94.00" y="82.00" width="6.60" height="6.60" fill="rgb(128,128,128)"/><rect x="100.00" y="82.00" width="6.60" height="6.60" fill="rgb(128,128,128)"/><rect x="106.00" y="82.00" width="6.60" height="6.60" fill="rgb(143,143,143)"/><rect x="112.00" y="82.00" width="6.60" height="6.60" fill="rgb(175,175,175)"/><rect x="118.00" y="82.00" width="6.60" height="6.60" fill="rgb(143,143,143)"/><rect x="124.00" y="82.00" width="6.60" height="6.60" fill="rgb(96,96,96)"/><rect x="130.00" y="82.00" width="6.60" height="6.60" fill="rgb(143,143,143)"/><rect x="136.00" y="82.00" width="6.60" height="6.60" fill="rgb(143,143,143)"/><rect x="142.00" y="82.00" width="6.60" height="6.60" fill="rgb(175,175,175)"/><rect x="148.00" y="82.00" width="6.60" height="6.60" fill="rgb(191,191,191)"/><rect x="154.00" y="82.00" width="6.60" height="6.60" fill="rgb(143,143,143)"/><rect x="160.00" y="82.00" width="6.60" height="6.60" fill="rgb(135,135,135)"/><rect x="166.00" y="82.00" width="6.60" height="6.60" fill="rgb(141,141,141)"/><rect x="172.00" y="82.00" width="6.60" height="6.60" fill="rgb(140,140,140)"/><rect x="178.00" y="82.00" width="6.60" height="6.60" fill="rgb(140,140,140)"/><rect x="184.00" y="82.00" width="6.60" height="6.60" fill="rgb(136,136,136)"/><rect x="190.00" y="82.00" width="6.60" height="6.60" fill="rgb(128,128,128)"/><rect x="196.00" y="82.00" width="6.60" height="6.60" fill="rgb(128,128,128)"/><rect x="202.00" y="82.00" width="6.60" height="6.60" fill="rgb(128,128,128)"/><rect x="208.00" y="82.00" width="6.60" height="6.60" fill="rgb(128,128,128)"/><rect x="214.00" y="82.00" width="6.60" height="6.60" fill="rgb(128,128,128)"/><rect x="28.00" y="88.00" width="6.60" height="6.60" fill="rgb(112,112,112)"/><rect x="34.00" y="88.00" width="6.60" height="6.60" fill="rgb(112,112,112)"/><rect x="40.00" y="88.00" width="6.60" height="6.60" fill="rgb(112,112,112)"/><rect x="46.00" y="88.00" width="6.60" height="6.60" fill="rgb(112,112,112)"/><rect x="52.00" y="88.00" width="6.60" height="6.60" fill="rgb(112,112,112)"/><rect x="58.00" y="88.00" width="6.60" height="6.60" fill="rgb(112,112,112)"/><rect x="64.00" y="88.00" width="6.60" height="6.60" fill="rgb(112,112,112)"/><rect x="70.00" y="88.00" width="6.60" height="6.60" fill="rgb(112,112,112)"/><rect x="76.00" y="88.00" width="6.60" height="6.60" fill="rgb(112,112,112)"/><rect x="82.00" y="88.00" width="6.60" height="6.60" fill="rgb(128,128,128)"/><rect x="88.00" y="88.00" width="6.60" height="6.60" fill="rgb(128,128,128)"/><rect x="94.00" y="88.00" width="6.60" height="6.60" fill="rgb(143,143,143)"/><rect x="100.00" y="88.00" width="6.60" height="6.60" fill="rgb(128,128,128)"/><rect x="106.00" y="88.00" width="6.60" height="6.60" fill="rgb(128,128,128)"/><rect x="112.00" y="88.00" width="6.60" height="6.60" fill="rgb(112,112,112)"/><rect x="118.00" y="88.00" width="6.60" height="6.60" fill="rgb(128,128,128)"/><rect x="124.00" y="88.00" width="6.60" height="6.60" fill="rgb(128,128,128)"/><rect x="130.00" y="88.00" width="6.60" height="6.60" fill="rgb(175,175,175)"/><rect x="136.00" y="88.00" width="6.60" height="6.60" fill="rgb(143,143,143)"/><rect x="142.00" y="88.00" width="6.60" height="6.60" fill="rgb(169,169,169)"/><rect x="148.00" y="88.00" width="6.60" height="6.60" fill="rgb(143,143,143)"/><rect x="154.00" y="88.00" width="6.60" height="6.60" fill="rgb(128,128,128)"/><rect x="160.00" y="88.00" width="6.60" height="6.60" fill="rgb(143,143,143)"/><rect x="166.00" y="88.00" width="6.60" height="6.60" fill="rgb(139,139,139)"/><rect x="172.00" y="88.00" width="6.60" height="6.60" fill="rgb(140,140,140)"/><rect x="178.00" y="88.00" width="6.60" height="6.60" fill="rgb(135,135,135)"/><rect x="184.00" y="88.00" width="6.60" height="6.60" fill="rgb(128,128,128)"/><rect x="190.00" y="88.00" width="6.60" height="6.60" fill="rgb(128,128,128)"/><rect x="196.00" y="88.00" width="6.60" height="6.60" fill="rgb(128,128,128)"/><rect x="202.00" y="88.00" width="6.60" height="6.60" fill="rgb(128,128,128)"/><rect x="208.00" y="88.00" width="6.60" height="6.60" fill="rgb(128,128,128)"/><rect x="214.00" y="88.00" width="6.60" height="6.60" fill="rgb(128,128,128)"/><rect x="28.00" y="94.00" width="6.60" height="6.60" fill="rgb(112,112,112)"/><rect x="34.00" y="94.00" width="6.60" height="6.60" fill="rgb(112,112,112)"/><rect x="40.00" y="94.00" width="6.60" height="6.60" fill="rgb(112,112,112)"/><rect x="46.00" y="94.00" width="6.60" height="6.60" fill="rgb(112,112,112)"/><rect x="52.00" y="94.00" width="6.60" height="6.60" fill="rgb(112,112,112)"/><rect x="58.00" y="94.00" width="6.60" height="6.60" fill="rgb(112,112,112)"/><rect x="64.00" y="94.00" width="6.60" height="6.60" fill="rgb(112,112,112)"/><rect x="70.00" y="94.00" width="6.60" height="6.60" fill="rgb(112,112,112)"/><rect x="76.00" y="94.00" width="6.60" height="6.60" fill="rgb(128,128,128)"/><rect x="82.00" y="94.00" width="6.60" height="6.60" fill="rgb(143,143,143)"/><rect x="88.00" y="94.00" width="6.60" height="6.60" fill="rgb(128,128,128)"/><rect x="94.00" y="94.00" width="6.60" height="6.60" fill="rgb(128,128,128)"/><rect x="100.00" y="94.00" width="6.60" height="6.60" fill="rgb(112,112,112)"/><rect x="106.00" y="94.00" width="6.60" height="6.60" fill="rgb(96,96,96)"/><rect x="112.00" y="94.00" width="6.60" height="6.60" fill="rgb(112,112,112)"/><rect x="118.00" y="94.00" width="6.60" height="6.60" fill="rgb(128,128,128)"/><rect x="124.00" y="94.00" width="6.60" height="6.60" fill="rgb(143,143,143)"/><rect x="130.00" y="94.00" width="6.60" height="6.60" fill="rgb(175,175,175)"/><rect x="136.00" y="94.00" width="6.60" height="6.60" fill="rgb(191,191,191)"/><rect x="142.00" y="94.00" width="6.60" height="6.60" fill="rgb(175,175,175)"/><rect x="148.00" y="94.00" width="6.60" height="6.60" fill="rgb(191,191,191)"/><rect x="154.00" y="94.00" width="6.60" height="6.60" fill="rgb(159,159,159)"/><rect x="160.00" y="94.00" width="6.60" height="6.60" fill="rgb(138,138,138)"/><rect x="166.00" y="94.00" width="6.60" height="6.60" fill="rgb(140,140,140)"/><rect x="172.00" y="94.00" width="6.60" height="6.60" fill="rgb(135,135,135)"/><rect x="178.00" y="94.00" width="6.60" height="6.60" fill="rgb(128,128,128)"/><rect x="184.00" y="94.00" width="6.60" height="6.60" fill="rgb(128,128,128)"/><rect x="190.00" y="94.00" width="6.60" height="6.60" fill="rgb(128,128,128)"/><rect x="196.00" y="94.00" width="6.60" height="6.60" fill="rgb(129,129,129)"/><rect x="202.00" y="94.00" width="6.60" height="6.60" fill="rgb(129,129,129)"/><rect x="208.00" y="94.00" width="6.60" height="6.60" fill="rgb(129,129,129)"/><rect x="214.00" y="94.00" width="6.60" height="6.60" fill="rgb(129,129,129)"/><rect x="28.00" y="100.00" width="6.60" height="6.60" fill="rgb(112,112,112)"/><rect x="34.00" y="100.00" width="6.60" height="6.60" fill="rgb(112,112,112)"/><rect x="40.00" y="100.00" width="6.60" height="6.60" fill="rgb(112,112,112)"/><rect x="46.00" y="100.00" width="6.60" height="6.60" fill="rgb(112,112,112)"/><rect x="52.00" y="100.00" width="6.60" height="6.60" fill="rgb(112,112,112)"/><rect x="58.00" y="100.00" width="6.60" height="6.60" fill="rgb(112,112,112)"/><rect x="64.00" y="100.00" width="6.60" height="6.60" fill="rgb(112,112,112)"/><rect x="70.00" y="100.00" width="6.60" height="6.60" fill="rgb(115,115,115)"/><rect x="76.00" y="100.00" width="6.60" height="6.60" fill="rgb(112,112,112)"/><rect x="82.00" y="100.00" width="6.60" height="6.60" fill="rgb(128,128,128)"/><rect x="88.00" y="100.00" width="6.60" height="6.60" fill="rgb(112,112,112)"/><rect x="94.00" y="100.00" width="6.60" height="6.60" fill="rgb(112,112,112)"/><rect x="100.00" y="100.00" width="6.60" height="6.60" fill="rgb(96,96,96)"/><rect x="106.00" y="100.00" width="6.60" height="6.60" fill="rgb(96,96,96)"/><rect x="112.00" y="100.00" width="6.60" height="6.60" fill="rgb(96,96,96)"/><rect x="118.00" y="100.00" width="6.60" height="6.60" fill="rgb(112,112,112)"/><rect x="124.00" y="100.00" width="6.60" height="6.60" fill="rgb(112,112,112)"/><rect x="130.00" y="100.00" width="6.60" height="6.60" fill="rgb(128,128,128)"/><rect x="136.00" y="100.00" width="6.60" height="6.60" fill="rgb(159,159,159)"/><rect x="142.00" y="100.00" width="6.60" height="6.60" fill="rgb(175,175,175)"/><rect x="148.00" y="100.00" width="6.60" height="6.60" fill="rgb(159,159,159)"/><rect x="154.00" y="100.00" width="6.60" height="6.60" fill="rgb(128,128,128)"/><rect x="160.00" y="100.00" width="6.60" height="6.60" fill="rgb(138,138,138)"/><rect x="166.00" y="100.00" width="6.60" height="6.60" fill="rgb(133,133,133)"/><rect x="172.00" y="100.00" width="6.60" height="6.60" fill="rgb(128,128,128)"/><rect x="178.00" y="100.00" width="6.60" height="6.60" fill="rgb(129,129,129)"/><rect x="184.00" y="100.00" width="6.60" height="6.60" fill="rgb(129,129,129)"/><rect x="190.00" y="100.00" width="6.60" height="6.60" fill="rgb(130,130,130)"/><rect x="196.00" y="100.00" width="6.60" height="6.60" fill="rgb(130,130,130)"/><rect x="202.00" y="100.00" width="6.60" height="6.60" fill="rgb(130,130,130)"/><rect x="208.00" y="100.00" width="6.60" height="6.60" fill="rgb(131,131,131)"/><rect x="214.00" y="100.00" width="6.60" height="6.60" fill="rgb(131,131,131)"/><rect x="28.00" y="106.00" width="6.60" height="6.60" fill="rgb(112,112,112)"/><rect x="34.00" y="106.00" width="6.60" height="6.60" fill="rgb(112,112,112)"/><rect x="40.00" y="106.00" width="6.60" height="6.60" fill="rgb(112,112,112)"/><rect x="46.00" y="106.00" width="6.60" height="6.60" fill="rgb(112,112,112)"/><rect x="52.00" y="106.00" width="6.60" height="6.60" fill="rgb(112,112,112)"/><rect x="58.00" y="106.00" width="6.60" height="6.60" fill="rgb(112,112,112)"/><rect x="64.00" y="106.00" width="6.60" height="6.60" fill="rgb(112,112,112)"/><rect x="70.00" y="106.00" width="6.60" height="6.60" fill="rgb(112,112,112)"/><rect x="76.00" y="106.00" width="6.60" height="6.60" fill="rgb(112,112,112)"/><rect x="82.00" y="106.00" width="6.60" height="6.60" fill="rgb(112,112,112)"/><rect x="88.00" y="106.00" width="6.60" height="6.60" fill="rgb(96,96,96)"/><rect x="94.00" y="106.00" width="6.60" height="6.60" fill="rgb(112,112,112)"/><rect x="100.00" y="106.00" width="6.60" height="6.60" fill="rgb(96,96,96)"/><rect x="106.00" y="106.00" width="6.60" height="6.60" fill="rgb(128,128,128)"/><rect x="112.00" y="106.00" width="6.60" height="6.60" fill="rgb(112,112,112)"/><rect x="118.00" y="106.00" width="6.60" height="6.60" fill="rgb(112,112,112)"/><rect x="124.00" y="106.00" width="6.60" height="6.60" fill="rgb(112,112,112)"/><rect x="130.00" y="106.00" width="6.60" height="6.60" fill="rgb(112,112,112)"/><rect x="136.00" y="106.00" width="6.60" height="6.60" fill="rgb(143,143,143)"/><rect x="142.00" y="106.00" width="6.60" height="6.60" fill="rgb(175,175,175)"/><rect x="148.00" y="106.00" width="6.60" height="6.60" fill="rgb(191,191,191)"/><rect x="154.00" y="106.00" width="6.60" height="6.60" fill="rgb(128,128,128)"/><rect x="160.00" y="106.00" width="6.60" height="6.60" fill="rgb(128,128,128)"/><rect x="166.00" y="106.00" width="6.60" height="6.60" fill="rgb(128,128,128)"/><rect x="172.00" y="106.00" width="6.60" height="6.60" fill="rgb(131,131,131)"/><rect x="178.00" y="106.00" width="6.60" height="6.60" fill="rgb(130,130,130)"/><rect x="184.00" y="106.00" width="6.60" height="6.60" fill="rgb(132,132,132)"/><rect x="190.00" y="106.00" width="6.60" height="6.60" fill="rgb(132,132,132)"/><rect x="196.00" y="106.00" width="6.60" height="6.60" fill="rgb(133,133,133)"/><rect x="202.00" y="106.00" width="6.60" height="6.60" fill="rgb(133,133,133)"/><rect x="208.00" y="106.00" width="6.60" height="6.60" fill="rgb(134,134,134)"/><rect x="214.00" y="106.00" width="6.60" height="6.60" fill="rgb(134,134,134)"/><rect x="28.00" y="112.00" width="6.60" height="6.60" fill="rgb(112,112,112)"/><rect x="34.00" y="112.00" width="6.60" height="6.60" fill="rgb(112,112,112)"/><rect x="40.00" y="112.00" width="6.60" height="6.60" fill="rgb(112,112,112)"/><rect x="46.00" y="112.00" width="6.60" height="6.60" fill="rgb(112,112,112)"/><rect x="52.00" y="112.00" width="6.60" height="6.60" fill="rgb(112,112,112)"/><rect x="58.00" y="112.00" width="6.60" height="6.60" fill="rgb(112,112,112)"/><rect x="64.00" y="112.00" width="6.60" height="6.60" fill="rgb(117,117,117)"/><rect x="70.00" y="112.00" width="6.60" height="6.60" fill="rgb(112,112,112)"/><rect x="76.00" y="112.00" width="6.60" height="6.60" fill="rgb(112,112,112)"/><rect x="82.00" y="112.00" width="6.60" height="6.60" fill="rgb(128,128,128)"/><rect x="88.00" y="112.00" width="6.60" height="6.60" fill="rgb(112,112,112)"/><rect x="94.00" y="112.00" width="6.60" height="6.60" fill="rgb(128,128,128)"/><rect x="100.00" y="112.00" width="6.60" height="6.60" fill="rgb(128,128,128)"/><rect x="106.00" y="112.00" width="6.60" height="6.60" fill="rgb(128,128,128)"/><rect x="112.00" y="112.00" width="6.60" height="6.60" fill="rgb(96,96,96)"/><rect x="118.00" y="112.00" width="6.60" height="6.60" fill="rgb(80,80,80)"/><rect x="124.00" y="112.00" width="6.60" height="6.60" fill="rgb(80,80,80)"/><rect x="130.00" y="112.00" width="6.60" height="6.60" fill="rgb(112,112,112)"/><rect x="136.00" y="112.00" width="6.60" height="6.60" fill="rgb(128,128,128)"/><rect x="142.00" y="112.00" width="6.60" height="6.60" fill="rgb(143,143,143)"/><rect x="148.00" y="112.00" width="6.60" height="6.60" fill="rgb(128,128,128)"/><rect x="154.00" y="112.00" width="6.60" height="6.60" fill="rgb(138,138,138)"/><rect x="160.00" y="112.00" width="6.60" height="6.60" fill="rgb(128,128,128)"/><rect x="166.00" y="112.00" width="6.60" height="6.60" fill="rgb(135,135,135)"/><rect x="172.00" y="112.00" width="6.60" height="6.60" fill="rgb(132,132,132)"/><rect x="178.00" y="112.00" width="6.60" height="6.60" fill="rgb(135,135,135)"/><rect x="184.00" y="112.00" width="6.60" height="6.60" fill="rgb(135,135,135)"/><rect x="190.00" y="112.00" width="6.60" height="6.60" fill="rgb(136,136,136)"/><rect x="196.00" y="112.00" width="6.60" height="6.60" fill="rgb(137,137,137)"/><rect x="202.00" y="112.00" width="6.60" height="6.60" fill="rgb(138,138,138)"/><rect x="208.00" y="112.00" width="6.60" height="6.60" fill="rgb(139,139,139)"/><rect x="214.00" y="112.00" width="6.60" height="6.60" fill="rgb(139,139,139)"/><rect x="28.00" y="118.00" width="6.60" height="6.60" fill="rgb(112,112,112)"/><rect x="34.00" y="118.00" width="6.60" height="6.60" fill="rgb(112,112,112)"/><rect x="40.00" y="118.00" width="6.60" height="6.60" fill="rgb(112,112,112)"/><rect x="46.00" y="118.00" width="6.60" height="6.60" fill="rgb(112,112,112)"/><rect x="52.00" y="118.00" width="6.60" height="6.60" fill="rgb(112,112,112)"/><rect x="58.00" y="118.00" width="6.60" height="6.60" fill="rgb(112,112,112)"/><rect x="64.00" y="118.00" width="6.60" height="6.60" fill="rgb(112,112,112)"/><rect x="70.00" y="118.00" width="6.60" height="6.60" fill="rgb(128,128,128)"/><rect x="76.00" y="118.00" width="6.60" height="6.60" fill="rgb(112,112,112)"/><rect x="82.00" y="118.00" width="6.60" height="6.60" fill="rgb(128,128,128)"/><rect x="88.00" y="118.00" width="6.60" height="6.60" fill="rgb(128,128,128)"/><rect x="94.00" y="118.00" width="6.60" height="6.60" fill="rgb(143,143,143)"/><rect x="100.00" y="118.00" width="6.60" height="6.60" fill="rgb(175,175,175)"/><rect x="106.00" y="118.00" width="6.60" height="6.60" fill="rgb(159,159,159)"/><rect x="112.00" y="118.00" width="6.60" height="6.60" fill="rgb(80,80,80)"/><rect x="118.00" y="118.00" width="6.60" height="6.60" fill="rgb(48,48,48)"/><rect x="124.00" y="118.00" width="6.60" height="6.60" fill="rgb(48,48,48)"/><rect x="130.00" y="118.00" width="6.60" height="6.60" fill="rgb(96,96,96)"/><rect x="136.00" y="118.00" width="6.60" height="6.60" fill="rgb(143,143,143)"/><rect x="142.00" y="118.00" width="6.60" height="6.60" fill="rgb(128,128,128)"/><rect x="148.00" y="118.00" width="6.60" height="6.60" fill="rgb(112,112,112)"/><rect x="154.00" y="118.00" width="6.60" height="6.60" fill="rgb(125,125,125)"/><rect x="160.00" y="118.00" width="6.60" height="6.60" fill="rgb(143,143,143)"/><rect x="166.00" y="118.00" width="6.60" height="6.60" fill="rgb(133,133,133)"/><rect x="172.00" y="118.00" width="6.60" height="6.60" fill="rgb(141,141,141)"/><rect x="178.00" y="118.00" width="6.60" height="6.60" fill="rgb(140,140,140)"/><rect x="184.00" y="118.00" width="6.60" height="6.60" fill="rgb(143,143,143)"/><rect x="190.00" y="118.00" width="6.60" height="6.60" fill="rgb(143,143,143)"/><rect x="196.00" y="118.00" width="6.60" height="6.60" fill="rgb(144,144,144)"/><rect x="202.00" y="118.00" width="6.60" height="6.60" fill="rgb(145,145,145)"/><rect x="208.00" y="118.00" width="6.60" height="6.60" fill="rgb(146,146,146)"/><rect x="214.00" y="118.00" width="6.60" height="6.60" fill="rgb(146,146,146)"/><rect x="28.00" y="124.00" width="6.60" height="6.60" fill="rgb(112,112,112)"/><rect x="34.00" y="124.00" width="6.60" height="6.60" fill="rgb(112,112,112)"/><rect x="40.00" y="124.00" width="6.60" height="6.60" fill="rgb(112,112,112)"/><rect x="46.00" y="124.00" width="6.60" height="6.60" fill="rgb(112,112,112)"/><rect x="52.00" y="124.00" width="6.60" height="6.60" fill="rgb(112,112,112)"/><rect x="58.00" y="124.00" width="6.60" height="6.60" fill="rgb(112,112,112)"/><rect x="64.00" y="124.00" width="6.60" height="6.60" fill="rgb(112,112,112)"/><rect x="70.00" y="124.00" width="6.60" height="6.60" fill="rgb(112,112,112)"/><rect x="76.00" y="124.00" width="6.60" height="6.60" fill="rgb(112,112,112)"/><rect x="82.00" y="124.00" width="6.60" height="6.60" fill="rgb(128,128,128)"/><rect x="88.00" y="124.00" width="6.60" height="6.60" fill="rgb(128,128,128)"/><rect x="94.00" y="124.00" width="6.60" height="6.60" fill="rgb(143,143,143)"/><rect x="100.00" y="124.00" width="6.60" height="6.60" fill="rgb(159,159,159)"/><rect x="106.00" y="124.00" width="6.60" height="6.60" fill="rgb(175,175,175)"/><rect x="112.00" y="124.00" width="6.60" height="6.60" fill="rgb(159,159,159)"/><rect x="118.00" y="124.00" width="6.60" height="6.60" fill="rgb(96,96,96)"/><rect x="124.00" y="124.00" width="6.60" height="6.60" fill="rgb(96,96,96)"/><rect x="130.00" y="124.00" width="6.60" height="6.60" fill="rgb(175,175,175)"/><rect x="136.00" y="124.00" width="6.60" height="6.60" fill="rgb(128,128,128)"/><rect x="142.00" y="124.00" width="6.60" height="6.60" fill="rgb(143,143,143)"/><rect x="148.00" y="124.00" width="6.60" height="6.60" fill="rgb(112,112,112)"/><rect x="154.00" y="124.00" width="6.60" height="6.60" fill="rgb(132,132,132)"/><rect x="160.00" y="124.00" width="6.60" height="6.60" fill="rgb(128,128,128)"/><rect x="166.00" y="124.00" width="6.60" height="6.60" fill="rgb(154,154,154)"/><rect x="172.00" y="124.00" width="6.60" height="6.60" fill="rgb(149,149,149)"/><rect x="178.00" y="124.00" width="6.60" height="6.60" fill="rgb(153,153,153)"/><rect x="184.00" y="124.00" width="6.60" height="6.60" fill="rgb(152,152,152)"/><rect x="190.00" y="124.00" width="6.60" height="6.60" fill="rgb(153,153,153)"/><rect x="196.00" y="124.00" width="6.60" height="6.60" fill="rgb(154,154,154)"/><rect x="202.00" y="124.00" width="6.60" height="6.60" fill="rgb(154,154,154)"/><rect x="208.00" y="124.00" width="6.60" height="6.60" fill="rgb(154,154,154)"/><rect x="214.00" y="124.00" width="6.60" height="6.60" fill="rgb(154,154,154)"/><rect x="28.00" y="130.00" width="6.60" height="6.60" fill="rgb(112,112,112)"/><rect x="34.00" y="130.00" width="6.60" height="6.60" fill="rgb(112,112,112)"/><rect x="40.00" y="130.00" width="6.60" height="6.60" fill="rgb(112,112,112)"/><rect x="46.00" y="130.00" width="6.60" height="6.60" fill="rgb(112,112,112)"/><rect x="52.00" y="130.00" width="6.60" height="6.60" fill="rgb(112,112,112)"/><rect x="58.00" y="130.00" width="6.60" height="6.60" fill="rgb(112,112,112)"/><rect x="64.00" y="130.00" width="6.60" height="6.60" fill="rgb(112,112,112)"/><rect x="70.00" y="130.00" width="6.60" height="6.60" fill="rgb(112,112,112)"/><rect x="76.00" y="130.00" width="6.60" height="6.60" fill="rgb(128,128,128)"/><rect x="82.00" y="130.00" width="6.60" height="6.60" fill="rgb(128,128,128)"/><rect x="88.00" y="130.00" width="6.60" height="6.60" fill="rgb(143,143,143)"/><rect x="94.00" y="130.00" width="6.60" height="6.60" fill="rgb(128,128,128)"/><rect x="100.00" y="130.00" width="6.60" height="6.60" fill="rgb(159,159,159)"/><rect x="106.00" y="130.00" width="6.60" height="6.60" fill="rgb(159,159,159)"/><rect x="112.00" y="130.00" width="6.60" height="6.60" fill="rgb(159,159,159)"/><rect x="118.00" y="130.00" width="6.60" height="6.60" fill="rgb(143,143,143)"/><rect x="124.00" y="130.00" width="6.60" height="6.60" fill="rgb(159,159,159)"/><rect x="130.00" y="130.00" width="6.60" height="6.60" fill="rgb(159,159,159)"/><rect x="136.00" y="130.00" width="6.60" height="6.60" fill="rgb(143,143,143)"/><rect x="142.00" y="130.00" width="6.60" height="6.60" fill="rgb(175,175,175)"/><rect x="148.00" y="130.00" width="6.60" height="6.60" fill="rgb(128,128,128)"/><rect x="154.00" y="130.00" width="6.60" height="6.60" fill="rgb(112,112,112)"/><rect x="160.00" y="130.00" width="6.60" height="6.60" fill="rgb(191,191,191)"/><rect x="166.00" y="130.00" width="6.60" height="6.60" fill="rgb(159,159,159)"/><rect x="172.00" y="130.00" width="6.60" height="6.60" fill="rgb(168,168,168)"/><rect x="178.00" y="130.00" width="6.60" height="6.60" fill="rgb(164,164,164)"/><rect x="184.00" y="130.00" width="6.60" height="6.60" fill="rgb(165,165,165)"/><rect x="190.00" y="130.00" width="6.60" height="6.60" fill="rgb(164,164,164)"/><rect x="196.00" y="130.00" width="6.60" height="6.60" fill="rgb(164,164,164)"/><rect x="202.00" y="130.00" width="6.60" height="6.60" fill="rgb(164,164,164)"/><rect x="208.00" y="130.00" width="6.60" height="6.60" fill="rgb(164,164,164)"/><rect x="214.00" y="130.00" width="6.60" height="6.60" fill="rgb(164,164,164)"/><rect x="28.00" y="136.00" width="6.60" height="6.60" fill="rgb(112,112,112)"/><rect x="34.00" y="136.00" width="6.60" height="6.60" fill="rgb(112,112,112)"/><rect x="40.00" y="136.00" width="6.60" height="6.60" fill="rgb(112,112,112)"/><rect x="46.00" y="136.00" width="6.60" height="6.60" fill="rgb(112,112,112)"/><rect x="52.00" y="136.00" width="6.60" height="6.60" fill="rgb(112,112,112)"/><rect x="58.00" y="136.00" width="6.60" height="6.60" fill="rgb(112,112,112)"/><rect x="64.00" y="136.00" width="6.60" height="6.60" fill="rgb(112,112,112)"/><rect x="70.00" y="136.00" width="6.60" height="6.60" fill="rgb(112,112,112)"/><rect x="76.00" y="136.00" width="6.60" height="6.60" fill="rgb(112,112,112)"/><rect x="82.00" y="136.00" width="6.60" height="6.60" fill="rgb(143,143,143)"/><rect x="88.00" y="136.00" width="6.60" height="6.60" fill="rgb(159,159,159)"/><rect x="94.00" y="136.00" width="6.60" height="6.60" fill="rgb(159,159,159)"/><rect x="100.00" y="136.00" width="6.60" height="6.60" fill="rgb(143,143,143)"/><rect x="106.00" y="136.00" width="6.60" height="6.60" fill="rgb(159,159,159)"/><rect x="112.00" y="136.00" width="6.60" height="6.60" fill="rgb(128,128,128)"/><rect x="118.00" y="136.00" width="6.60" height="6.60" fill="rgb(128,128,128)"/><rect x="124.00" y="136.00" width="6.60" height="6.60" fill="rgb(128,128,128)"/><rect x="130.00" y="136.00" width="6.60" height="6.60" fill="rgb(159,159,159)"/><rect x="136.00" y="136.00" width="6.60" height="6.60" fill="rgb(175,175,175)"/><rect x="142.00" y="136.00" width="6.60" height="6.60" fill="rgb(143,143,143)"/><rect x="148.00" y="136.00" width="6.60" height="6.60" fill="rgb(128,128,128)"/><rect x="154.00" y="136.00" width="6.60" height="6.60" fill="rgb(112,112,112)"/><rect x="160.00" y="136.00" width="6.60" height="6.60" fill="rgb(138,138,138)"/><rect x="166.00" y="136.00" width="6.60" height="6.60" fill="rgb(191,191,191)"/><rect x="172.00" y="136.00" width="6.60" height="6.60" fill="rgb(175,175,175)"/><rect x="178.00" y="136.00" width="6.60" height="6.60" fill="rgb(178,178,178)"/><rect x="184.00" y="136.00" width="6.60" height="6.60" fill="rgb(175,175,175)"/><rect x="190.00" y="136.00" width="6.60" height="6.60" fill="rgb(175,175,175)"/><rect x="196.00" y="136.00" width="6.60" height="6.60" fill="rgb(174,174,174)"/><rect x="202.00" y="136.00" width="6.60" height="6.60" fill="rgb(173,173,173)"/><rect x="208.00" y="136.00" width="6.60" height="6.60" fill="rgb(173,173,173)"/><rect x="214.00" y="136.00" width="6.60" height="6.60" fill="rgb(173,173,173)"/><rect x="28.00" y="142.00" width="6.60" height="6.60" fill="rgb(112,112,112)"/><rect x="34.00" y="142.00" width="6.60" height="6.60" fill="rgb(112,112,112)"/><rect x="40.00" y="142.00" width="6.60" height="6.60" fill="rgb(112,112,112)"/><rect x="46.00" y="142.00" width="6.60" height="6.60" fill="rgb(112,112,112)"/><rect x="52.00" y="142.00" width="6.60" height="6.60" fill="rgb(112,112,112)"/><rect x="58.00" y="142.00" width="6.60" height="6.60" fill="rgb(112,112,112)"/><rect x="64.00" y="142.00" width="6.60" height="6.60" fill="rgb(112,112,112)"/><rect x="70.00" y="142.00" width="6.60" height="6.60" fill="rgb(112,112,112)"/><rect x="76.00" y="142.00" width="6.60" height="6.60" fill="rgb(117,117,117)"/><rect x="82.00" y="142.00" width="6.60" height="6.60" fill="rgb(133,133,133)"/><rect x="88.00" y="142.00" width="6.60" height="6.60" fill="rgb(143,143,143)"/><rect x="94.00" y="142.00" width="6.60" height="6.60" fill="rgb(159,159,159)"/><rect x="100.00" y="142.00" width="6.60" height="6.60" fill="rgb(159,159,159)"/><rect x="106.00" y="142.00" width="6.60" height="6.60" fill="rgb(143,143,143)"/><rect x="112.00" y="142.00" width="6.60" height="6.60" fill="rgb(135,135,135)"/><rect x="118.00" y="142.00" width="6.60" height="6.60" fill="rgb(125,125,125)"/><rect x="124.00" y="142.00" width="6.60" height="6.60" fill="rgb(112,112,112)"/><rect x="130.00" y="142.00" width="6.60" height="6.60" fill="rgb(128,128,128)"/><rect x="136.00" y="142.00" width="6.60" height="6.60" fill="rgb(112,112,112)"/><rect x="142.00" y="142.00" width="6.60" height="6.60" fill="rgb(191,191,191)"/><rect x="148.00" y="142.00" width="6.60" height="6.60" fill="rgb(191,191,191)"/><rect x="154.00" y="142.00" width="6.60" height="6.60" fill="rgb(155,155,155)"/><rect x="160.00" y="142.00" width="6.60" height="6.60" fill="rgb(112,112,112)"/><rect x="166.00" y="142.00" width="6.60" height="6.60" fill="rgb(147,147,147)"/><rect x="172.00" y="142.00" width="6.60" height="6.60" fill="rgb(191,191,191)"/><rect x="178.00" y="142.00" width="6.60" height="6.60" fill="rgb(183,183,183)"/><rect x="184.00" y="142.00" width="6.60" height="6.60" fill="rgb(184,184,184)"/><rect x="190.00" y="142.00" width="6.60" height="6.60" fill="rgb(182,182,182)"/><rect x="196.00" y="142.00" width="6.60" height="6.60" fill="rgb(182,182,182)"/><rect x="202.00" y="142.00" width="6.60" height="6.60" fill="rgb(181,181,181)"/><rect x="208.00" y="142.00" width="6.60" height="6.60" fill="rgb(180,180,180)"/><rect x="214.00" y="142.00" width="6.60" height="6.60" fill="rgb(180,180,180)"/><rect x="28.00" y="148.00" width="6.60" height="6.60" fill="rgb(112,112,112)"/><rect x="34.00" y="148.00" width="6.60" height="6.60" fill="rgb(112,112,112)"/><rect x="40.00" y="148.00" width="6.60" height="6.60" fill="rgb(112,112,112)"/><rect x="46.00" y="148.00" width="6.60" height="6.60" fill="rgb(112,112,112)"/><rect x="52.00" y="148.00" width="6.60" height="6.60" fill="rgb(112,112,112)"/><rect x="58.00" y="148.00" width="6.60" height="6.60" fill="rgb(112,112,112)"/><rect x="64.00" y="148.00" width="6.60" height="6.60" fill="rgb(112,112,112)"/><rect x="70.00" y="148.00" width="6.60" height="6.60" fill="rgb(112,112,112)"/><rect x="76.00" y="148.00" width="6.60" height="6.60" fill="rgb(112,112,112)"/><rect x="82.00" y="148.00" width="6.60" height="6.60" fill="rgb(128,128,128)"/><rect x="88.00" y="148.00" width="6.60" height="6.60" fill="rgb(128,128,128)"/><rect x="94.00" y="148.00" width="6.60" height="6.60" fill="rgb(143,143,143)"/><rect x="100.00" y="148.00" width="6.60" height="6.60" fill="rgb(143,143,143)"/><rect x="106.00" y="148.00" width="6.60" height="6.60" fill="rgb(128,128,128)"/><rect x="112.00" y="148.00" width="6.60" height="6.60" fill="rgb(130,130,130)"/><rect x="118.00" y="148.00" width="6.60" height="6.60" fill="rgb(128,128,128)"/><rect x="124.00" y="148.00" width="6.60" height="6.60" fill="rgb(128,128,128)"/><rect x="130.00" y="148.00" width="6.60" height="6.60" fill="rgb(120,120,120)"/><rect x="136.00" y="148.00" width="6.60" height="6.60" fill="rgb(112,112,112)"/><rect x="142.00" y="148.00" width="6.60" height="6.60" fill="rgb(207,207,207)"/><rect x="148.00" y="148.00" width="6.60" height="6.60" fill="rgb(191,191,191)"/><rect x="154.00" y="148.00" width="6.60" height="6.60" fill="rgb(175,175,175)"/><rect x="160.00" y="148.00" width="6.60" height="6.60" fill="rgb(148,148,148)"/><rect x="166.00" y="148.00" width="6.60" height="6.60" fill="rgb(112,112,112)"/><rect x="172.00" y="148.00" width="6.60" height="6.60" fill="rgb(150,150,150)"/><rect x="178.00" y="148.00" width="6.60" height="6.60" fill="rgb(191,191,191)"/><rect x="184.00" y="148.00" width="6.60" height="6.60" fill="rgb(187,187,187)"/><rect x="190.00" y="148.00" width="6.60" height="6.60" fill="rgb(188,188,188)"/><rect x="196.00" y="148.00" width="6.60" height="6.60" fill="rgb(186,186,186)"/><rect x="202.00" y="148.00" width="6.60" height="6.60" fill="rgb(186,186,186)"/><rect x="208.00" y="148.00" width="6.60" height="6.60" fill="rgb(185,185,185)"/><rect x="214.00" y="148.00" width="6.60" height="6.60" fill="rgb(185,185,185)"/><rect x="28.00" y="154.00" width="6.60" height="6.60" fill="rgb(112,112,112)"/><rect x="34.00" y="154.00" width="6.60" height="6.60" fill="rgb(112,112,112)"/><rect x="40.00" y="154.00" width="6.60" height="6.60" fill="rgb(112,112,112)"/><rect x="46.00" y="154.00" width="6.60" height="6.60" fill="rgb(112,112,112)"/><rect x="52.00" y="154.00" width="6.60" height="6.60" fill="rgb(112,112,112)"/><rect x="58.00" y="154.00" width="6.60" height="6.60" fill="rgb(112,112,112)"/><rect x="64.00" y="154.00" width="6.60" height="6.60" fill="rgb(112,112,112)"/><rect x="70.00" y="154.00" width="6.60" height="6.60" fill="rgb(112,112,112)"/><rect x="76.00" y="154.00" width="6.60" height="6.60" fill="rgb(112,112,112)"/><rect x="82.00" y="154.00" width="6.60" height="6.60" fill="rgb(120,120,120)"/><rect x="88.00" y="154.00" width="6.60" height="6.60" fill="rgb(135,135,135)"/><rect x="94.00" y="154.00" width="6.60" height="6.60" fill="rgb(138,138,138)"/><rect x="100.00" y="154.00" width="6.60" height="6.60" fill="rgb(134,134,134)"/><rect x="106.00" y="154.00" width="6.60" height="6.60" fill="rgb(128,128,128)"/><rect x="112.00" y="154.00" width="6.60" height="6.60" fill="rgb(128,128,128)"/><rect x="118.00" y="154.00" width="6.60" height="6.60" fill="rgb(128,128,128)"/><rect x="124.00" y="154.00" width="6.60" height="6.60" fill="rgb(143,143,143)"/><rect x="130.00" y="154.00" width="6.60" height="6.60" fill="rgb(112,112,112)"/><rect x="136.00" y="154.00" width="6.60" height="6.60" fill="rgb(112,112,112)"/><rect x="142.00" y="154.00" width="6.60" height="6.60" fill="rgb(191,191,191)"/><rect x="148.00" y="154.00" width="6.60" height="6.60" fill="rgb(143,143,143)"/><rect x="154.00" y="154.00" width="6.60" height="6.60" fill="rgb(149,149,149)"/><rect x="160.00" y="154.00" width="6.60" height="6.60" fill="rgb(149,149,149)"/><rect x="166.00" y="154.00" width="6.60" height="6.60" fill="rgb(134,134,134)"/><rect x="172.00" y="154.00" width="6.60" height="6.60" fill="rgb(112,112,112)"/><rect x="178.00" y="154.00" width="6.60" height="6.60" fill="rgb(151,151,151)"/><rect x="184.00" y="154.00" width="6.60" height="6.60" fill="rgb(191,191,191)"/><rect x="190.00" y="154.00" width="6.60" height="6.60" fill="rgb(189,189,189)"/><rect x="196.00" y="154.00" width="6.60" height="6.60" fill="rgb(189,189,189)"/><rect x="202.00" y="154.00" width="6.60" height="6.60" fill="rgb(189,189,189)"/><rect x="208.00" y="154.00" width="6.60" height="6.60" fill="rgb(188,188,188)"/><rect x="214.00" y="154.00" width="6.60" height="6.60" fill="rgb(188,188,188)"/><rect x="28.00" y="160.00" width="6.60" height="6.60" fill="rgb(112,112,112)"/><rect x="34.00" y="160.00" width="6.60" height="6.60" fill="rgb(112,112,112)"/><rect x="40.00" y="160.00" width="6.60" height="6.60" fill="rgb(112,112,112)"/><rect x="46.00" y="160.00" width="6.60" height="6.60" fill="rgb(112,112,112)"/><rect x="52.00" y="160.00" width="6.60" height="6.60" fill="rgb(112,112,112)"/><rect x="58.00" y="160.00" width="6.60" height="6.60" fill="rgb(112,112,112)"/><rect x="64.00" y="160.00" width="6.60" height="6.60" fill="rgb(112,112,112)"/><rect x="70.00" y="160.00" width="6.60" height="6.60" fill="rgb(112,112,112)"/><rect x="76.00" y="160.00" width="6.60" height="6.60" fill="rgb(120,120,120)"/><rect x="82.00" y="160.00" width="6.60" height="6.60" fill="rgb(135,135,135)"/><rect x="88.00" y="160.00" width="6.60" height="6.60" fill="rgb(135,135,135)"/><rect x="94.00" y="160.00" width="6.60" height="6.60" fill="rgb(143,143,143)"/><rect x="100.00" y="160.00" width="6.60" height="6.60" fill="rgb(128,128,128)"/><rect x="106.00" y="160.00" width="6.60" height="6.60" fill="rgb(128,128,128)"/><rect x="112.00" y="160.00" width="6.60" height="6.60" fill="rgb(143,143,143)"/><rect x="118.00" y="160.00" width="6.60" height="6.60" fill="rgb(128,128,128)"/><rect x="124.00" y="160.00" width="6.60" height="6.60" fill="rgb(128,128,128)"/><rect x="130.00" y="160.00" width="6.60" height="6.60" fill="rgb(120,120,120)"/><rect x="136.00" y="160.00" width="6.60" height="6.60" fill="rgb(112,112,112)"/><rect x="142.00" y="160.00" width="6.60" height="6.60" fill="rgb(191,191,191)"/><rect x="148.00" y="160.00" width="6.60" height="6.60" fill="rgb(112,112,112)"/><rect x="154.00" y="160.00" width="6.60" height="6.60" fill="rgb(122,122,122)"/><rect x="160.00" y="160.00" width="6.60" height="6.60" fill="rgb(128,128,128)"/><rect x="166.00" y="160.00" width="6.60" height="6.60" fill="rgb(130,130,130)"/><rect x="172.00" y="160.00" width="6.60" height="6.60" fill="rgb(123,123,123)"/><rect x="178.00" y="160.00" width="6.60" height="6.60" fill="rgb(112,112,112)"/><rect x="184.00" y="160.00" width="6.60" height="6.60" fill="rgb(151,151,151)"/><rect x="190.00" y="160.00" width="6.60" height="6.60" fill="rgb(191,191,191)"/><rect x="196.00" y="160.00" width="6.60" height="6.60" fill="rgb(190,190,190)"/><rect x="202.00" y="160.00" width="6.60" height="6.60" fill="rgb(190,190,190)"/><rect x="208.00" y="160.00" width="6.60" height="6.60" fill="rgb(190,190,190)"/><rect x="214.00" y="160.00" width="6.60" height="6.60" fill="rgb(190,190,190)"/><rect x="28.00" y="166.00" width="6.60" height="6.60" fill="rgb(112,112,112)"/><rect x="34.00" y="166.00" width="6.60" height="6.60" fill="rgb(112,112,112)"/><rect x="40.00" y="166.00" width="6.60" height="6.60" fill="rgb(112,112,112)"/><rect x="46.00" y="166.00" width="6.60" height="6.60" fill="rgb(112,112,112)"/><rect x="52.00" y="166.00" width="6.60" height="6.60" fill="rgb(112,112,112)"/><rect x="58.00" y="166.00" width="6.60" height="6.60" fill="rgb(112,112,112)"/><rect x="64.00" y="166.00" width="6.60" height="6.60" fill="rgb(112,112,112)"/><rect x="70.00" y="166.00" width="6.60" height="6.60" fill="rgb(112,112,112)"/><rect x="76.00" y="166.00" width="6.60" height="6.60" fill="rgb(128,128,128)"/><rect x="82.00" y="166.00" width="6.60" height="6.60" fill="rgb(128,128,128)"/><rect x="88.00" y="166.00" width="6.60" height="6.60" fill="rgb(143,143,143)"/><rect x="94.00" y="166.00" width="6.60" height="6.60" fill="rgb(143,143,143)"/><rect x="100.00" y="166.00" width="6.60" height="6.60" fill="rgb(128,128,128)"/><rect x="106.00" y="166.00" width="6.60" height="6.60" fill="rgb(135,135,135)"/><rect x="112.00" y="166.00" width="6.60" height="6.60" fill="rgb(133,133,133)"/><rect x="118.00" y="166.00" width="6.60" height="6.60" fill="rgb(135,135,135)"/><rect x="124.00" y="166.00" width="6.60" height="6.60" fill="rgb(128,128,128)"/><rect x="130.00" y="166.00" width="6.60" height="6.60" fill="rgb(112,112,112)"/><rect x="136.00" y="166.00" width="6.60" height="6.60" fill="rgb(138,138,138)"/><rect x="142.00" y="166.00" width="6.60" height="6.60" fill="rgb(112,112,112)"/><rect x="148.00" y="166.00" width="6.60" height="6.60" fill="rgb(112,112,112)"/><rect x="154.00" y="166.00" width="6.60" height="6.60" fill="rgb(112,112,112)"/><rect x="160.00" y="166.00" width="6.60" height="6.60" fill="rgb(115,115,115)"/><rect x="166.00" y="166.00" width="6.60" height="6.60" fill="rgb(118,118,118)"/><rect x="172.00" y="166.00" width="6.60" height="6.60" fill="rgb(120,120,120)"/><rect x="178.00" y="166.00" width="6.60" height="6.60" fill="rgb(117,117,117)"/><rect x="184.00" y="166.00" width="6.60" height="6.60" fill="rgb(112,112,112)"/><rect x="190.00" y="166.00" width="6.60" height="6.60" fill="rgb(151,151,151)"/><rect x="196.00" y="166.00" width="6.60" height="6.60" fill="rgb(191,191,191)"/><rect x="202.00" y="166.00" width="6.60" height="6.60" fill="rgb(191,191,191)"/><rect x="208.00" y="166.00" width="6.60" height="6.60" fill="rgb(191,191,191)"/><rect x="214.00" y="166.00" width="6.60" height="6.60" fill="rgb(191,191,191)"/><rect x="28.00" y="172.00" width="6.60" height="6.60" fill="rgb(112,112,112)"/><rect x="34.00" y="172.00" width="6.60" height="6.60" fill="rgb(112,112,112)"/><rect x="40.00" y="172.00" width="6.60" height="6.60" fill="rgb(112,112,112)"/><rect x="46.00" y="172.00" width="6.60" height="6.60" fill="rgb(112,112,112)"/><rect x="52.00" y="172.00" width="6.60" height="6.60" fill="rgb(112,112,112)"/><rect x="58.00" y="172.00" width="6.60" height="6.60" fill="rgb(112,112,112)"/><rect x="64.00" y="172.00" width="6.60" height="6.60" fill="rgb(112,112,112)"/><rect x="70.00" y="172.00" width="6.60" height="6.60" fill="rgb(112,112,112)"/><rect x="76.00" y="172.00" width="6.60" height="6.60" fill="rgb(120,120,120)"/><rect x="82.00" y="172.00" width="6.60" height="6.60" fill="rgb(128,128,128)"/><rect x="88.00" y="172.00" width="6.60" height="6.60" fill="rgb(135,135,135)"/><rect x="94.00" y="172.00" width="6.60" height="6.60" fill="rgb(143,143,143)"/><rect x="100.00" y="172.00" width="6.60" height="6.60" fill="rgb(137,137,137)"/><rect x="106.00" y="172.00" width="6.60" height="6.60" fill="rgb(132,132,132)"/><rect x="112.00" y="172.00" width="6.60" height="6.60" fill="rgb(135,135,135)"/><rect x="118.00" y="172.00" width="6.60" height="6.60" fill="rgb(132,132,132)"/><rect x="124.00" y="172.00" width="6.60" height="6.60" fill="rgb(125,125,125)"/><rect x="130.00" y="172.00" width="6.60" height="6.60" fill="rgb(122,122,122)"/><rect x="136.00" y="172.00" width="6.60" height="6.60" fill="rgb(112,112,112)"/><rect x="142.00" y="172.00" width="6.60" height="6.60" fill="rgb(112,112,112)"/><rect x="148.00" y="172.00" width="6.60" height="6.60" fill="rgb(112,112,112)"/><rect x="154.00" y="172.00" width="6.60" height="6.60" fill="rgb(112,112,112)"/><rect x="160.00" y="172.00" width="6.60" height="6.60" fill="rgb(112,112,112)"/><rect x="166.00" y="172.00" width="6.60" height="6.60" fill="rgb(113,113,113)"/><rect x="172.00" y="172.00" width="6.60" height="6.60" fill="rgb(114,114,114)"/><rect x="178.00" y="172.00" width="6.60" height="6.60" fill="rgb(115,115,115)"/><rect x="184.00" y="172.00" width="6.60" height="6.60" fill="rgb(114,114,114)"/><rect x="190.00" y="172.00" width="6.60" height="6.60" fill="rgb(112,112,112)"/><rect x="196.00" y="172.00" width="6.60" height="6.60" fill="rgb(151,151,151)"/><rect x="202.00" y="172.00" width="6.60" height="6.60" fill="rgb(191,191,191)"/><rect x="208.00" y="172.00" width="6.60" height="6.60" fill="rgb(191,191,191)"/><rect x="214.00" y="172.00" width="6.60" height="6.60" fill="rgb(191,191,191)"/><rect x="28.00" y="178.00" width="6.60" height="6.60" fill="rgb(112,112,112)"/><rect x="34.00" y="178.00" width="6.60" height="6.60" fill="rgb(112,112,112)"/><rect x="40.00" y="178.00" width="6.60" height="6.60" fill="rgb(112,112,112)"/><rect x="46.00" y="178.00" width="6.60" height="6.60" fill="rgb(112,112,112)"/><rect x="52.00" y="178.00" width="6.60" height="6.60" fill="rgb(112,112,112)"/><rect x="58.00" y="178.00" width="6.60" height="6.60" fill="rgb(112,112,112)"/><rect x="64.00" y="178.00" width="6.60" height="6.60" fill="rgb(112,112,112)"/><rect x="70.00" y="178.00" width="6.60" height="6.60" fill="rgb(112,112,112)"/><rect x="76.00" y="178.00" width="6.60" height="6.60" fill="rgb(112,112,112)"/><rect x="82.00" y="178.00" width="6.60" height="6.60" fill="rgb(112,112,112)"/><rect x="88.00" y="178.00" width="6.60" height="6.60" fill="rgb(130,130,130)"/><rect x="94.00" y="178.00" width="6.60" height="6.60" fill="rgb(139,139,139)"/><rect x="100.00" y="178.00" width="6.60" height="6.60" fill="rgb(141,141,141)"/><rect x="106.00" y="178.00" width="6.60" height="6.60" fill="rgb(143,143,143)"/><rect x="112.00" y="178.00" width="6.60" height="6.60" fill="rgb(137,137,137)"/><rect x="118.00" y="178.00" width="6.60" height="6.60" fill="rgb(130,130,130)"/><rect x="124.00" y="178.00" width="6.60" height="6.60" fill="rgb(123,123,123)"/><rect x="130.00" y="178.00" width="6.60" height="6.60" fill="rgb(112,112,112)"/><rect x="136.00" y="178.00" width="6.60" height="6.60" fill="rgb(112,112,112)"/><rect x="142.00" y="178.00" width="6.60" height="6.60" fill="rgb(112,112,112)"/><rect x="148.00" y="178.00" width="6.60" height="6.60" fill="rgb(112,112,112)"/><rect x="154.00" y="178.00" width="6.60" height="6.60" fill="rgb(112,112,112)"/><rect x="160.00" y="178.00" width="6.60" height="6.60" fill="rgb(112,112,112)"/><rect x="166.00" y="178.00" width="6.60" height="6.60" fill="rgb(112,112,112)"/><rect x="172.00" y="178.00" width="6.60" height="6.60" fill="rgb(112,112,112)"/><rect x="178.00" y="178.00" width="6.60" height="6.60" fill="rgb(113,113,113)"/><rect x="184.00" y="178.00" width="6.60" height="6.60" fill="rgb(113,113,113)"/><rect x="190.00" y="178.00" width="6.60" height="6.60" fill="rgb(113,113,113)"/><rect x="196.00" y="178.00" width="6.60" height="6.60" fill="rgb(112,112,112)"/><rect x="202.00" y="178.00" width="6.60" height="6.60" fill="rgb(151,151,151)"/><rect x="208.00" y="178.00" width="6.60" height="6.60" fill="rgb(191,191,191)"/><rect x="214.00" y="178.00" width="6.60" height="6.60" fill="rgb(191,191,191)"/><rect x="28.00" y="184.00" width="6.60" height="6.60" fill="rgb(112,112,112)"/><rect x="34.00" y="184.00" width="6.60" height="6.60" fill="rgb(112,112,112)"/><rect x="40.00" y="184.00" width="6.60" height="6.60" fill="rgb(112,112,112)"/><rect x="46.00" y="184.00" width="6.60" height="6.60" fill="rgb(112,112,112)"/><rect x="52.00" y="184.00" width="6.60" height="6.60" fill="rgb(112,112,112)"/><rect x="58.00" y="184.00" width="6.60" height="6.60" fill="rgb(112,112,112)"/><rect x="64.00" y="184.00" width="6.60" height="6.60" fill="rgb(112,112,112)"/><rect x="70.00" y="184.00" width="6.60" height="6.60" fill="rgb(112,112,112)"/><rect x="76.00" y="184.00" width="6.60" height="6.60" fill="rgb(112,112,112)"/><rect x="82.00" y="184.00" width="6.60" height="6.60" fill="rgb(120,120,120)"/><rect x="88.00" y="184.00" width="6.60" height="6.60" fill="rgb(135,135,135)"/><rect x="94.00" y="184.00" width="6.60" height="6.60" fill="rgb(135,135,135)"/><rect x="100.00" y="184.00" width="6.60" height="6.60" fill="rgb(143,143,143)"/><rect x="106.00" y="184.00" width="6.60" height="6.60" fill="rgb(143,143,143)"/><rect x="112.00" y="184.00" width="6.60" height="6.60" fill="rgb(143,143,143)"/><rect x="118.00" y="184.00" width="6.60" height="6.60" fill="rgb(131,131,131)"/><rect x="124.00" y="184.00" width="6.60" height="6.60" fill="rgb(112,112,112)"/><rect x="130.00" y="184.00" width="6.60" height="6.60" fill="rgb(112,112,112)"/><rect x="136.00" y="184.00" width="6.60" height="6.60" fill="rgb(112,112,112)"/><rect x="142.00" y="184.00" width="6.60" height="6.60" fill="rgb(112,112,112)"/><rect x="148.00" y="184.00" width="6.60" height="6.60" fill="rgb(112,112,112)"/><rect x="154.00" y="184.00" width="6.60" height="6.60" fill="rgb(112,112,112)"/><rect x="160.00" y="184.00" width="6.60" height="6.60" fill="rgb(112,112,112)"/><rect x="166.00" y="184.00" width="6.60" height="6.60" fill="rgb(112,112,112)"/><rect x="172.00" y="184.00" width="6.60" height="6.60" fill="rgb(112,112,112)"/><rect x="178.00" y="184.00" width="6.60" height="6.60" fill="rgb(112,112,112)"/><rect x="184.00" y="184.00" width="6.60" height="6.60" fill="rgb(112,112,112)"/><rect x="190.00" y="184.00" width="6.60" height="6.60" fill="rgb(112,112,112)"/><rect x="196.00" y="184.00" width="6.60" height="6.60" fill="rgb(112,112,112)"/><rect x="202.00" y="184.00" width="6.60" height="6.60" fill="rgb(112,112,112)"/><rect x="208.00" y="184.00" width="6.60" height="6.60" fill="rgb(151,151,151)"/><rect x="214.00" y="184.00" width="6.60" height="6.60" fill="rgb(151,151,151)"/><rect x="28.00" y="190.00" width="6.60" height="6.60" fill="rgb(112,112,112)"/><rect x="34.00" y="190.00" width="6.60" height="6.60" fill="rgb(112,112,112)"/><rect x="40.00" y="190.00" width="6.60" height="6.60" fill="rgb(112,112,112)"/><rect x="46.00" y="190.00" width="6.60" height="6.60" fill="rgb(112,112,112)"/><rect x="52.00" y="190.00" width="6.60" height="6.60" fill="rgb(112,112,112)"/><rect x="58.00" y="190.00" width="6.60" height="6.60" fill="rgb(112,112,112)"/><rect x="64.00" y="190.00" width="6.60" height="6.60" fill="rgb(112,112,112)"/><rect x="70.00" y="190.00" width="6.60" height="6.60" fill="rgb(112,112,112)"/><rect x="76.00" y="190.00" width="6.60" height="6.60" fill="rgb(118,118,118)"/><rect x="82.00" y="190.00" width="6.60" height="6.60" fill="rgb(128,128,128)"/><rect x="88.00" y="190.00" width="6.60" height="6.60" fill="rgb(128,128,128)"/><rect x="94.00" y="190.00" width="6.60" height="6.60" fill="rgb(143,143,143)"/><rect x="100.00" y="190.00" width="6.60" height="6.60" fill="rgb(143,143,143)"/><rect x="106.00" y="190.00" width="6.60" height="6.60" fill="rgb(143,143,143)"/><rect x="112.00" y="190.00" width="6.60" height="6.60" fill="rgb(143,143,143)"/><rect x="118.00" y="190.00" width="6.60" height="6.60" fill="rgb(135,135,135)"/><rect x="124.00" y="190.00" width="6.60" height="6.60" fill="rgb(112,112,112)"/><rect x="130.00" y="190.00" width="6.60" height="6.60" fill="rgb(112,112,112)"/><rect x="136.00" y="190.00" width="6.60" height="6.60" fill="rgb(112,112,112)"/><rect x="142.00" y="190.00" width="6.60" height="6.60" fill="rgb(112,112,112)"/><rect x="148.00" y="190.00" width="6.60" height="6.60" fill="rgb(112,112,112)"/><rect x="154.00" y="190.00" width="6.60" height="6.60" fill="rgb(112,112,112)"/><rect x="160.00" y="190.00" width="6.60" height="6.60" fill="rgb(112,112,112)"/><rect x="166.00" y="190.00" width="6.60" height="6.60" fill="rgb(112,112,112)"/><rect x="172.00" y="190.00" width="6.60" height="6.60" fill="rgb(112,112,112)"/><rect x="178.00" y="190.00" width="6.60" height="6.60" fill="rgb(112,112,112)"/><rect x="184.00" y="190.00" width="6.60" height="6.60" fill="rgb(112,112,112)"/><rect x="190.00" y="190.00" width="6.60" height="6.60" fill="rgb(112,112,112)"/><rect x="196.00" y="190.00" width="6.60" height="6.60" fill="rgb(112,112,112)"/><rect x="202.00" y="190.00" width="6.60" height="6.60" fill="rgb(112,112,112)"/><rect x="208.00" y="190.00" width="6.60" height="6.60" fill="rgb(112,112,112)"/><rect x="214.00" y="190.00" width="6.60" height="6.60" fill="rgb(112,112,112)"/><rect x="28.00" y="196.00" width="6.60" height="6.60" fill="rgb(112,112,112)"/><rect x="34.00" y="196.00" width="6.60" height="6.60" fill="rgb(112,112,112)"/><rect x="40.00" y="196.00" width="6.60" height="6.60" fill="rgb(112,112,112)"/><rect x="46.00" y="196.00" width="6.60" height="6.60" fill="rgb(112,112,112)"/><rect x="52.00" y="196.00" width="6.60" height="6.60" fill="rgb(112,112,112)"/><rect x="58.00" y="196.00" width="6.60" height="6.60" fill="rgb(112,112,112)"/><rect x="64.00" y="196.00" width="6.60" height="6.60" fill="rgb(112,112,112)"/><rect x="70.00" y="196.00" width="6.60" height="6.60" fill="rgb(112,112,112)"/><rect x="76.00" y="196.00" width="6.60" height="6.60" fill="rgb(122,122,122)"/><rect x="82.00" y="196.00" width="6.60" height="6.60" fill="rgb(128,128,128)"/><rect x="88.00" y="196.00" width="6.60" height="6.60" fill="rgb(128,128,128)"/><rect x="94.00" y="196.00" width="6.60" height="6.60" fill="rgb(133,133,133)"/><rect x="100.00" y="196.00" width="6.60" height="6.60" fill="rgb(143,143,143)"/><rect x="106.00" y="196.00" width="6.60" height="6.60" fill="rgb(143,143,143)"/><rect x="112.00" y="196.00" width="6.60" height="6.60" fill="rgb(143,143,143)"/><rect x="118.00" y="196.00" width="6.60" height="6.60" fill="rgb(143,143,143)"/><rect x="124.00" y="196.00" width="6.60" height="6.60" fill="rgb(126,126,126)"/><rect x="130.00" y="196.00" width="6.60" height="6.60" fill="rgb(112,112,112)"/><rect x="136.00" y="196.00" width="6.60" height="6.60" fill="rgb(112,112,112)"/><rect x="142.00" y="196.00" width="6.60" height="6.60" fill="rgb(112,112,112)"/><rect x="148.00" y="196.00" width="6.60" height="6.60" fill="rgb(112,112,112)"/><rect x="154.00" y="196.00" width="6.60" height="6.60" fill="rgb(112,112,112)"/><rect x="160.00" y="196.00" width="6.60" height="6.60" fill="rgb(112,112,112)"/><rect x="166.00" y="196.00" width="6.60" height="6.60" fill="rgb(112,112,112)"/><rect x="172.00" y="196.00" width="6.60" height="6.60" fill="rgb(112,112,112)"/><rect x="178.00" y="196.00" width="6.60" height="6.60" fill="rgb(112,112,112)"/><rect x="184.00" y="196.00" width="6.60" height="6.60" fill="rgb(112,112,112)"/><rect x="190.00" y="196.00" width="6.60" height="6.60" fill="rgb(112,112,112)"/><rect x="196.00" y="196.00" width="6.60" height="6.60" fill="rgb(112,112,112)"/><rect x="202.00" y="196.00" width="6.60" height="6.60" fill="rgb(112,112,112)"/><rect x="208.00" y="196.00" width="6.60" height="6.60" fill="rgb(112,112,112)"/><rect x="214.00" y="196.00" width="6.60" height="6.60" fill="rgb(112,112,112)"/><rect x="28.00" y="202.00" width="6.60" height="6.60" fill="rgb(112,112,112)"/><rect x="34.00" y="202.00" width="6.60" height="6.60" fill="rgb(112,112,112)"/><rect x="40.00" y="202.00" width="6.60" height="6.60" fill="rgb(112,112,112)"/><rect x="46.00" y="202.00" width="6.60" height="6.60" fill="rgb(112,112,112)"/><rect x="52.00" y="202.00" width="6.60" height="6.60" fill="rgb(112,112,112)"/><rect x="58.00" y="202.00" width="6.60" height="6.60" fill="rgb(112,112,112)"/><rect x="64.00" y="202.00" width="6.60" height="6.60" fill="rgb(112,112,112)"/><rect x="70.00" y="202.00" width="6.60" height="6.60" fill="rgb(112,112,112)"/><rect x="76.00" y="202.00" width="6.60" height="6.60" fill="rgb(122,122,122)"/><rect x="82.00" y="202.00" width="6.60" height="6.60" fill="rgb(128,128,128)"/><rect x="88.00" y="202.00" width="6.60" height="6.60" fill="rgb(128,128,128)"/><rect x="94.00" y="202.00" width="6.60" height="6.60" fill="rgb(133,133,133)"/><rect x="100.00" y="202.00" width="6.60" height="6.60" fill="rgb(143,143,143)"/><rect x="106.00" y="202.00" width="6.60" height="6.60" fill="rgb(143,143,143)"/><rect x="112.00" y="202.00" width="6.60" height="6.60" fill="rgb(143,143,143)"/><rect x="118.00" y="202.00" width="6.60" height="6.60" fill="rgb(143,143,143)"/><rect x="124.00" y="202.00" width="6.60" height="6.60" fill="rgb(126,126,126)"/><rect x="130.00" y="202.00" width="6.60" height="6.60" fill="rgb(112,112,112)"/><rect x="136.00" y="202.00" width="6.60" height="6.60" fill="rgb(112,112,112)"/><rect x="142.00" y="202.00" width="6.60" height="6.60" fill="rgb(112,112,112)"/><rect x="148.00" y="202.00" width="6.60" height="6.60" fill="rgb(112,112,112)"/><rect x="154.00" y="202.00" width="6.60" height="6.60" fill="rgb(112,112,112)"/><rect x="160.00" y="202.00" width="6.60" height="6.60" fill="rgb(112,112,112)"/><rect x="166.00" y="202.00" width="6.60" height="6.60" fill="rgb(112,112,112)"/><rect x="172.00" y="202.00" width="6.60" height="6.60" fill="rgb(112,112,112)"/><rect x="178.00" y="202.00" width="6.60" height="6.60" fill="rgb(112,112,112)"/><rect x="184.00" y="202.00" width="6.60" height="6.60" fill="rgb(112,112,112)"/><rect x="190.00" y="202.00" width="6.60" height="6.60" fill="rgb(112,112,112)"/><rect x="196.00" y="202.00" width="6.60" height="6.60" fill="rgb(112,112,112)"/><rect x="202.00" y="202.00" width="6.60" height="6.60" fill="rgb(112,112,112)"/><rect x="208.00" y="202.00" width="6.60" height="6.60" fill="rgb(112,112,112)"/><rect x="214.00" y="202.00" width="6.60" height="6.60" fill="rgb(112,112,112)"/></g></g></g><g fill="#fff"><rect x="124.7" y="95" width="1.5" height="3"/><rect x="124.3" y="100.5" width="2.2" height="6"/><rect x="124.8" y="110" width="1.5" height="5"/><rect x="122.8" y="120.8" width="4.8" height="2.2"/><rect x="124.1" y="118.8" width="2.2" height="5.2"/></g><g clip-path="url(#Lax)"><g mask="url(#ringmask)" fill="none" stroke="#b36a55" stroke-width="0.75"><ellipse cx="124" cy="112.3" rx="19.40" ry="19.7"/><ellipse cx="124" cy="112.3" rx="40.38" ry="41"/><ellipse cx="124" cy="112.3" rx="61.07" ry="62"/><ellipse cx="124" cy="112.3" rx="81.36" ry="82.6"/><ellipse cx="124" cy="112.3" rx="102.44" ry="104"/><ellipse cx="124" cy="112.3" rx="123.62" ry="125.5"/></g><g mask="url(#Lmask)"><g mask="url(#ringmask)" fill="none" stroke="#4a3028" stroke-width="0.75"><ellipse cx="124" cy="112.3" rx="19.40" ry="19.7"/><ellipse cx="124" cy="112.3" rx="40.38" ry="41"/><ellipse cx="124" cy="112.3" rx="61.07" ry="62"/><ellipse cx="124" cy="112.3" rx="81.36" ry="82.6"/><ellipse cx="124" cy="112.3" rx="102.44" ry="104"/><ellipse cx="124" cy="112.3" rx="123.62" ry="125.5"/></g></g></g><text transform="translate(109.8 98.3) rotate(-45.4)" font-family="Liberation Sans, sans-serif" font-size="7.5" text-anchor="middle" dy="2.7" fill="#222">2</text><text transform="translate(143.5 112) rotate(89.1)" font-family="Liberation Sans, sans-serif" font-size="7.5" text-anchor="middle" dy="2.7" fill="#222">2</text><text transform="translate(86.4 100) rotate(-71.9)" font-family="Liberation Sans, sans-serif" font-size="7.5" text-anchor="middle" dy="2.7" fill="#222">4</text><text transform="translate(147.7 79.5) rotate(35.9)" font-family="Liberation Sans, sans-serif" font-size="7.5" text-anchor="middle" dy="2.7" fill="#222">4</text><text transform="translate(159.2 92.6) rotate(60.8)" font-family="Liberation Sans, sans-serif" font-size="7.5" text-anchor="middle" dy="2.7" fill="#222">4</text><text transform="translate(127.8 154.3) rotate(-5.2)" font-family="Liberation Sans, sans-serif" font-size="7.5" text-anchor="middle" dy="2.7" fill="#222">4</text><text transform="translate(68.4 87.7) rotate(-66.1)" font-family="Liberation Sans, sans-serif" font-size="7.5" text-anchor="middle" dy="2.7" fill="#222">6</text><text transform="translate(130.5 52.3) rotate(6.2)" font-family="Liberation Sans, sans-serif" font-size="7.5" text-anchor="middle" dy="2.7" fill="#222">6</text><text transform="translate(179.6 87.7) rotate(66.1)" font-family="Liberation Sans, sans-serif" font-size="7.5" text-anchor="middle" dy="2.7" fill="#222">6</text><text transform="translate(160 165.2) rotate(-34.2)" font-family="Liberation Sans, sans-serif" font-size="7.5" text-anchor="middle" dy="2.7" fill="#222">6</text><text transform="translate(88 164.4) rotate(34.6)" font-family="Liberation Sans, sans-serif" font-size="7.5" text-anchor="middle" dy="2.7" fill="#222">6</text><text transform="translate(45.5 90.2) rotate(-74.3)" font-family="Liberation Sans, sans-serif" font-size="7.5" text-anchor="middle" dy="2.7" fill="#222">8</text><text transform="translate(99.5 34.8) rotate(-17.5)" font-family="Liberation Sans, sans-serif" font-size="7.5" text-anchor="middle" dy="2.7" fill="#222">8</text><text transform="translate(168.2 44.9) rotate(33.3)" font-family="Liberation Sans, sans-serif" font-size="7.5" text-anchor="middle" dy="2.7" fill="#222">8</text><text transform="translate(192.7 68.9) rotate(57.7)" font-family="Liberation Sans, sans-serif" font-size="7.5" text-anchor="middle" dy="2.7" fill="#222">8</text><text transform="translate(197 154) rotate(-60.3)" font-family="Liberation Sans, sans-serif" font-size="7.5" text-anchor="middle" dy="2.7" fill="#222">8</text><text transform="translate(132 194.7) rotate(-5.5)" font-family="Liberation Sans, sans-serif" font-size="7.5" text-anchor="middle" dy="2.7" fill="#222">8</text><text transform="translate(64.3 170.9) rotate(45.5)" font-family="Liberation Sans, sans-serif" font-size="7.5" text-anchor="middle" dy="2.7" fill="#222">8</text>

<rect x="34.5" y="22.5" width="179.5" height="180" fill="none" stroke="#404040" stroke-width="0.8"/>
<path d="M34.5,22.5h2M213.5,22.5h-2M34.5,40.5h2M213.5,40.5h-2M34.5,58.5h2M213.5,58.5h-2M34.5,76.5h2M213.5,76.5h-2M34.5,94.5h2M213.5,94.5h-2M34.5,112.5h2M213.5,112.5h-2M34.5,130.5h2M213.5,130.5h-2M34.5,148.5h2M213.5,148.5h-2M34.5,166.5h2M213.5,166.5h-2M34.5,184.5h2M213.5,184.5h-2M34.5,202.5h2M213.5,202.5h-2M34.50,202.5v-2M34.50,22.5v2M79.25,202.5v-2M79.25,22.5v2M124.00,202.5v-2M124.00,22.5v2M168.75,202.5v-2M168.75,22.5v2M213.50,202.5v-2M213.50,22.5v2" stroke="#555" stroke-width="0.6" fill="none"/>
<rect x="303.5" y="16.8" width="204.0" height="190.79999999999998" fill="none" stroke="#888" stroke-width="0.5"/>
<path d="M303.5,207.60h2M507.5,207.60h-2M303.5,183.75h2M507.5,183.75h-2M303.5,159.90h2M507.5,159.90h-2M303.5,136.05h2M507.5,136.05h-2M303.5,112.20h2M507.5,112.20h-2M303.5,88.35h2M507.5,88.35h-2M303.5,64.50h2M507.5,64.50h-2M303.5,40.65h2M507.5,40.65h-2M303.5,16.80h2M507.5,16.80h-2M303.50,207.6v-2M303.50,16.8v2M331.83,207.6v-2M331.83,16.8v2M360.17,207.6v-2M360.17,16.8v2M388.50,207.6v-2M388.50,16.8v2M416.83,207.6v-2M416.83,16.8v2M445.17,207.6v-2M445.17,16.8v2M473.50,207.6v-2M473.50,16.8v2M501.83,207.6v-2M501.83,16.8v2" stroke="#222" stroke-width="0.8" fill="none"/>
<rect x="225.8" y="22.3" width="14.2" height="180.3" fill="url(#jetL)" stroke="#222" stroke-width="0.8"/>
<rect x="518.3" y="16.8" width="14.8" height="190.8" fill="url(#jetL)" stroke="#1a1a1a" stroke-width="0.8"/>
<path d="M225.8,22.30h1.5M240,22.30h-1.5M518.3,16.80h1.5M533.1,16.80h-1.5M225.8,44.84h1.5M240,44.84h-1.5M518.3,40.65h1.5M533.1,40.65h-1.5M225.8,67.38h1.5M240,67.38h-1.5M518.3,64.50h1.5M533.1,64.50h-1.5M225.8,89.91h1.5M240,89.91h-1.5M518.3,88.35h1.5M533.1,88.35h-1.5M225.8,112.45h1.5M240,112.45h-1.5M518.3,112.20h1.5M533.1,112.20h-1.5M225.8,134.99h1.5M240,134.99h-1.5M518.3,136.05h1.5M533.1,136.05h-1.5M225.8,157.53h1.5M240,157.53h-1.5M518.3,159.90h1.5M533.1,159.90h-1.5M225.8,180.06h1.5M240,180.06h-1.5M518.3,183.75h1.5M533.1,183.75h-1.5M225.8,202.60h1.5M240,202.60h-1.5M518.3,207.60h1.5M533.1,207.60h-1.5" stroke="#333" stroke-width="0.7" fill="none"/>

<text transform="translate(124 17.6) scale(0.906 1)" font-family="Liberation Sans, sans-serif" font-size="9" text-anchor="middle" fill="#404040" >Reflecitity (dBZ)</text>
<text transform="translate(32.8 26.0) scale(0.8 1)" font-family="Liberation Sans, sans-serif" font-size="8.2" text-anchor="end" fill="#2e2e2e" >100</text>
<text transform="translate(32.8 44.0) scale(0.8 1)" font-family="Liberation Sans, sans-serif" font-size="8.2" text-anchor="end" fill="#2e2e2e" >80</text>
<text transform="translate(32.8 62.0) scale(0.8 1)" font-family="Liberation Sans, sans-serif" font-size="8.2" text-anchor="end" fill="#2e2e2e" >60</text>
<text transform="translate(32.8 80.0) scale(0.8 1)" font-family="Liberation Sans, sans-serif" font-size="8.2" text-anchor="end" fill="#2e2e2e" >40</text>
<text transform="translate(32.8 98.0) scale(0.8 1)" font-family="Liberation Sans, sans-serif" font-size="8.2" text-anchor="end" fill="#2e2e2e" >20</text>
<text transform="translate(32.8 116.0) scale(0.8 1)" font-family="Liberation Sans, sans-serif" font-size="8.2" text-anchor="end" fill="#2e2e2e" >0</text>
<text transform="translate(32.8 134.0) scale(0.8 1)" font-family="Liberation Sans, sans-serif" font-size="8.2" text-anchor="end" fill="#2e2e2e" >-20</text>
<text transform="translate(32.8 152.0) scale(0.8 1)" font-family="Liberation Sans, sans-serif" font-size="8.2" text-anchor="end" fill="#2e2e2e" >-40</text>
<text transform="translate(32.8 170.0) scale(0.8 1)" font-family="Liberation Sans, sans-serif" font-size="8.2" text-anchor="end" fill="#2e2e2e" >-60</text>
<text transform="translate(32.8 188.0) scale(0.8 1)" font-family="Liberation Sans, sans-serif" font-size="8.2" text-anchor="end" fill="#2e2e2e" >-80</text>
<text transform="translate(32.8 206.0) scale(0.8 1)" font-family="Liberation Sans, sans-serif" font-size="8.2" text-anchor="end" fill="#2e2e2e" >-100</text>
<text transform="translate(34.699999999999996 212.0) scale(0.86 1)" font-family="Liberation Sans, sans-serif" font-size="8.2" text-anchor="middle" fill="#2e2e2e" >-100</text>
<text transform="translate(79.6 212.0) scale(0.86 1)" font-family="Liberation Sans, sans-serif" font-size="8.2" text-anchor="middle" fill="#2e2e2e" >-50</text>
<text transform="translate(124.49999999999999 212.0) scale(0.86 1)" font-family="Liberation Sans, sans-serif" font-size="8.2" text-anchor="middle" fill="#2e2e2e" >0</text>
<text transform="translate(169.4 212.0) scale(0.86 1)" font-family="Liberation Sans, sans-serif" font-size="8.2" text-anchor="middle" fill="#2e2e2e" >50</text>
<text transform="translate(214.3 212.0) scale(0.86 1)" font-family="Liberation Sans, sans-serif" font-size="8.2" text-anchor="middle" fill="#2e2e2e" >100</text>
<text transform="translate(123.5 221.8) scale(0.91 1)" font-family="Liberation Sans, sans-serif" font-size="9" text-anchor="middle" fill="#404040" >Zonal Distance (km)</text>
<text transform="translate(14 112.6) rotate(-90) scale(0.935 1)" font-family="Liberation Sans, sans-serif" font-size="9" text-anchor="middle" fill="#404040">Meridional Distance (km)</text>
<text transform="translate(240.9 25.8) scale(0.84 1)" font-family="Liberation Sans, sans-serif" font-size="8.2" text-anchor="start" fill="#2e2e2e" >60</text>
<text transform="translate(240.9 48.3) scale(0.84 1)" font-family="Liberation Sans, sans-serif" font-size="8.2" text-anchor="start" fill="#2e2e2e" >50</text>
<text transform="translate(240.9 70.8) scale(0.84 1)" font-family="Liberation Sans, sans-serif" font-size="8.2" text-anchor="start" fill="#2e2e2e" >40</text>
<text transform="translate(240.9 93.3) scale(0.84 1)" font-family="Liberation Sans, sans-serif" font-size="8.2" text-anchor="start" fill="#2e2e2e" >30</text>
<text transform="translate(240.9 115.8) scale(0.84 1)" font-family="Liberation Sans, sans-serif" font-size="8.2" text-anchor="start" fill="#2e2e2e" >20</text>
<text transform="translate(240.9 138.3) scale(0.84 1)" font-family="Liberation Sans, sans-serif" font-size="8.2" text-anchor="start" fill="#2e2e2e" >10</text>
<text transform="translate(240.9 160.8) scale(0.84 1)" font-family="Liberation Sans, sans-serif" font-size="8.2" text-anchor="start" fill="#2e2e2e" >0</text>
<text transform="translate(240.9 183.3) scale(0.84 1)" font-family="Liberation Sans, sans-serif" font-size="8.2" text-anchor="start" fill="#2e2e2e" >-10</text>
<text transform="translate(240.9 205.8) scale(0.84 1)" font-family="Liberation Sans, sans-serif" font-size="8.2" text-anchor="start" fill="#2e2e2e" >-20</text>
<text transform="translate(404.4 10.9) scale(0.95 1)" font-family="Liberation Sans, sans-serif" font-size="9" text-anchor="middle" fill="#000" >Reflectivity (dBZ) Mapped on the Height-azimuth Plane</text>
<text transform="translate(300.8 210.6) scale(0.88 1)" font-family="Liberation Sans, sans-serif" font-size="8.2" text-anchor="end" fill="#222" >0</text>
<text transform="translate(300.8 186.75) scale(0.88 1)" font-family="Liberation Sans, sans-serif" font-size="8.2" text-anchor="end" fill="#222" >1</text>
<text transform="translate(300.8 162.9) scale(0.88 1)" font-family="Liberation Sans, sans-serif" font-size="8.2" text-anchor="end" fill="#222" >2</text>
<text transform="translate(300.8 139.05) scale(0.88 1)" font-family="Liberation Sans, sans-serif" font-size="8.2" text-anchor="end" fill="#222" >3</text>
<text transform="translate(300.8 115.2) scale(0.88 1)" font-family="Liberation Sans, sans-serif" font-size="8.2" text-anchor="end" fill="#222" >4</text>
<text transform="translate(300.8 91.35000000000001) scale(0.88 1)" font-family="Liberation Sans, sans-serif" font-size="8.2" text-anchor="end" fill="#222" >5</text>
<text transform="translate(300.8 67.5) scale(0.88 1)" font-family="Liberation Sans, sans-serif" font-size="8.2" text-anchor="end" fill="#222" >6</text>
<text transform="translate(300.8 43.650000000000006) scale(0.88 1)" font-family="Liberation Sans, sans-serif" font-size="8.2" text-anchor="end" fill="#222" >7</text>
<text transform="translate(300.8 19.80000000000001) scale(0.88 1)" font-family="Liberation Sans, sans-serif" font-size="8.2" text-anchor="end" fill="#222" >8</text>
<text transform="translate(303.5 217.0) scale(0.9 1)" font-family="Liberation Sans, sans-serif" font-size="8.2" text-anchor="middle" fill="#1a1a1a" >0</text>
<text transform="translate(331.8333333333333 217.0) scale(0.9 1)" font-family="Liberation Sans, sans-serif" font-size="8.2" text-anchor="middle" fill="#1a1a1a" >50</text>
<text transform="translate(360.1666666666667 217.0) scale(0.9 1)" font-family="Liberation Sans, sans-serif" font-size="8.2" text-anchor="middle" fill="#1a1a1a" >100</text>
<text transform="translate(388.5 217.0) scale(0.9 1)" font-family="Liberation Sans, sans-serif" font-size="8.2" text-anchor="middle" fill="#1a1a1a" >150</text>
<text transform="translate(416.8333333333333 217.0) scale(0.9 1)" font-family="Liberation Sans, sans-serif" font-size="8.2" text-anchor="middle" fill="#1a1a1a" >200</text>
<text transform="translate(445.16666666666663 217.0) scale(0.9 1)" font-family="Liberation Sans, sans-serif" font-size="8.2" text-anchor="middle" fill="#1a1a1a" >250</text>
<text transform="translate(473.5 217.0) scale(0.9 1)" font-family="Liberation Sans, sans-serif" font-size="8.2" text-anchor="middle" fill="#1a1a1a" >300</text>
<text transform="translate(501.83333333333337 217.0) scale(0.9 1)" font-family="Liberation Sans, sans-serif" font-size="8.2" text-anchor="middle" fill="#1a1a1a" >350</text>
<text transform="translate(350.5 229.8) scale(0.95 1)" font-family="Liberation Sans, sans-serif" font-size="9" fill="#111">Azimuth angle from North (<tspan font-size="5.8" dy="-5.3">o</tspan><tspan dy="5.3">)</tspan></text>
<text transform="translate(291.7 112.6) rotate(-90)" font-family="Liberation Sans, sans-serif" font-size="9" text-anchor="middle" fill="#111">Height (km)</text>
<text transform="translate(535.3 19.8) scale(0.88 1)" font-family="Liberation Sans, sans-serif" font-size="8.2" text-anchor="start" fill="#222" >60</text>
<text transform="translate(535.3 43.65) scale(0.88 1)" font-family="Liberation Sans, sans-serif" font-size="8.2" text-anchor="start" fill="#222" >50</text>
<text transform="translate(535.3 67.5) scale(0.88 1)" font-family="Liberation Sans, sans-serif" font-size="8.2" text-anchor="start" fill="#222" >40</text>
<text transform="translate(535.3 91.35) scale(0.88 1)" font-family="Liberation Sans, sans-serif" font-size="8.2" text-anchor="start" fill="#222" >30</text>
<text transform="translate(535.3 115.19999999999999) scale(0.88 1)" font-family="Liberation Sans, sans-serif" font-size="8.2" text-anchor="start" fill="#222" >20</text>
<text transform="translate(535.3 139.04999999999998) scale(0.88 1)" font-family="Liberation Sans, sans-serif" font-size="8.2" text-anchor="start" fill="#222" >10</text>
<text transform="translate(535.3 162.9) scale(0.88 1)" font-family="Liberation Sans, sans-serif" font-size="8.2" text-anchor="start" fill="#222" >0</text>
<text transform="translate(535.3 186.75) scale(0.88 1)" font-family="Liberation Sans, sans-serif" font-size="8.2" text-anchor="start" fill="#222" >-10</text>
<text transform="translate(535.3 210.6) scale(0.88 1)" font-family="Liberation Sans, sans-serif" font-size="8.2" text-anchor="start" fill="#222" >-20</text>
<text x="131.5" y="251.5" font-family="Liberation Serif, serif" font-size="17" text-anchor="middle" fill="#000">(<tspan font-weight="bold">a</tspan>)</text>
<text x="415.6" y="251.5" font-family="Liberation Serif, serif" font-size="17" text-anchor="middle" fill="#000">(<tspan font-weight="bold">b</tspan>)</text>
</svg></body></html>
